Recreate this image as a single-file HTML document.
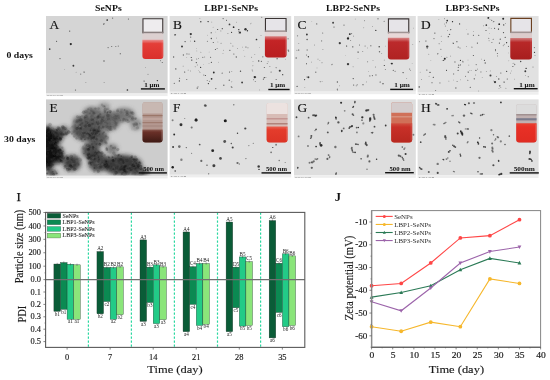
<!DOCTYPE html>
<html><head><meta charset="utf-8"><style>html,body{margin:0;padding:0;background:#fff;width:550px;height:380px;overflow:hidden}svg{display:block}</style></head>
<body><svg width="550" height="380" viewBox="0 0 550 380">
<defs><filter id="blur1" x="-50%" y="-50%" width="200%" height="200%"><feGaussianBlur stdDeviation="2.2"/></filter><filter id="blur2" x="-50%" y="-50%" width="200%" height="200%"><feGaussianBlur stdDeviation="0.9"/></filter><filter id="soft" x="-50%" y="-50%" width="200%" height="200%"><feGaussianBlur stdDeviation="0.35"/></filter><clipPath id="clipE"><rect x="46" y="99.4" width="121.6" height="76.4"/></clipPath></defs>
<rect x="46" y="16" width="121.6" height="77.5" fill="#d5d5d5"/>
<g filter="url(#soft)"><circle cx="148.0" cy="74.2" r="0.47" fill="#202020" fill-opacity="0.59"/><circle cx="108.1" cy="47.6" r="0.61" fill="#202020" fill-opacity="0.62"/><circle cx="104.0" cy="61.0" r="0.66" fill="#202020" fill-opacity="0.73"/><circle cx="80.7" cy="74.1" r="0.55" fill="#202020" fill-opacity="0.59"/><circle cx="84.1" cy="72.1" r="0.66" fill="#202020" fill-opacity="0.83"/><circle cx="103.5" cy="24.6" r="0.47" fill="#202020" fill-opacity="0.79"/><circle cx="104.1" cy="82.3" r="0.40" fill="#202020" fill-opacity="0.89"/><circle cx="112.6" cy="18.1" r="0.59" fill="#202020" fill-opacity="0.67"/><circle cx="145.7" cy="67.4" r="0.30" fill="#202020" fill-opacity="0.72"/><circle cx="85.9" cy="82.7" r="0.38" fill="#202020" fill-opacity="0.76"/><circle cx="75.5" cy="90.0" r="0.62" fill="#202020" fill-opacity="0.70"/><circle cx="56.6" cy="41.2" r="0.50" fill="#202020" fill-opacity="0.96"/><circle cx="60.0" cy="58.6" r="0.58" fill="#202020" fill-opacity="0.75"/><circle cx="162.3" cy="62.5" r="0.54" fill="#202020" fill-opacity="0.69"/><circle cx="118.3" cy="46.1" r="0.53" fill="#202020" fill-opacity="0.61"/><circle cx="69.7" cy="31.1" r="0.55" fill="#202020" fill-opacity="0.81"/><circle cx="104.0" cy="23.8" r="0.60" fill="#202020" fill-opacity="0.93"/><circle cx="157.4" cy="80.6" r="0.66" fill="#202020" fill-opacity="0.96"/><circle cx="111.7" cy="46.5" r="0.58" fill="#202020" fill-opacity="0.60"/><circle cx="144.1" cy="81.1" r="0.66" fill="#202020" fill-opacity="0.77"/><circle cx="160.6" cy="60.8" r="0.48" fill="#202020" fill-opacity="0.81"/><circle cx="120.3" cy="53.7" r="0.55" fill="#202020" fill-opacity="0.91"/><circle cx="76.1" cy="72.2" r="0.35" fill="#202020" fill-opacity="0.57"/><circle cx="64.5" cy="69.7" r="0.32" fill="#202020" fill-opacity="0.77"/><circle cx="128.4" cy="19.0" r="0.55" fill="#202020" fill-opacity="0.78"/><circle cx="115.9" cy="46.5" r="0.45" fill="#202020" fill-opacity="0.99"/><circle cx="49.7" cy="49.1" r="0.84" fill="#202020" fill-opacity="0.85"/><circle cx="73.4" cy="65.8" r="0.94" fill="#202020" fill-opacity="0.84"/><circle cx="107.2" cy="20.0" r="0.84" fill="#202020" fill-opacity="1.00"/><circle cx="70.8" cy="44.1" r="1.09" fill="#202020" fill-opacity="0.97"/><circle cx="127.4" cy="90.0" r="0.82" fill="#202020" fill-opacity="0.94"/></g>
<defs><linearGradient id="v1442" x1="0" y1="0" x2="0" y2="1"><stop offset="0" stop-color="#e89090"/><stop offset="0.2" stop-color="#e43e38"/><stop offset="1" stop-color="#da302c"/></linearGradient></defs><path d="M142.4,18.2 Q142.4,18.2 142.4,18.2 L163.3,18.2 Q163.3,18.2 163.3,18.2 L163.3,56 Q163.3,59 160.3,59 L145.4,59 Q142.4,59 142.4,56 Z" fill="#dcd0d0"/><path d="M142.4,18.2 Q142.4,18.2 142.4,18.2 L163.3,18.2 Q163.3,18.2 163.3,18.2 L163.3,31.7 L142.4,31.7 Z" fill="#eeecee"/><path d="M142.95000000000002,33.2 L142.95000000000002,18.75 L162.75,18.75 L162.75,33.2" fill="none" stroke="#3a3434" stroke-width="1.1"/><rect x="142.4" y="31.7" width="20.9" height="1.5" fill="#8a8080"/><path d="M142.4,39.8 L163.3,39.8 L163.3,56 Q163.3,59 160.3,59 L145.4,59 Q142.4,59 142.4,56 Z" fill="url(#v1442)"/><rect x="161.70000000000002" y="40.8" width="1.2" height="16.2" fill="#fff" fill-opacity="0.12"/>
<rect x="46" y="93.5" width="121.6" height="2.6" fill="#eeeeee"/>
<text x="46.8" y="95.9" font-size="2.8" fill="#555" font-family="Liberation Serif, Times New Roman, serif">JL.DTX.TEM</text>
<text x="49.40" y="28.90" font-size="13.4" fill="#111" font-family="Liberation Serif, Times New Roman, serif" stroke="#111" stroke-width="0.15">A</text>
<rect x="140.9" y="88.2" width="24.0" height="1.4" fill="#111"/>
<text transform="translate(151.85,86.70) scale(1,0.78)" font-size="7.0" font-weight="bold" text-anchor="middle" textLength="15.3" lengthAdjust="spacingAndGlyphs" fill="#111" font-family="Liberation Serif, Times New Roman, serif">1 μm</text>
<rect x="169.6" y="16" width="121.6" height="75.8" fill="#dfdfdf"/>
<g filter="url(#soft)"><circle cx="186.7" cy="79.5" r="0.61" fill="#202020" fill-opacity="0.59"/><circle cx="229.9" cy="50.2" r="0.56" fill="#202020" fill-opacity="0.88"/><circle cx="261.8" cy="17.2" r="0.48" fill="#202020" fill-opacity="0.85"/><circle cx="198.0" cy="86.8" r="0.66" fill="#202020" fill-opacity="0.47"/><circle cx="173.6" cy="57.0" r="0.68" fill="#202020" fill-opacity="0.66"/><circle cx="196.5" cy="48.2" r="0.31" fill="#202020" fill-opacity="0.57"/><circle cx="223.0" cy="53.6" r="0.39" fill="#202020" fill-opacity="0.58"/><circle cx="196.8" cy="50.9" r="0.42" fill="#202020" fill-opacity="0.46"/><circle cx="247.4" cy="30.7" r="0.70" fill="#202020" fill-opacity="0.92"/><circle cx="185.1" cy="41.6" r="0.59" fill="#202020" fill-opacity="0.84"/><circle cx="269.9" cy="66.5" r="0.42" fill="#202020" fill-opacity="0.77"/><circle cx="276.1" cy="79.4" r="0.50" fill="#202020" fill-opacity="0.77"/><circle cx="174.7" cy="34.9" r="0.62" fill="#202020" fill-opacity="0.68"/><circle cx="191.3" cy="57.5" r="0.58" fill="#202020" fill-opacity="0.82"/><circle cx="215.4" cy="49.4" r="0.50" fill="#202020" fill-opacity="0.88"/><circle cx="232.9" cy="46.0" r="0.50" fill="#202020" fill-opacity="0.47"/><circle cx="175.8" cy="68.9" r="0.69" fill="#202020" fill-opacity="0.78"/><circle cx="217.7" cy="29.6" r="0.50" fill="#202020" fill-opacity="0.99"/><circle cx="262.8" cy="56.8" r="0.64" fill="#202020" fill-opacity="0.58"/><circle cx="232.0" cy="87.3" r="0.53" fill="#202020" fill-opacity="0.70"/><circle cx="202.8" cy="57.4" r="0.68" fill="#202020" fill-opacity="0.45"/><circle cx="264.3" cy="77.6" r="0.65" fill="#202020" fill-opacity="0.86"/><circle cx="237.7" cy="48.4" r="0.32" fill="#202020" fill-opacity="0.93"/><circle cx="238.8" cy="31.7" r="0.50" fill="#202020" fill-opacity="0.72"/><circle cx="213.3" cy="42.5" r="0.52" fill="#202020" fill-opacity="0.79"/><circle cx="243.8" cy="50.8" r="0.31" fill="#202020" fill-opacity="0.58"/><circle cx="191.8" cy="60.1" r="0.64" fill="#202020" fill-opacity="0.89"/><circle cx="265.9" cy="77.3" r="0.40" fill="#202020" fill-opacity="0.91"/><circle cx="251.1" cy="23.1" r="0.31" fill="#202020" fill-opacity="0.46"/><circle cx="261.0" cy="35.4" r="0.34" fill="#202020" fill-opacity="0.79"/><circle cx="211.8" cy="22.1" r="0.36" fill="#202020" fill-opacity="0.74"/><circle cx="190.7" cy="37.1" r="0.58" fill="#202020" fill-opacity="0.70"/><circle cx="209.1" cy="52.0" r="0.31" fill="#202020" fill-opacity="0.66"/><circle cx="220.9" cy="30.9" r="0.34" fill="#202020" fill-opacity="0.94"/><circle cx="231.6" cy="32.4" r="0.54" fill="#202020" fill-opacity="0.90"/><circle cx="188.1" cy="70.1" r="0.36" fill="#202020" fill-opacity="0.84"/><circle cx="251.7" cy="57.2" r="0.39" fill="#202020" fill-opacity="0.99"/><circle cx="197.3" cy="64.9" r="0.46" fill="#202020" fill-opacity="0.77"/><circle cx="209.0" cy="63.6" r="0.32" fill="#202020" fill-opacity="0.61"/><circle cx="207.2" cy="80.4" r="0.42" fill="#202020" fill-opacity="0.97"/><circle cx="259.6" cy="47.7" r="0.40" fill="#202020" fill-opacity="0.45"/><circle cx="238.8" cy="29.7" r="0.65" fill="#202020" fill-opacity="0.99"/><circle cx="254.8" cy="54.6" r="0.45" fill="#202020" fill-opacity="0.64"/><circle cx="195.2" cy="66.8" r="0.47" fill="#202020" fill-opacity="0.56"/><circle cx="183.1" cy="66.1" r="0.42" fill="#202020" fill-opacity="0.72"/><circle cx="209.5" cy="81.3" r="0.66" fill="#202020" fill-opacity="0.46"/><circle cx="194.6" cy="41.2" r="0.69" fill="#202020" fill-opacity="0.88"/><circle cx="211.2" cy="32.7" r="0.57" fill="#202020" fill-opacity="0.91"/><circle cx="276.1" cy="67.7" r="0.49" fill="#202020" fill-opacity="0.99"/><circle cx="198.7" cy="70.5" r="0.33" fill="#202020" fill-opacity="0.54"/><circle cx="261.4" cy="61.3" r="0.64" fill="#202020" fill-opacity="0.65"/><circle cx="211.3" cy="38.5" r="0.65" fill="#202020" fill-opacity="0.78"/><circle cx="186.8" cy="57.7" r="0.34" fill="#202020" fill-opacity="0.47"/><circle cx="179.4" cy="80.9" r="0.62" fill="#202020" fill-opacity="0.91"/><circle cx="211.4" cy="62.4" r="0.61" fill="#202020" fill-opacity="0.66"/><circle cx="238.9" cy="33.5" r="0.33" fill="#202020" fill-opacity="0.60"/><circle cx="277.1" cy="58.7" r="0.67" fill="#202020" fill-opacity="0.70"/><circle cx="203.8" cy="75.1" r="0.63" fill="#202020" fill-opacity="0.46"/><circle cx="250.8" cy="23.8" r="0.35" fill="#202020" fill-opacity="0.94"/><circle cx="175.4" cy="34.7" r="0.70" fill="#202020" fill-opacity="0.68"/><circle cx="199.5" cy="71.9" r="0.34" fill="#202020" fill-opacity="0.95"/><circle cx="215.8" cy="88.6" r="0.66" fill="#202020" fill-opacity="0.61"/><circle cx="200.9" cy="52.2" r="0.34" fill="#202020" fill-opacity="0.81"/><circle cx="288.1" cy="38.8" r="0.54" fill="#202020" fill-opacity="0.70"/><circle cx="208.1" cy="21.6" r="0.67" fill="#202020" fill-opacity="0.98"/><circle cx="196.3" cy="62.6" r="0.69" fill="#202020" fill-opacity="0.75"/><circle cx="252.9" cy="65.8" r="0.40" fill="#202020" fill-opacity="0.75"/><circle cx="207.4" cy="35.2" r="0.33" fill="#202020" fill-opacity="0.60"/><circle cx="288.2" cy="50.1" r="0.56" fill="#202020" fill-opacity="0.80"/><circle cx="207.3" cy="41.2" r="0.43" fill="#202020" fill-opacity="0.92"/><circle cx="210.6" cy="57.2" r="0.53" fill="#202020" fill-opacity="0.78"/><circle cx="199.9" cy="18.5" r="0.40" fill="#202020" fill-opacity="0.49"/><circle cx="236.5" cy="22.2" r="0.33" fill="#202020" fill-opacity="0.80"/><circle cx="205.4" cy="75.5" r="0.50" fill="#202020" fill-opacity="0.92"/><circle cx="189.0" cy="54.0" r="0.62" fill="#202020" fill-opacity="0.49"/><circle cx="183.4" cy="55.0" r="0.67" fill="#202020" fill-opacity="0.61"/><circle cx="208.4" cy="83.6" r="0.62" fill="#202020" fill-opacity="0.95"/><circle cx="271.1" cy="72.1" r="0.58" fill="#202020" fill-opacity="0.55"/><circle cx="222.3" cy="28.7" r="0.59" fill="#202020" fill-opacity="0.82"/><circle cx="200.8" cy="21.8" r="0.69" fill="#202020" fill-opacity="0.89"/><circle cx="236.3" cy="57.0" r="0.64" fill="#202020" fill-opacity="0.70"/><circle cx="217.9" cy="42.0" r="0.40" fill="#202020" fill-opacity="0.46"/><circle cx="247.9" cy="47.8" r="0.53" fill="#202020" fill-opacity="0.48"/><circle cx="213.1" cy="27.2" r="0.35" fill="#202020" fill-opacity="0.59"/><circle cx="218.6" cy="62.2" r="0.39" fill="#202020" fill-opacity="0.45"/><circle cx="233.8" cy="54.0" r="0.56" fill="#202020" fill-opacity="0.69"/><circle cx="252.7" cy="71.0" r="0.40" fill="#202020" fill-opacity="0.72"/><circle cx="227.9" cy="33.6" r="0.46" fill="#202020" fill-opacity="0.76"/><circle cx="203.5" cy="64.7" r="0.32" fill="#202020" fill-opacity="0.49"/><circle cx="231.8" cy="81.8" r="0.36" fill="#202020" fill-opacity="0.87"/><circle cx="253.4" cy="79.7" r="0.45" fill="#202020" fill-opacity="0.84"/><circle cx="258.7" cy="60.9" r="0.64" fill="#202020" fill-opacity="0.94"/><circle cx="285.4" cy="59.2" r="0.37" fill="#202020" fill-opacity="0.59"/><circle cx="196.6" cy="59.0" r="0.60" fill="#202020" fill-opacity="0.48"/><circle cx="252.1" cy="69.9" r="0.44" fill="#202020" fill-opacity="0.73"/><circle cx="190.3" cy="70.9" r="0.32" fill="#202020" fill-opacity="0.99"/><circle cx="267.2" cy="63.4" r="0.41" fill="#202020" fill-opacity="0.95"/><circle cx="263.4" cy="79.1" r="0.56" fill="#202020" fill-opacity="0.84"/><circle cx="223.8" cy="85.2" r="0.69" fill="#202020" fill-opacity="0.66"/><circle cx="190.3" cy="41.0" r="0.35" fill="#202020" fill-opacity="0.95"/><circle cx="242.4" cy="47.1" r="0.35" fill="#202020" fill-opacity="0.61"/><circle cx="200.3" cy="72.3" r="0.30" fill="#202020" fill-opacity="0.55"/><circle cx="223.1" cy="18.6" r="0.55" fill="#202020" fill-opacity="0.78"/><circle cx="204.7" cy="57.0" r="0.41" fill="#202020" fill-opacity="0.77"/><circle cx="200.6" cy="67.4" r="0.62" fill="#202020" fill-opacity="0.89"/><circle cx="229.3" cy="80.2" r="0.61" fill="#202020" fill-opacity="0.76"/><circle cx="216.4" cy="38.0" r="0.34" fill="#202020" fill-opacity="0.89"/><circle cx="184.7" cy="72.1" r="0.52" fill="#202020" fill-opacity="0.98"/><circle cx="186.9" cy="53.9" r="0.53" fill="#202020" fill-opacity="0.62"/><circle cx="230.8" cy="43.3" r="0.51" fill="#202020" fill-opacity="0.45"/><circle cx="223.5" cy="50.2" r="0.42" fill="#202020" fill-opacity="0.67"/><circle cx="264.3" cy="67.4" r="0.50" fill="#202020" fill-opacity="0.81"/><circle cx="215.8" cy="32.0" r="0.30" fill="#202020" fill-opacity="0.60"/><circle cx="242.1" cy="82.1" r="0.63" fill="#202020" fill-opacity="0.73"/><circle cx="288.6" cy="51.1" r="0.63" fill="#202020" fill-opacity="0.67"/><circle cx="259.7" cy="89.9" r="0.42" fill="#202020" fill-opacity="0.54"/><circle cx="244.8" cy="56.2" r="0.44" fill="#202020" fill-opacity="0.45"/><circle cx="217.1" cy="48.4" r="0.46" fill="#202020" fill-opacity="0.92"/><circle cx="240.5" cy="71.2" r="0.66" fill="#202020" fill-opacity="0.86"/><circle cx="229.5" cy="72.0" r="0.56" fill="#202020" fill-opacity="0.81"/><circle cx="245.9" cy="47.0" r="0.55" fill="#202020" fill-opacity="0.80"/><circle cx="282.7" cy="74.7" r="0.64" fill="#202020" fill-opacity="0.87"/><circle cx="268.1" cy="61.7" r="0.44" fill="#202020" fill-opacity="0.60"/><circle cx="255.3" cy="81.5" r="0.52" fill="#202020" fill-opacity="0.53"/><circle cx="226.5" cy="20.3" r="0.50" fill="#202020" fill-opacity="0.86"/><circle cx="221.1" cy="43.2" r="0.56" fill="#202020" fill-opacity="0.46"/><circle cx="231.3" cy="86.8" r="0.58" fill="#202020" fill-opacity="0.67"/><circle cx="253.0" cy="61.6" r="0.38" fill="#202020" fill-opacity="0.56"/><circle cx="179.6" cy="78.3" r="0.51" fill="#202020" fill-opacity="0.65"/><circle cx="231.8" cy="71.4" r="0.37" fill="#202020" fill-opacity="0.81"/><circle cx="255.9" cy="77.1" r="0.41" fill="#202020" fill-opacity="0.79"/><circle cx="198.4" cy="58.4" r="0.37" fill="#202020" fill-opacity="0.88"/><circle cx="197.2" cy="88.1" r="0.58" fill="#202020" fill-opacity="0.91"/><circle cx="174.3" cy="83.4" r="0.55" fill="#202020" fill-opacity="0.62"/><circle cx="222.2" cy="73.2" r="0.61" fill="#202020" fill-opacity="0.55"/><circle cx="245.5" cy="29.2" r="1.19" fill="#202020" fill-opacity="0.89"/><circle cx="279.8" cy="70.7" r="1.04" fill="#202020" fill-opacity="0.85"/><circle cx="233.6" cy="27.2" r="0.86" fill="#202020" fill-opacity="0.94"/><circle cx="213.8" cy="72.5" r="0.90" fill="#202020" fill-opacity="0.94"/><circle cx="256.5" cy="39.5" r="0.84" fill="#202020" fill-opacity="0.88"/><circle cx="229.5" cy="24.4" r="0.87" fill="#202020" fill-opacity="0.81"/><circle cx="242.1" cy="82.6" r="0.89" fill="#202020" fill-opacity="0.81"/><circle cx="254.8" cy="77.1" r="1.19" fill="#202020" fill-opacity="0.92"/><circle cx="211.6" cy="78.8" r="0.85" fill="#202020" fill-opacity="0.94"/><circle cx="182.0" cy="46.5" r="1.00" fill="#202020" fill-opacity="0.88"/><circle cx="190.8" cy="34.1" r="1.13" fill="#202020" fill-opacity="0.89"/><circle cx="240.0" cy="32.6" r="1.09" fill="#202020" fill-opacity="0.87"/></g>
<defs><linearGradient id="v2666" x1="0" y1="0" x2="0" y2="1"><stop offset="0" stop-color="#d88080"/><stop offset="0.2" stop-color="#c42426"/><stop offset="1" stop-color="#b81e20"/></linearGradient></defs><path d="M264.9,17.9 Q264.9,17.9 264.9,17.9 L286.6,17.9 Q286.6,17.9 286.6,17.9 L286.6,54.6 Q286.6,57.6 283.6,57.6 L267.9,57.6 Q264.9,57.6 264.9,54.6 Z" fill="#e4d6d6"/><path d="M264.9,17.9 Q264.9,17.9 264.9,17.9 L286.6,17.9 Q286.6,17.9 286.6,17.9 L286.6,30.4 L264.9,30.4 Z" fill="#e6e4e8"/><path d="M265.45,31.9 L265.45,18.45 L286.05,18.45 L286.05,31.9" fill="none" stroke="#3a3434" stroke-width="1.1"/><rect x="264.9" y="30.4" width="21.7" height="1.5" fill="#a09494"/><path d="M264.9,36.3 L286.6,36.3 L286.6,54.6 Q286.6,57.6 283.6,57.6 L267.9,57.6 Q264.9,57.6 264.9,54.6 Z" fill="url(#v2666)"/><rect x="285.0" y="37.3" width="1.2" height="18.3" fill="#fff" fill-opacity="0.12"/>
<rect x="169.6" y="91.8" width="121.6" height="2.6" fill="#eeeeee"/>
<text x="170.4" y="94.2" font-size="2.8" fill="#555" font-family="Liberation Serif, Times New Roman, serif">JL.DTX.TEM</text>
<text x="173.00" y="28.90" font-size="13.4" fill="#111" font-family="Liberation Serif, Times New Roman, serif" stroke="#111" stroke-width="0.15">B</text>
<rect x="268.3" y="88.8" width="21.3" height="1.4" fill="#111"/>
<text transform="translate(277.55,87.40) scale(1,0.78)" font-size="7.0" font-weight="bold" text-anchor="middle" textLength="15.3" lengthAdjust="spacingAndGlyphs" fill="#111" font-family="Liberation Serif, Times New Roman, serif">1 μm</text>
<rect x="294" y="16" width="121.8" height="75.6" fill="#e0e0e0"/>
<g filter="url(#soft)"><circle cx="395.1" cy="71.2" r="0.57" fill="#202020" fill-opacity="0.62"/><circle cx="367.6" cy="61.7" r="0.53" fill="#202020" fill-opacity="0.54"/><circle cx="346.6" cy="46.0" r="0.59" fill="#202020" fill-opacity="1.00"/><circle cx="348.3" cy="36.7" r="0.31" fill="#202020" fill-opacity="0.47"/><circle cx="350.7" cy="40.4" r="0.45" fill="#202020" fill-opacity="0.94"/><circle cx="358.0" cy="58.3" r="0.39" fill="#202020" fill-opacity="0.46"/><circle cx="334.0" cy="27.1" r="0.50" fill="#202020" fill-opacity="1.00"/><circle cx="375.8" cy="30.4" r="0.66" fill="#202020" fill-opacity="0.89"/><circle cx="383.0" cy="83.7" r="0.61" fill="#202020" fill-opacity="0.88"/><circle cx="337.4" cy="89.2" r="0.68" fill="#202020" fill-opacity="0.54"/><circle cx="385.3" cy="69.6" r="0.48" fill="#202020" fill-opacity="0.74"/><circle cx="353.7" cy="85.1" r="0.50" fill="#202020" fill-opacity="0.91"/><circle cx="337.4" cy="82.0" r="0.66" fill="#202020" fill-opacity="0.70"/><circle cx="363.0" cy="84.7" r="0.59" fill="#202020" fill-opacity="0.72"/><circle cx="321.6" cy="40.9" r="0.58" fill="#202020" fill-opacity="0.54"/><circle cx="409.7" cy="69.0" r="0.50" fill="#202020" fill-opacity="0.73"/><circle cx="373.0" cy="60.3" r="0.42" fill="#202020" fill-opacity="0.56"/><circle cx="356.3" cy="85.8" r="0.55" fill="#202020" fill-opacity="0.49"/><circle cx="393.3" cy="70.4" r="0.66" fill="#202020" fill-opacity="0.56"/><circle cx="384.2" cy="21.3" r="0.56" fill="#202020" fill-opacity="0.60"/><circle cx="322.1" cy="81.4" r="0.34" fill="#202020" fill-opacity="0.74"/><circle cx="320.2" cy="81.8" r="0.47" fill="#202020" fill-opacity="0.84"/><circle cx="298.8" cy="43.7" r="0.37" fill="#202020" fill-opacity="0.82"/><circle cx="304.9" cy="87.3" r="0.31" fill="#202020" fill-opacity="0.85"/><circle cx="297.5" cy="35.8" r="0.63" fill="#202020" fill-opacity="0.54"/><circle cx="317.0" cy="67.9" r="0.45" fill="#202020" fill-opacity="0.47"/><circle cx="413.6" cy="28.1" r="0.31" fill="#202020" fill-opacity="0.64"/><circle cx="368.7" cy="71.6" r="0.35" fill="#202020" fill-opacity="0.64"/><circle cx="298.7" cy="50.0" r="0.61" fill="#202020" fill-opacity="0.86"/><circle cx="403.1" cy="72.6" r="0.64" fill="#202020" fill-opacity="0.84"/><circle cx="351.6" cy="33.6" r="0.56" fill="#202020" fill-opacity="0.62"/><circle cx="307.2" cy="50.0" r="0.65" fill="#202020" fill-opacity="0.52"/><circle cx="365.1" cy="45.9" r="0.51" fill="#202020" fill-opacity="0.53"/><circle cx="367.6" cy="47.9" r="0.31" fill="#202020" fill-opacity="0.76"/><circle cx="311.8" cy="21.2" r="0.31" fill="#202020" fill-opacity="0.54"/><circle cx="306.5" cy="63.7" r="0.50" fill="#202020" fill-opacity="0.99"/><circle cx="322.9" cy="49.7" r="0.40" fill="#202020" fill-opacity="0.78"/><circle cx="369.8" cy="75.9" r="0.58" fill="#202020" fill-opacity="0.59"/><circle cx="345.7" cy="55.7" r="0.30" fill="#202020" fill-opacity="0.47"/><circle cx="344.0" cy="25.2" r="0.59" fill="#202020" fill-opacity="0.58"/><circle cx="322.7" cy="33.0" r="0.51" fill="#202020" fill-opacity="0.71"/><circle cx="332.1" cy="64.2" r="0.38" fill="#202020" fill-opacity="0.95"/><circle cx="410.4" cy="70.6" r="0.47" fill="#202020" fill-opacity="0.73"/><circle cx="364.6" cy="20.8" r="0.47" fill="#202020" fill-opacity="0.74"/><circle cx="316.7" cy="23.9" r="0.62" fill="#202020" fill-opacity="0.65"/><circle cx="357.2" cy="84.8" r="0.54" fill="#202020" fill-opacity="0.61"/><circle cx="412.8" cy="44.4" r="0.31" fill="#202020" fill-opacity="0.83"/><circle cx="307.1" cy="39.5" r="0.64" fill="#202020" fill-opacity="0.82"/><circle cx="296.9" cy="50.2" r="0.46" fill="#202020" fill-opacity="0.72"/><circle cx="319.9" cy="60.3" r="0.33" fill="#202020" fill-opacity="0.61"/><circle cx="339.7" cy="85.8" r="0.33" fill="#202020" fill-opacity="0.87"/><circle cx="318.0" cy="59.1" r="0.46" fill="#202020" fill-opacity="0.70"/><circle cx="385.3" cy="46.1" r="0.35" fill="#202020" fill-opacity="0.52"/><circle cx="304.6" cy="79.6" r="0.56" fill="#202020" fill-opacity="0.98"/><circle cx="378.0" cy="18.8" r="0.56" fill="#202020" fill-opacity="0.88"/><circle cx="381.7" cy="53.6" r="0.44" fill="#202020" fill-opacity="0.70"/><circle cx="358.1" cy="52.1" r="0.68" fill="#202020" fill-opacity="0.89"/><circle cx="406.7" cy="78.5" r="0.42" fill="#202020" fill-opacity="0.58"/><circle cx="353.6" cy="36.1" r="0.47" fill="#202020" fill-opacity="0.82"/><circle cx="337.7" cy="90.4" r="0.36" fill="#202020" fill-opacity="0.68"/><circle cx="372.6" cy="26.5" r="0.42" fill="#202020" fill-opacity="0.58"/><circle cx="375.4" cy="67.1" r="0.48" fill="#202020" fill-opacity="0.74"/><circle cx="308.4" cy="56.8" r="0.68" fill="#202020" fill-opacity="0.87"/><circle cx="306.5" cy="55.0" r="0.59" fill="#202020" fill-opacity="0.59"/><circle cx="379.2" cy="46.7" r="0.70" fill="#202020" fill-opacity="0.88"/><circle cx="363.7" cy="27.7" r="0.48" fill="#202020" fill-opacity="0.47"/><circle cx="366.3" cy="81.9" r="0.37" fill="#202020" fill-opacity="0.73"/><circle cx="352.8" cy="46.8" r="0.58" fill="#202020" fill-opacity="0.97"/><circle cx="379.5" cy="51.8" r="0.68" fill="#202020" fill-opacity="0.63"/><circle cx="384.3" cy="65.5" r="0.60" fill="#202020" fill-opacity="0.92"/><circle cx="322.0" cy="62.7" r="0.46" fill="#202020" fill-opacity="0.82"/><circle cx="412.1" cy="63.7" r="0.30" fill="#202020" fill-opacity="0.71"/><circle cx="380.2" cy="82.0" r="0.56" fill="#202020" fill-opacity="0.90"/><circle cx="297.1" cy="86.4" r="0.59" fill="#202020" fill-opacity="0.78"/><circle cx="307.0" cy="77.0" r="0.61" fill="#202020" fill-opacity="0.56"/><circle cx="384.2" cy="60.1" r="0.38" fill="#202020" fill-opacity="0.89"/><circle cx="311.5" cy="62.1" r="0.47" fill="#202020" fill-opacity="0.59"/><circle cx="362.8" cy="51.4" r="0.38" fill="#202020" fill-opacity="0.98"/><circle cx="353.2" cy="78.6" r="0.56" fill="#202020" fill-opacity="0.87"/><circle cx="353.1" cy="66.7" r="0.43" fill="#202020" fill-opacity="0.60"/><circle cx="355.2" cy="19.0" r="0.33" fill="#202020" fill-opacity="0.86"/><circle cx="315.8" cy="72.2" r="0.61" fill="#202020" fill-opacity="0.67"/><circle cx="375.9" cy="75.0" r="0.65" fill="#202020" fill-opacity="0.52"/><circle cx="314.5" cy="45.1" r="0.49" fill="#202020" fill-opacity="0.61"/><circle cx="296.2" cy="58.0" r="0.69" fill="#202020" fill-opacity="0.65"/><circle cx="359.5" cy="45.1" r="0.48" fill="#202020" fill-opacity="0.93"/><circle cx="331.9" cy="64.8" r="0.49" fill="#202020" fill-opacity="0.75"/><circle cx="372.4" cy="75.6" r="0.56" fill="#202020" fill-opacity="0.67"/><circle cx="370.9" cy="45.8" r="0.51" fill="#202020" fill-opacity="0.92"/><circle cx="390.6" cy="63.3" r="0.42" fill="#202020" fill-opacity="0.58"/><circle cx="349.8" cy="34.1" r="0.91" fill="#202020" fill-opacity="0.99"/><circle cx="308.4" cy="77.3" r="0.95" fill="#202020" fill-opacity="0.87"/><circle cx="333.1" cy="22.7" r="0.98" fill="#202020" fill-opacity="0.83"/><circle cx="348.0" cy="38.5" r="1.16" fill="#202020" fill-opacity="0.98"/><circle cx="348.0" cy="64.1" r="1.17" fill="#202020" fill-opacity="0.87"/><circle cx="306.9" cy="34.5" r="0.88" fill="#202020" fill-opacity="0.94"/><circle cx="339.8" cy="43.2" r="1.12" fill="#202020" fill-opacity="0.85"/><circle cx="391.9" cy="63.6" r="0.96" fill="#202020" fill-opacity="0.96"/></g>
<defs><linearGradient id="v3897" x1="0" y1="0" x2="0" y2="1"><stop offset="0" stop-color="#d88888"/><stop offset="0.2" stop-color="#bc2a2c"/><stop offset="1" stop-color="#b02222"/></linearGradient></defs><path d="M387.9,18.3 Q387.9,18.3 387.9,18.3 L409.3,18.3 Q409.3,18.3 409.3,18.3 L409.3,56.4 Q409.3,59.4 406.3,59.4 L390.9,59.4 Q387.9,59.4 387.9,56.4 Z" fill="#e8d8d8"/><path d="M387.9,18.3 Q387.9,18.3 387.9,18.3 L409.3,18.3 Q409.3,18.3 409.3,18.3 L409.3,31.7 L387.9,31.7 Z" fill="#e6e4e8"/><path d="M388.45,33.2 L388.45,18.85 L408.75,18.85 L408.75,33.2" fill="none" stroke="#3a3434" stroke-width="1.1"/><rect x="387.9" y="31.7" width="21.4" height="1.5" fill="#a09494"/><path d="M387.9,37.7 L409.3,37.7 L409.3,56.4 Q409.3,59.4 406.3,59.4 L390.9,59.4 Q387.9,59.4 387.9,56.4 Z" fill="url(#v3897)"/><rect x="407.7" y="38.7" width="1.2" height="18.7" fill="#fff" fill-opacity="0.12"/>
<rect x="294" y="91.6" width="121.8" height="2.6" fill="#eeeeee"/>
<text x="294.8" y="94.0" font-size="2.8" fill="#555" font-family="Liberation Serif, Times New Roman, serif">JL.DTX.TEM</text>
<text x="297.40" y="28.90" font-size="13.4" fill="#111" font-family="Liberation Serif, Times New Roman, serif" stroke="#111" stroke-width="0.15">C</text>
<rect x="390.2" y="88.7" width="22.9" height="1.4" fill="#111"/>
<text transform="translate(402.00,87.20) scale(1,0.78)" font-size="7.0" font-weight="bold" text-anchor="middle" textLength="15.6" lengthAdjust="spacingAndGlyphs" fill="#111" font-family="Liberation Serif, Times New Roman, serif">1 μm</text>
<rect x="417.6" y="16" width="121.0" height="76.1" fill="#e1e1e1"/>
<g filter="url(#soft)"><circle cx="446.9" cy="57.3" r="0.45" fill="#202020" fill-opacity="0.78"/><circle cx="493.1" cy="21.9" r="0.31" fill="#202020" fill-opacity="0.91"/><circle cx="449.5" cy="34.4" r="0.70" fill="#202020" fill-opacity="0.71"/><circle cx="494.6" cy="28.2" r="0.55" fill="#202020" fill-opacity="0.93"/><circle cx="480.9" cy="71.9" r="0.57" fill="#202020" fill-opacity="0.49"/><circle cx="508.8" cy="60.8" r="0.42" fill="#202020" fill-opacity="0.47"/><circle cx="504.1" cy="82.1" r="0.59" fill="#202020" fill-opacity="0.96"/><circle cx="465.6" cy="76.3" r="0.48" fill="#202020" fill-opacity="0.96"/><circle cx="434.8" cy="33.1" r="0.69" fill="#202020" fill-opacity="0.69"/><circle cx="493.2" cy="39.3" r="0.50" fill="#202020" fill-opacity="0.66"/><circle cx="460.4" cy="60.4" r="0.53" fill="#202020" fill-opacity="0.95"/><circle cx="499.8" cy="85.8" r="0.64" fill="#202020" fill-opacity="1.00"/><circle cx="498.5" cy="29.1" r="0.64" fill="#202020" fill-opacity="0.98"/><circle cx="503.5" cy="32.6" r="0.63" fill="#202020" fill-opacity="0.77"/><circle cx="452.5" cy="21.7" r="0.64" fill="#202020" fill-opacity="0.99"/><circle cx="429.1" cy="76.3" r="0.46" fill="#202020" fill-opacity="0.53"/><circle cx="453.6" cy="74.0" r="0.65" fill="#202020" fill-opacity="0.47"/><circle cx="491.7" cy="20.3" r="0.59" fill="#202020" fill-opacity="0.63"/><circle cx="478.7" cy="91.0" r="0.42" fill="#202020" fill-opacity="0.49"/><circle cx="490.0" cy="19.3" r="0.38" fill="#202020" fill-opacity="0.67"/><circle cx="491.2" cy="28.6" r="0.32" fill="#202020" fill-opacity="0.93"/><circle cx="455.9" cy="88.0" r="0.66" fill="#202020" fill-opacity="0.66"/><circle cx="473.4" cy="55.5" r="0.56" fill="#202020" fill-opacity="0.78"/><circle cx="485.2" cy="63.0" r="0.68" fill="#202020" fill-opacity="0.73"/><circle cx="469.9" cy="70.4" r="0.40" fill="#202020" fill-opacity="0.62"/><circle cx="535.0" cy="55.6" r="0.52" fill="#202020" fill-opacity="0.46"/><circle cx="468.0" cy="60.0" r="0.31" fill="#202020" fill-opacity="0.79"/><circle cx="493.8" cy="21.5" r="0.55" fill="#202020" fill-opacity="0.71"/><circle cx="499.4" cy="43.1" r="0.58" fill="#202020" fill-opacity="0.86"/><circle cx="499.0" cy="88.4" r="0.40" fill="#202020" fill-opacity="0.70"/><circle cx="489.1" cy="40.7" r="0.45" fill="#202020" fill-opacity="0.62"/><circle cx="462.5" cy="61.1" r="0.42" fill="#202020" fill-opacity="0.66"/><circle cx="486.3" cy="71.5" r="0.42" fill="#202020" fill-opacity="0.57"/><circle cx="440.9" cy="49.3" r="0.58" fill="#202020" fill-opacity="0.51"/><circle cx="456.9" cy="41.7" r="0.63" fill="#202020" fill-opacity="0.69"/><circle cx="458.7" cy="65.2" r="0.65" fill="#202020" fill-opacity="0.70"/><circle cx="445.4" cy="26.0" r="0.51" fill="#202020" fill-opacity="0.55"/><circle cx="514.6" cy="79.1" r="0.37" fill="#202020" fill-opacity="0.60"/><circle cx="514.7" cy="64.6" r="0.62" fill="#202020" fill-opacity="0.64"/><circle cx="434.0" cy="38.6" r="0.62" fill="#202020" fill-opacity="0.60"/><circle cx="459.8" cy="47.9" r="0.47" fill="#202020" fill-opacity="0.68"/><circle cx="419.2" cy="86.9" r="0.65" fill="#202020" fill-opacity="0.99"/><circle cx="470.3" cy="87.4" r="0.67" fill="#202020" fill-opacity="0.57"/><circle cx="507.3" cy="79.0" r="0.57" fill="#202020" fill-opacity="0.74"/><circle cx="453.0" cy="42.3" r="0.39" fill="#202020" fill-opacity="0.49"/><circle cx="488.7" cy="38.3" r="0.62" fill="#202020" fill-opacity="0.47"/><circle cx="526.1" cy="68.4" r="0.67" fill="#202020" fill-opacity="0.94"/><circle cx="420.2" cy="72.2" r="0.37" fill="#202020" fill-opacity="0.61"/><circle cx="497.5" cy="55.9" r="0.47" fill="#202020" fill-opacity="0.97"/><circle cx="491.4" cy="42.3" r="0.40" fill="#202020" fill-opacity="0.92"/><circle cx="475.4" cy="75.0" r="0.44" fill="#202020" fill-opacity="0.56"/><circle cx="482.2" cy="77.5" r="0.37" fill="#202020" fill-opacity="0.89"/><circle cx="528.3" cy="76.7" r="0.63" fill="#202020" fill-opacity="0.45"/><circle cx="493.4" cy="80.9" r="0.32" fill="#202020" fill-opacity="0.60"/><circle cx="450.6" cy="56.1" r="0.47" fill="#202020" fill-opacity="0.71"/><circle cx="428.8" cy="54.2" r="0.43" fill="#202020" fill-opacity="0.62"/><circle cx="460.4" cy="64.9" r="0.53" fill="#202020" fill-opacity="0.65"/><circle cx="441.3" cy="41.4" r="0.35" fill="#202020" fill-opacity="0.76"/><circle cx="503.8" cy="45.2" r="0.33" fill="#202020" fill-opacity="0.55"/><circle cx="463.0" cy="61.8" r="0.61" fill="#202020" fill-opacity="0.66"/><circle cx="513.9" cy="63.2" r="0.47" fill="#202020" fill-opacity="0.65"/><circle cx="477.6" cy="69.1" r="0.47" fill="#202020" fill-opacity="0.83"/><circle cx="473.4" cy="35.2" r="0.51" fill="#202020" fill-opacity="0.83"/><circle cx="427.1" cy="48.5" r="0.47" fill="#202020" fill-opacity="0.93"/><circle cx="525.4" cy="75.6" r="0.40" fill="#202020" fill-opacity="0.71"/><circle cx="433.3" cy="77.3" r="0.56" fill="#202020" fill-opacity="0.94"/><circle cx="512.9" cy="66.5" r="0.59" fill="#202020" fill-opacity="0.76"/><circle cx="430.9" cy="60.6" r="0.30" fill="#202020" fill-opacity="0.53"/><circle cx="421.4" cy="79.4" r="0.35" fill="#202020" fill-opacity="0.91"/><circle cx="498.8" cy="79.0" r="0.68" fill="#202020" fill-opacity="0.77"/><circle cx="503.7" cy="24.9" r="0.60" fill="#202020" fill-opacity="0.96"/><circle cx="425.9" cy="41.0" r="0.53" fill="#202020" fill-opacity="0.91"/><circle cx="447.4" cy="30.3" r="0.40" fill="#202020" fill-opacity="0.79"/><circle cx="508.3" cy="46.2" r="0.45" fill="#202020" fill-opacity="0.67"/><circle cx="460.3" cy="48.0" r="0.33" fill="#202020" fill-opacity="0.73"/><circle cx="534.4" cy="47.6" r="0.60" fill="#202020" fill-opacity="0.54"/><circle cx="500.8" cy="73.0" r="0.57" fill="#202020" fill-opacity="0.73"/><circle cx="476.2" cy="64.6" r="0.66" fill="#202020" fill-opacity="0.53"/><circle cx="430.0" cy="72.4" r="0.67" fill="#202020" fill-opacity="0.73"/><circle cx="471.3" cy="70.3" r="0.37" fill="#202020" fill-opacity="0.60"/><circle cx="442.3" cy="60.4" r="0.43" fill="#202020" fill-opacity="0.58"/><circle cx="500.8" cy="87.6" r="0.42" fill="#202020" fill-opacity="0.84"/><circle cx="467.8" cy="80.3" r="0.53" fill="#202020" fill-opacity="0.60"/><circle cx="444.5" cy="18.7" r="0.49" fill="#202020" fill-opacity="0.66"/><circle cx="439.1" cy="43.7" r="0.43" fill="#202020" fill-opacity="0.88"/><circle cx="435.7" cy="90.4" r="0.49" fill="#202020" fill-opacity="0.78"/><circle cx="474.3" cy="78.8" r="0.63" fill="#202020" fill-opacity="0.76"/><circle cx="475.9" cy="70.4" r="0.64" fill="#202020" fill-opacity="0.67"/><circle cx="505.9" cy="88.2" r="0.49" fill="#202020" fill-opacity="0.58"/><circle cx="446.5" cy="70.2" r="0.57" fill="#202020" fill-opacity="0.98"/><circle cx="441.2" cy="36.2" r="0.37" fill="#202020" fill-opacity="0.84"/><circle cx="448.9" cy="81.1" r="0.43" fill="#202020" fill-opacity="0.68"/><circle cx="505.3" cy="23.4" r="0.34" fill="#202020" fill-opacity="0.91"/><circle cx="453.3" cy="43.4" r="0.53" fill="#202020" fill-opacity="0.82"/><circle cx="419.4" cy="41.8" r="0.47" fill="#202020" fill-opacity="0.72"/><circle cx="443.6" cy="60.4" r="0.68" fill="#202020" fill-opacity="0.67"/><circle cx="483.4" cy="25.8" r="0.41" fill="#202020" fill-opacity="0.82"/><circle cx="432.0" cy="82.7" r="0.66" fill="#202020" fill-opacity="0.50"/><circle cx="510.5" cy="73.1" r="0.42" fill="#202020" fill-opacity="0.82"/><circle cx="496.4" cy="76.7" r="0.41" fill="#202020" fill-opacity="0.86"/><circle cx="533.0" cy="66.9" r="0.51" fill="#202020" fill-opacity="0.51"/><circle cx="477.4" cy="43.1" r="0.59" fill="#202020" fill-opacity="0.82"/><circle cx="486.0" cy="30.5" r="0.56" fill="#202020" fill-opacity="0.80"/><circle cx="439.9" cy="82.9" r="0.56" fill="#202020" fill-opacity="0.52"/><circle cx="458.1" cy="70.4" r="0.54" fill="#202020" fill-opacity="0.76"/><circle cx="495.7" cy="50.9" r="0.42" fill="#202020" fill-opacity="0.55"/><circle cx="426.8" cy="70.0" r="0.60" fill="#202020" fill-opacity="0.75"/><circle cx="506.6" cy="43.6" r="0.41" fill="#202020" fill-opacity="0.66"/><circle cx="478.7" cy="35.3" r="0.61" fill="#202020" fill-opacity="0.64"/><circle cx="458.2" cy="46.9" r="0.52" fill="#202020" fill-opacity="0.87"/><circle cx="460.6" cy="79.8" r="0.34" fill="#202020" fill-opacity="0.60"/><circle cx="511.3" cy="70.9" r="0.37" fill="#202020" fill-opacity="0.55"/><circle cx="468.2" cy="72.1" r="0.63" fill="#202020" fill-opacity="0.86"/><circle cx="489.0" cy="27.9" r="0.46" fill="#202020" fill-opacity="0.56"/><circle cx="481.4" cy="59.1" r="0.38" fill="#202020" fill-opacity="0.59"/><circle cx="484.4" cy="60.2" r="0.55" fill="#202020" fill-opacity="0.99"/><circle cx="500.3" cy="39.2" r="0.64" fill="#202020" fill-opacity="0.72"/><circle cx="490.2" cy="70.9" r="0.30" fill="#202020" fill-opacity="0.87"/><circle cx="497.4" cy="53.4" r="0.51" fill="#202020" fill-opacity="0.70"/><circle cx="441.6" cy="56.2" r="0.31" fill="#202020" fill-opacity="0.73"/><circle cx="495.5" cy="49.9" r="0.53" fill="#202020" fill-opacity="0.98"/><circle cx="512.9" cy="63.2" r="0.32" fill="#202020" fill-opacity="0.65"/><circle cx="446.4" cy="22.8" r="0.52" fill="#202020" fill-opacity="0.96"/><circle cx="457.1" cy="81.5" r="0.58" fill="#202020" fill-opacity="0.52"/><circle cx="520.7" cy="61.5" r="0.67" fill="#202020" fill-opacity="0.84"/><circle cx="506.6" cy="42.5" r="0.62" fill="#202020" fill-opacity="0.96"/><circle cx="508.7" cy="52.9" r="0.34" fill="#202020" fill-opacity="0.47"/><circle cx="437.7" cy="53.8" r="0.58" fill="#202020" fill-opacity="0.75"/><circle cx="468.8" cy="65.1" r="0.42" fill="#202020" fill-opacity="0.71"/><circle cx="508.7" cy="46.7" r="0.37" fill="#202020" fill-opacity="0.94"/><circle cx="504.2" cy="44.2" r="0.45" fill="#202020" fill-opacity="0.74"/><circle cx="489.6" cy="33.6" r="0.30" fill="#202020" fill-opacity="0.56"/><circle cx="473.3" cy="31.5" r="0.38" fill="#202020" fill-opacity="0.54"/><circle cx="466.6" cy="29.5" r="0.31" fill="#202020" fill-opacity="0.51"/><circle cx="438.6" cy="53.3" r="0.32" fill="#202020" fill-opacity="0.46"/><circle cx="471.9" cy="47.2" r="0.58" fill="#202020" fill-opacity="0.48"/><circle cx="466.6" cy="46.4" r="0.31" fill="#202020" fill-opacity="0.98"/><circle cx="444.7" cy="24.0" r="0.49" fill="#202020" fill-opacity="0.54"/><circle cx="492.7" cy="42.7" r="0.35" fill="#202020" fill-opacity="0.48"/><circle cx="505.2" cy="37.4" r="0.62" fill="#202020" fill-opacity="0.71"/><circle cx="448.3" cy="36.7" r="0.63" fill="#202020" fill-opacity="0.80"/><circle cx="459.6" cy="23.9" r="0.57" fill="#202020" fill-opacity="0.98"/><circle cx="489.1" cy="17.3" r="0.31" fill="#202020" fill-opacity="0.50"/><circle cx="438.9" cy="19.7" r="0.32" fill="#202020" fill-opacity="0.81"/><circle cx="534.5" cy="52.3" r="0.62" fill="#202020" fill-opacity="0.95"/><circle cx="454.9" cy="62.0" r="0.68" fill="#202020" fill-opacity="0.50"/><circle cx="453.5" cy="80.0" r="0.35" fill="#202020" fill-opacity="0.66"/><circle cx="458.4" cy="67.4" r="0.67" fill="#202020" fill-opacity="0.55"/><circle cx="506.6" cy="71.4" r="0.63" fill="#202020" fill-opacity="0.75"/><circle cx="468.0" cy="34.0" r="0.61" fill="#202020" fill-opacity="0.71"/><circle cx="450.7" cy="29.6" r="0.59" fill="#202020" fill-opacity="0.78"/><circle cx="503.2" cy="45.7" r="0.49" fill="#202020" fill-opacity="0.53"/><circle cx="503.2" cy="18.7" r="0.99" fill="#202020" fill-opacity="0.95"/><circle cx="499.2" cy="24.2" r="0.89" fill="#202020" fill-opacity="0.97"/><circle cx="495.0" cy="82.1" r="1.15" fill="#202020" fill-opacity="0.89"/><circle cx="525.3" cy="71.3" r="0.93" fill="#202020" fill-opacity="0.87"/><circle cx="427.2" cy="46.6" r="1.18" fill="#202020" fill-opacity="0.82"/><circle cx="486.3" cy="25.2" r="0.83" fill="#202020" fill-opacity="0.93"/><circle cx="447.2" cy="20.6" r="0.86" fill="#202020" fill-opacity="0.93"/><circle cx="488.3" cy="17.9" r="0.89" fill="#202020" fill-opacity="0.99"/><circle cx="444.8" cy="58.7" r="0.97" fill="#202020" fill-opacity="0.96"/><circle cx="490.5" cy="75.4" r="1.01" fill="#202020" fill-opacity="0.84"/></g>
<defs><linearGradient id="v5120" x1="0" y1="0" x2="0" y2="1"><stop offset="0" stop-color="#d08080"/><stop offset="0.2" stop-color="#b82828"/><stop offset="1" stop-color="#a81e1e"/></linearGradient></defs><path d="M510.3,17.8 Q510.3,17.8 510.3,17.8 L532,17.8 Q532,17.8 532,17.8 L532,56.4 Q532,59.4 529,59.4 L513.3,59.4 Q510.3,59.4 510.3,56.4 Z" fill="#dccccc"/><path d="M510.3,17.8 Q510.3,17.8 510.3,17.8 L532,17.8 Q532,17.8 532,17.8 L532,31.6 L510.3,31.6 Z" fill="#e6e4e8"/><path d="M510.85,33.1 L510.85,18.35 L531.45,18.35 L531.45,33.1" fill="none" stroke="#6a4020" stroke-width="1.1"/><rect x="510.3" y="31.6" width="21.7" height="1.5" fill="#a09494"/><path d="M510.3,38 L532,38 L532,56.4 Q532,59.4 529,59.4 L513.3,59.4 Q510.3,59.4 510.3,56.4 Z" fill="url(#v5120)"/><rect x="530.4" y="39" width="1.2" height="18.4" fill="#fff" fill-opacity="0.12"/>
<rect x="417.6" y="92.1" width="121.0" height="2.6" fill="#eeeeee"/>
<text x="418.40000000000003" y="94.5" font-size="2.8" fill="#555" font-family="Liberation Serif, Times New Roman, serif">JL.DTX.TEM</text>
<text x="421.00" y="28.90" font-size="13.4" fill="#111" font-family="Liberation Serif, Times New Roman, serif" stroke="#111" stroke-width="0.15">D</text>
<rect x="513.8" y="88.0" width="23.8" height="1.4" fill="#111"/>
<text transform="translate(526.95,87.00) scale(1,0.78)" font-size="7.0" font-weight="bold" text-anchor="middle" textLength="15.5" lengthAdjust="spacingAndGlyphs" fill="#111" font-family="Liberation Serif, Times New Roman, serif">1 μm</text>
<rect x="46" y="99.4" width="121.6" height="76.4" fill="#cdcdcd"/>
<g clip-path="url(#clipE)">
<g filter="url(#blur1)">
<ellipse cx="48" cy="148" rx="9" ry="22" fill="#080808" fill-opacity="0.97"/>
<ellipse cx="57" cy="136" rx="6" ry="8" fill="#141414" fill-opacity="0.85"/>
<ellipse cx="58" cy="155" rx="6" ry="9" fill="#101010" fill-opacity="0.9"/>
<ellipse cx="64" cy="131" rx="5" ry="5" fill="#303030" fill-opacity="0.7"/>
<ellipse cx="86" cy="129" rx="14" ry="12" fill="#383838" fill-opacity="0.85"/>
<ellipse cx="79" cy="121" rx="6" ry="5" fill="#5a5a5a" fill-opacity="0.75"/>
<ellipse cx="92" cy="114" rx="9" ry="7" fill="#505050" fill-opacity="0.8"/>
<ellipse cx="108" cy="121" rx="12" ry="10" fill="#484848" fill-opacity="0.8"/>
<ellipse cx="124" cy="115" rx="11" ry="7" fill="#5a5a5a" fill-opacity="0.75"/>
<ellipse cx="136" cy="124" rx="6" ry="6" fill="#6a6a6a" fill-opacity="0.65"/>
<ellipse cx="98" cy="138" rx="10" ry="8" fill="#3c3c3c" fill-opacity="0.8"/>
<ellipse cx="91" cy="151" rx="9" ry="8" fill="#333333" fill-opacity="0.85"/>
<ellipse cx="72" cy="163" rx="9" ry="8" fill="#303030" fill-opacity="0.9"/>
<ellipse cx="98" cy="162" rx="10" ry="10" fill="#303030" fill-opacity="0.85"/>
<ellipse cx="122" cy="165" rx="20" ry="10" fill="#282828" fill-opacity="0.9"/>
<ellipse cx="140" cy="172" rx="9" ry="4" fill="#383838" fill-opacity="0.85"/>
<ellipse cx="52" cy="173" rx="5" ry="3" fill="#202020" fill-opacity="0.9"/>
<ellipse cx="112" cy="149" rx="6" ry="5" fill="#505050" fill-opacity="0.65"/>
<ellipse cx="104" cy="107" rx="6" ry="4" fill="#6a6a6a" fill-opacity="0.6"/>
</g><g filter="url(#soft)">
<circle cx="52.3" cy="151.1" r="0.94" fill="rgb(63,63,63)" fill-opacity="0.28"/><circle cx="47.9" cy="150.6" r="0.97" fill="rgb(49,49,49)" fill-opacity="0.18"/><circle cx="46.8" cy="164.2" r="1.65" fill="rgb(37,37,37)" fill-opacity="0.22"/><circle cx="46.2" cy="134.3" r="1.23" fill="rgb(33,33,33)" fill-opacity="0.26"/><circle cx="40.1" cy="149.6" r="0.94" fill="rgb(34,34,34)" fill-opacity="0.20"/><circle cx="38.8" cy="149.2" r="1.62" fill="rgb(47,47,47)" fill-opacity="0.19"/><circle cx="49.3" cy="167.6" r="1.59" fill="rgb(67,67,67)" fill-opacity="0.20"/><circle cx="43.3" cy="145.0" r="1.38" fill="rgb(65,65,65)" fill-opacity="0.26"/><circle cx="50.1" cy="124.5" r="1.79" fill="rgb(51,51,51)" fill-opacity="0.21"/><circle cx="50.4" cy="142.7" r="1.70" fill="rgb(63,63,63)" fill-opacity="0.25"/><circle cx="42.2" cy="164.8" r="1.51" fill="rgb(68,68,68)" fill-opacity="0.22"/><circle cx="47.6" cy="147.9" r="1.11" fill="rgb(54,54,54)" fill-opacity="0.26"/><circle cx="54.6" cy="150.0" r="1.15" fill="rgb(33,33,33)" fill-opacity="0.30"/><circle cx="48.5" cy="128.6" r="0.90" fill="rgb(46,46,46)" fill-opacity="0.18"/><circle cx="38.6" cy="141.2" r="1.01" fill="rgb(64,64,64)" fill-opacity="0.30"/><circle cx="48.3" cy="153.1" r="1.25" fill="rgb(53,53,53)" fill-opacity="0.19"/><circle cx="52.7" cy="141.7" r="0.84" fill="rgb(47,47,47)" fill-opacity="0.18"/><circle cx="57.2" cy="140.5" r="0.85" fill="rgb(59,59,59)" fill-opacity="0.20"/><circle cx="48.7" cy="150.0" r="1.25" fill="rgb(67,67,67)" fill-opacity="0.18"/><circle cx="47.3" cy="164.3" r="1.32" fill="rgb(53,53,53)" fill-opacity="0.20"/><circle cx="49.0" cy="140.8" r="1.53" fill="rgb(50,50,50)" fill-opacity="0.19"/><circle cx="57.8" cy="151.2" r="0.99" fill="rgb(62,62,62)" fill-opacity="0.26"/><circle cx="55.2" cy="161.1" r="0.91" fill="rgb(29,29,29)" fill-opacity="0.21"/><circle cx="41.5" cy="131.9" r="1.57" fill="rgb(40,40,40)" fill-opacity="0.23"/><circle cx="40.1" cy="153.2" r="1.51" fill="rgb(39,39,39)" fill-opacity="0.22"/><circle cx="52.3" cy="164.2" r="0.84" fill="rgb(53,53,53)" fill-opacity="0.29"/><circle cx="48.8" cy="131.9" r="1.57" fill="rgb(67,67,67)" fill-opacity="0.18"/><circle cx="54.5" cy="154.2" r="1.48" fill="rgb(49,49,49)" fill-opacity="0.20"/><circle cx="51.9" cy="159.4" r="0.82" fill="rgb(77,77,77)" fill-opacity="0.29"/><circle cx="43.1" cy="140.0" r="1.24" fill="rgb(32,32,32)" fill-opacity="0.23"/><circle cx="53.9" cy="153.2" r="1.76" fill="rgb(74,74,74)" fill-opacity="0.26"/><circle cx="40.9" cy="162.4" r="1.52" fill="rgb(30,30,30)" fill-opacity="0.26"/><circle cx="51.6" cy="159.7" r="1.59" fill="rgb(48,48,48)" fill-opacity="0.25"/><circle cx="48.5" cy="169.9" r="1.58" fill="rgb(52,52,52)" fill-opacity="0.22"/><circle cx="45.0" cy="159.9" r="1.57" fill="rgb(36,36,36)" fill-opacity="0.26"/><circle cx="42.0" cy="159.7" r="1.76" fill="rgb(62,62,62)" fill-opacity="0.20"/><circle cx="55.7" cy="160.9" r="1.52" fill="rgb(75,75,75)" fill-opacity="0.24"/><circle cx="57.0" cy="142.1" r="1.49" fill="rgb(32,32,32)" fill-opacity="0.28"/><circle cx="46.6" cy="169.5" r="1.30" fill="rgb(73,73,73)" fill-opacity="0.23"/><circle cx="40.3" cy="137.1" r="1.79" fill="rgb(60,60,60)" fill-opacity="0.24"/><circle cx="46.3" cy="156.3" r="1.35" fill="rgb(63,63,63)" fill-opacity="0.25"/><circle cx="57.2" cy="147.3" r="1.42" fill="rgb(65,65,65)" fill-opacity="0.21"/><circle cx="42.4" cy="147.2" r="1.79" fill="rgb(51,51,51)" fill-opacity="0.25"/><circle cx="50.7" cy="130.4" r="1.67" fill="rgb(49,49,49)" fill-opacity="0.26"/><circle cx="44.1" cy="160.6" r="1.68" fill="rgb(61,61,61)" fill-opacity="0.19"/><circle cx="54.9" cy="157.6" r="0.95" fill="rgb(42,42,42)" fill-opacity="0.29"/><circle cx="44.7" cy="142.2" r="1.24" fill="rgb(74,74,74)" fill-opacity="0.18"/><circle cx="51.9" cy="149.9" r="1.46" fill="rgb(71,71,71)" fill-opacity="0.27"/><circle cx="43.5" cy="130.4" r="1.21" fill="rgb(44,44,44)" fill-opacity="0.23"/><circle cx="47.1" cy="133.6" r="1.02" fill="rgb(65,65,65)" fill-opacity="0.24"/><circle cx="45.1" cy="146.2" r="1.44" fill="rgb(32,32,32)" fill-opacity="0.20"/><circle cx="38.9" cy="154.1" r="1.46" fill="rgb(59,59,59)" fill-opacity="0.25"/><circle cx="47.7" cy="158.0" r="0.97" fill="rgb(41,41,41)" fill-opacity="0.20"/><circle cx="40.6" cy="146.7" r="1.35" fill="rgb(64,64,64)" fill-opacity="0.19"/><circle cx="43.2" cy="156.8" r="1.76" fill="rgb(35,35,35)" fill-opacity="0.21"/><circle cx="47.2" cy="137.8" r="1.01" fill="rgb(52,52,52)" fill-opacity="0.29"/><circle cx="45.2" cy="127.1" r="1.10" fill="rgb(77,77,77)" fill-opacity="0.23"/><circle cx="39.9" cy="143.4" r="1.33" fill="rgb(71,71,71)" fill-opacity="0.23"/><circle cx="51.1" cy="139.6" r="0.94" fill="rgb(53,53,53)" fill-opacity="0.25"/><circle cx="46.6" cy="149.7" r="1.75" fill="rgb(66,66,66)" fill-opacity="0.24"/><circle cx="57.5" cy="152.5" r="1.44" fill="rgb(44,44,44)" fill-opacity="0.18"/><circle cx="40.7" cy="135.5" r="1.18" fill="rgb(42,42,42)" fill-opacity="0.29"/><circle cx="54.1" cy="156.3" r="1.18" fill="rgb(28,28,28)" fill-opacity="0.28"/><circle cx="54.3" cy="158.3" r="1.63" fill="rgb(58,58,58)" fill-opacity="0.28"/><circle cx="46.6" cy="128.4" r="1.53" fill="rgb(73,73,73)" fill-opacity="0.21"/><circle cx="56.0" cy="151.7" r="1.74" fill="rgb(53,53,53)" fill-opacity="0.20"/><circle cx="45.3" cy="166.8" r="1.19" fill="rgb(47,47,47)" fill-opacity="0.23"/><circle cx="42.3" cy="165.7" r="1.08" fill="rgb(76,76,76)" fill-opacity="0.21"/><circle cx="54.3" cy="153.4" r="1.21" fill="rgb(77,77,77)" fill-opacity="0.20"/>
<circle cx="43.7" cy="140.6" r="1.15" fill="rgb(0,0,0)" fill-opacity="0.28"/><circle cx="41.9" cy="155.8" r="1.23" fill="rgb(0,0,0)" fill-opacity="0.22"/><circle cx="50.9" cy="156.4" r="1.67" fill="rgb(0,0,0)" fill-opacity="0.24"/><circle cx="40.1" cy="146.2" r="1.10" fill="rgb(9,9,9)" fill-opacity="0.29"/><circle cx="39.7" cy="140.5" r="1.15" fill="rgb(0,0,0)" fill-opacity="0.19"/><circle cx="50.4" cy="131.6" r="1.18" fill="rgb(15,15,15)" fill-opacity="0.29"/><circle cx="48.1" cy="128.1" r="1.62" fill="rgb(0,0,0)" fill-opacity="0.29"/><circle cx="47.3" cy="133.4" r="1.07" fill="rgb(5,5,5)" fill-opacity="0.20"/><circle cx="53.6" cy="137.0" r="1.04" fill="rgb(18,18,18)" fill-opacity="0.23"/><circle cx="49.5" cy="140.6" r="1.25" fill="rgb(1,1,1)" fill-opacity="0.21"/><circle cx="48.1" cy="130.2" r="1.56" fill="rgb(0,0,0)" fill-opacity="0.30"/><circle cx="55.6" cy="159.7" r="1.23" fill="rgb(0,0,0)" fill-opacity="0.21"/><circle cx="54.4" cy="153.3" r="1.40" fill="rgb(0,0,0)" fill-opacity="0.29"/><circle cx="49.5" cy="139.5" r="1.66" fill="rgb(0,0,0)" fill-opacity="0.24"/><circle cx="53.4" cy="147.5" r="1.20" fill="rgb(3,3,3)" fill-opacity="0.19"/><circle cx="41.6" cy="148.7" r="1.79" fill="rgb(0,0,0)" fill-opacity="0.26"/><circle cx="48.3" cy="149.4" r="0.95" fill="rgb(0,0,0)" fill-opacity="0.19"/><circle cx="55.4" cy="155.1" r="1.16" fill="rgb(0,0,0)" fill-opacity="0.23"/><circle cx="43.0" cy="152.2" r="1.37" fill="rgb(1,1,1)" fill-opacity="0.22"/><circle cx="44.5" cy="147.8" r="1.13" fill="rgb(0,0,0)" fill-opacity="0.22"/><circle cx="45.7" cy="162.7" r="1.38" fill="rgb(9,9,9)" fill-opacity="0.19"/><circle cx="51.9" cy="148.5" r="1.60" fill="rgb(0,0,0)" fill-opacity="0.28"/><circle cx="51.0" cy="166.3" r="1.45" fill="rgb(18,18,18)" fill-opacity="0.25"/><circle cx="44.3" cy="162.7" r="1.15" fill="rgb(0,0,0)" fill-opacity="0.26"/><circle cx="48.0" cy="169.1" r="0.91" fill="rgb(0,0,0)" fill-opacity="0.25"/><circle cx="47.2" cy="162.1" r="1.00" fill="rgb(2,2,2)" fill-opacity="0.20"/><circle cx="44.0" cy="129.3" r="0.90" fill="rgb(0,0,0)" fill-opacity="0.19"/><circle cx="49.6" cy="151.0" r="1.31" fill="rgb(6,6,6)" fill-opacity="0.21"/><circle cx="44.0" cy="158.4" r="1.55" fill="rgb(0,0,0)" fill-opacity="0.19"/><circle cx="43.9" cy="159.1" r="1.23" fill="rgb(0,0,0)" fill-opacity="0.20"/><circle cx="47.0" cy="141.6" r="0.94" fill="rgb(0,0,0)" fill-opacity="0.19"/><circle cx="44.4" cy="142.8" r="1.30" fill="rgb(16,16,16)" fill-opacity="0.18"/><circle cx="43.6" cy="166.9" r="1.72" fill="rgb(14,14,14)" fill-opacity="0.20"/><circle cx="50.4" cy="153.5" r="1.68" fill="rgb(9,9,9)" fill-opacity="0.19"/><circle cx="53.5" cy="155.9" r="1.19" fill="rgb(0,0,0)" fill-opacity="0.23"/><circle cx="52.3" cy="145.6" r="1.00" fill="rgb(11,11,11)" fill-opacity="0.25"/><circle cx="46.2" cy="148.6" r="1.48" fill="rgb(22,22,22)" fill-opacity="0.25"/><circle cx="54.8" cy="142.8" r="1.14" fill="rgb(0,0,0)" fill-opacity="0.21"/><circle cx="56.6" cy="146.5" r="1.63" fill="rgb(10,10,10)" fill-opacity="0.24"/><circle cx="56.0" cy="157.8" r="1.72" fill="rgb(15,15,15)" fill-opacity="0.27"/><circle cx="42.4" cy="158.1" r="1.75" fill="rgb(0,0,0)" fill-opacity="0.28"/><circle cx="49.1" cy="164.9" r="1.20" fill="rgb(0,0,0)" fill-opacity="0.26"/><circle cx="46.0" cy="162.2" r="1.69" fill="rgb(21,21,21)" fill-opacity="0.27"/><circle cx="51.0" cy="139.2" r="1.41" fill="rgb(4,4,4)" fill-opacity="0.29"/><circle cx="55.5" cy="152.7" r="1.34" fill="rgb(7,7,7)" fill-opacity="0.24"/><circle cx="41.1" cy="138.0" r="1.49" fill="rgb(0,0,0)" fill-opacity="0.22"/><circle cx="54.0" cy="139.0" r="1.13" fill="rgb(18,18,18)" fill-opacity="0.29"/><circle cx="39.4" cy="152.7" r="0.92" fill="rgb(15,15,15)" fill-opacity="0.24"/><circle cx="44.4" cy="154.3" r="0.86" fill="rgb(0,0,0)" fill-opacity="0.30"/><circle cx="52.8" cy="165.1" r="1.09" fill="rgb(11,11,11)" fill-opacity="0.22"/><circle cx="51.0" cy="135.9" r="1.25" fill="rgb(0,0,0)" fill-opacity="0.25"/><circle cx="55.1" cy="148.0" r="1.35" fill="rgb(0,0,0)" fill-opacity="0.27"/><circle cx="49.3" cy="137.4" r="1.22" fill="rgb(15,15,15)" fill-opacity="0.23"/><circle cx="42.8" cy="144.3" r="1.74" fill="rgb(0,0,0)" fill-opacity="0.28"/><circle cx="46.9" cy="153.3" r="0.83" fill="rgb(12,12,12)" fill-opacity="0.25"/><circle cx="41.0" cy="135.2" r="1.59" fill="rgb(10,10,10)" fill-opacity="0.25"/><circle cx="42.2" cy="152.5" r="0.82" fill="rgb(23,23,23)" fill-opacity="0.26"/><circle cx="49.9" cy="161.8" r="0.92" fill="rgb(0,0,0)" fill-opacity="0.20"/><circle cx="42.5" cy="130.9" r="1.05" fill="rgb(0,0,0)" fill-opacity="0.25"/>
<circle cx="60.4" cy="138.1" r="1.08" fill="rgb(40,40,40)" fill-opacity="0.27"/><circle cx="55.4" cy="130.3" r="1.25" fill="rgb(77,77,77)" fill-opacity="0.28"/><circle cx="55.1" cy="133.9" r="1.28" fill="rgb(68,68,68)" fill-opacity="0.24"/><circle cx="58.2" cy="143.2" r="1.10" fill="rgb(49,49,49)" fill-opacity="0.21"/><circle cx="56.7" cy="139.7" r="1.47" fill="rgb(77,77,77)" fill-opacity="0.18"/><circle cx="55.4" cy="134.9" r="1.21" fill="rgb(72,72,72)" fill-opacity="0.24"/><circle cx="57.4" cy="128.3" r="1.09" fill="rgb(74,74,74)" fill-opacity="0.19"/><circle cx="52.8" cy="132.8" r="1.68" fill="rgb(84,84,84)" fill-opacity="0.20"/><circle cx="52.3" cy="139.9" r="1.77" fill="rgb(60,60,60)" fill-opacity="0.18"/><circle cx="51.8" cy="140.2" r="1.31" fill="rgb(87,87,87)" fill-opacity="0.21"/><circle cx="53.9" cy="133.3" r="1.14" fill="rgb(74,74,74)" fill-opacity="0.20"/><circle cx="52.1" cy="132.0" r="1.39" fill="rgb(64,64,64)" fill-opacity="0.25"/><circle cx="56.5" cy="135.9" r="1.67" fill="rgb(58,58,58)" fill-opacity="0.24"/><circle cx="58.3" cy="127.6" r="1.53" fill="rgb(41,41,41)" fill-opacity="0.24"/><circle cx="60.1" cy="136.1" r="1.26" fill="rgb(64,64,64)" fill-opacity="0.28"/><circle cx="53.4" cy="142.2" r="1.74" fill="rgb(60,60,60)" fill-opacity="0.30"/>
<circle cx="52.7" cy="140.3" r="1.26" fill="rgb(0,0,0)" fill-opacity="0.21"/><circle cx="55.5" cy="132.5" r="1.04" fill="rgb(23,23,23)" fill-opacity="0.30"/><circle cx="60.3" cy="139.0" r="1.75" fill="rgb(2,2,2)" fill-opacity="0.28"/><circle cx="55.2" cy="141.9" r="0.97" fill="rgb(17,17,17)" fill-opacity="0.28"/><circle cx="59.2" cy="128.7" r="1.54" fill="rgb(0,0,0)" fill-opacity="0.23"/><circle cx="62.1" cy="134.1" r="1.74" fill="rgb(0,0,0)" fill-opacity="0.28"/><circle cx="55.8" cy="143.7" r="1.74" fill="rgb(0,0,0)" fill-opacity="0.25"/><circle cx="62.3" cy="137.1" r="0.87" fill="rgb(0,0,0)" fill-opacity="0.20"/><circle cx="60.4" cy="138.8" r="1.72" fill="rgb(0,0,0)" fill-opacity="0.23"/><circle cx="57.3" cy="136.3" r="0.91" fill="rgb(10,10,10)" fill-opacity="0.29"/><circle cx="57.0" cy="130.0" r="1.08" fill="rgb(3,3,3)" fill-opacity="0.29"/><circle cx="56.2" cy="138.8" r="1.67" fill="rgb(3,3,3)" fill-opacity="0.30"/><circle cx="54.9" cy="138.7" r="0.91" fill="rgb(0,0,0)" fill-opacity="0.25"/><circle cx="57.6" cy="140.3" r="1.74" fill="rgb(14,14,14)" fill-opacity="0.25"/>
<circle cx="58.5" cy="147.1" r="1.00" fill="rgb(56,56,56)" fill-opacity="0.26"/><circle cx="62.2" cy="153.8" r="0.84" fill="rgb(78,78,78)" fill-opacity="0.24"/><circle cx="59.4" cy="161.6" r="1.66" fill="rgb(66,66,66)" fill-opacity="0.24"/><circle cx="60.6" cy="150.8" r="1.26" fill="rgb(42,42,42)" fill-opacity="0.27"/><circle cx="57.7" cy="153.2" r="1.05" fill="rgb(48,48,48)" fill-opacity="0.24"/><circle cx="60.2" cy="151.1" r="1.70" fill="rgb(38,38,38)" fill-opacity="0.28"/><circle cx="58.2" cy="153.1" r="0.98" fill="rgb(49,49,49)" fill-opacity="0.29"/><circle cx="59.7" cy="157.5" r="1.59" fill="rgb(47,47,47)" fill-opacity="0.20"/><circle cx="61.6" cy="154.4" r="0.99" fill="rgb(68,68,68)" fill-opacity="0.22"/><circle cx="62.4" cy="147.6" r="1.15" fill="rgb(48,48,48)" fill-opacity="0.19"/><circle cx="59.4" cy="160.8" r="1.37" fill="rgb(62,62,62)" fill-opacity="0.22"/><circle cx="60.7" cy="161.2" r="1.15" fill="rgb(53,53,53)" fill-opacity="0.30"/><circle cx="57.3" cy="154.4" r="1.77" fill="rgb(83,83,83)" fill-opacity="0.23"/><circle cx="60.1" cy="154.6" r="0.97" fill="rgb(81,81,81)" fill-opacity="0.28"/><circle cx="55.2" cy="146.3" r="1.45" fill="rgb(51,51,51)" fill-opacity="0.29"/><circle cx="60.0" cy="158.1" r="0.93" fill="rgb(63,63,63)" fill-opacity="0.19"/><circle cx="61.9" cy="155.6" r="1.27" fill="rgb(68,68,68)" fill-opacity="0.25"/><circle cx="60.1" cy="155.5" r="0.96" fill="rgb(64,64,64)" fill-opacity="0.18"/>
<circle cx="62.3" cy="153.6" r="1.27" fill="rgb(2,2,2)" fill-opacity="0.20"/><circle cx="61.7" cy="156.3" r="1.58" fill="rgb(0,0,0)" fill-opacity="0.22"/><circle cx="60.0" cy="154.4" r="0.83" fill="rgb(7,7,7)" fill-opacity="0.21"/><circle cx="62.1" cy="161.4" r="1.35" fill="rgb(8,8,8)" fill-opacity="0.28"/><circle cx="61.5" cy="153.4" r="1.09" fill="rgb(18,18,18)" fill-opacity="0.26"/><circle cx="59.7" cy="150.1" r="1.53" fill="rgb(7,7,7)" fill-opacity="0.19"/><circle cx="58.2" cy="151.0" r="1.04" fill="rgb(0,0,0)" fill-opacity="0.21"/><circle cx="61.7" cy="152.9" r="0.94" fill="rgb(17,17,17)" fill-opacity="0.21"/><circle cx="62.1" cy="155.5" r="1.32" fill="rgb(22,22,22)" fill-opacity="0.27"/><circle cx="58.8" cy="156.9" r="1.75" fill="rgb(0,0,0)" fill-opacity="0.26"/><circle cx="62.8" cy="151.6" r="0.99" fill="rgb(0,0,0)" fill-opacity="0.25"/><circle cx="60.6" cy="159.9" r="1.05" fill="rgb(1,1,1)" fill-opacity="0.30"/><circle cx="63.4" cy="158.1" r="1.77" fill="rgb(0,0,0)" fill-opacity="0.23"/><circle cx="60.7" cy="160.8" r="1.20" fill="rgb(10,10,10)" fill-opacity="0.24"/><circle cx="56.4" cy="150.9" r="1.50" fill="rgb(0,0,0)" fill-opacity="0.23"/><circle cx="60.0" cy="149.8" r="1.35" fill="rgb(11,11,11)" fill-opacity="0.21"/>
<circle cx="68.2" cy="133.7" r="1.01" fill="rgb(98,98,98)" fill-opacity="0.27"/><circle cx="59.9" cy="128.2" r="1.52" fill="rgb(98,98,98)" fill-opacity="0.27"/><circle cx="63.1" cy="132.4" r="0.92" fill="rgb(112,112,112)" fill-opacity="0.25"/><circle cx="67.3" cy="130.8" r="1.18" fill="rgb(81,81,81)" fill-opacity="0.20"/><circle cx="64.0" cy="128.0" r="1.40" fill="rgb(71,71,71)" fill-opacity="0.21"/><circle cx="64.3" cy="131.6" r="1.18" fill="rgb(109,109,109)" fill-opacity="0.25"/><circle cx="58.9" cy="131.6" r="1.43" fill="rgb(71,71,71)" fill-opacity="0.28"/><circle cx="63.3" cy="134.5" r="1.12" fill="rgb(84,84,84)" fill-opacity="0.29"/>
<circle cx="68.8" cy="132.0" r="1.79" fill="rgb(2,2,2)" fill-opacity="0.29"/><circle cx="63.8" cy="134.6" r="1.21" fill="rgb(12,12,12)" fill-opacity="0.27"/><circle cx="65.2" cy="128.8" r="1.49" fill="rgb(20,20,20)" fill-opacity="0.25"/><circle cx="66.3" cy="133.2" r="1.72" fill="rgb(17,17,17)" fill-opacity="0.28"/><circle cx="62.8" cy="128.6" r="1.03" fill="rgb(39,39,39)" fill-opacity="0.22"/><circle cx="66.1" cy="134.2" r="1.50" fill="rgb(32,32,32)" fill-opacity="0.28"/><circle cx="62.8" cy="127.1" r="1.76" fill="rgb(5,5,5)" fill-opacity="0.30"/>
<circle cx="82.4" cy="131.3" r="0.93" fill="rgb(105,105,105)" fill-opacity="0.24"/><circle cx="79.7" cy="138.6" r="1.77" fill="rgb(83,83,83)" fill-opacity="0.19"/><circle cx="97.5" cy="133.5" r="1.66" fill="rgb(125,125,125)" fill-opacity="0.28"/><circle cx="90.0" cy="133.8" r="1.04" fill="rgb(90,90,90)" fill-opacity="0.20"/><circle cx="82.8" cy="136.6" r="1.61" fill="rgb(92,92,92)" fill-opacity="0.28"/><circle cx="93.4" cy="136.1" r="0.84" fill="rgb(112,112,112)" fill-opacity="0.29"/><circle cx="76.6" cy="125.4" r="1.70" fill="rgb(96,96,96)" fill-opacity="0.24"/><circle cx="72.1" cy="133.8" r="1.26" fill="rgb(85,85,85)" fill-opacity="0.29"/><circle cx="93.2" cy="119.1" r="0.95" fill="rgb(118,118,118)" fill-opacity="0.26"/><circle cx="70.6" cy="128.5" r="1.20" fill="rgb(124,124,124)" fill-opacity="0.28"/><circle cx="79.6" cy="135.4" r="1.68" fill="rgb(111,111,111)" fill-opacity="0.27"/><circle cx="87.4" cy="132.2" r="1.34" fill="rgb(123,123,123)" fill-opacity="0.25"/><circle cx="81.6" cy="116.8" r="1.42" fill="rgb(112,112,112)" fill-opacity="0.23"/><circle cx="81.1" cy="118.5" r="1.77" fill="rgb(104,104,104)" fill-opacity="0.22"/><circle cx="98.3" cy="121.0" r="1.20" fill="rgb(112,112,112)" fill-opacity="0.24"/><circle cx="76.4" cy="137.5" r="0.98" fill="rgb(114,114,114)" fill-opacity="0.23"/><circle cx="86.4" cy="123.7" r="1.36" fill="rgb(113,113,113)" fill-opacity="0.20"/><circle cx="76.5" cy="138.5" r="1.28" fill="rgb(81,81,81)" fill-opacity="0.30"/><circle cx="82.6" cy="140.4" r="1.73" fill="rgb(96,96,96)" fill-opacity="0.29"/><circle cx="85.9" cy="123.0" r="1.14" fill="rgb(122,122,122)" fill-opacity="0.28"/><circle cx="79.9" cy="120.1" r="1.56" fill="rgb(95,95,95)" fill-opacity="0.30"/><circle cx="95.6" cy="120.2" r="1.05" fill="rgb(88,88,88)" fill-opacity="0.27"/><circle cx="71.9" cy="132.2" r="1.77" fill="rgb(101,101,101)" fill-opacity="0.18"/><circle cx="93.5" cy="126.0" r="1.39" fill="rgb(113,113,113)" fill-opacity="0.26"/><circle cx="73.4" cy="133.0" r="1.16" fill="rgb(119,119,119)" fill-opacity="0.27"/><circle cx="73.7" cy="126.6" r="1.48" fill="rgb(101,101,101)" fill-opacity="0.20"/><circle cx="74.2" cy="135.8" r="1.52" fill="rgb(84,84,84)" fill-opacity="0.23"/><circle cx="78.2" cy="129.8" r="0.96" fill="rgb(112,112,112)" fill-opacity="0.22"/><circle cx="94.6" cy="133.9" r="1.33" fill="rgb(79,79,79)" fill-opacity="0.24"/><circle cx="89.5" cy="131.8" r="1.72" fill="rgb(95,95,95)" fill-opacity="0.24"/><circle cx="80.8" cy="125.2" r="0.88" fill="rgb(114,114,114)" fill-opacity="0.30"/><circle cx="78.3" cy="123.7" r="0.99" fill="rgb(119,119,119)" fill-opacity="0.22"/><circle cx="90.5" cy="117.3" r="0.98" fill="rgb(90,90,90)" fill-opacity="0.26"/><circle cx="71.8" cy="132.0" r="1.80" fill="rgb(125,125,125)" fill-opacity="0.26"/><circle cx="99.1" cy="127.5" r="1.76" fill="rgb(87,87,87)" fill-opacity="0.19"/><circle cx="78.9" cy="126.9" r="1.34" fill="rgb(109,109,109)" fill-opacity="0.25"/><circle cx="89.5" cy="121.4" r="1.71" fill="rgb(100,100,100)" fill-opacity="0.22"/><circle cx="90.0" cy="137.7" r="1.33" fill="rgb(98,98,98)" fill-opacity="0.25"/><circle cx="80.0" cy="135.8" r="1.42" fill="rgb(121,121,121)" fill-opacity="0.28"/><circle cx="95.4" cy="135.2" r="1.00" fill="rgb(82,82,82)" fill-opacity="0.26"/><circle cx="85.2" cy="118.5" r="0.98" fill="rgb(95,95,95)" fill-opacity="0.29"/><circle cx="83.7" cy="127.3" r="0.87" fill="rgb(122,122,122)" fill-opacity="0.18"/><circle cx="74.5" cy="136.9" r="1.04" fill="rgb(91,91,91)" fill-opacity="0.26"/><circle cx="78.2" cy="117.8" r="1.22" fill="rgb(100,100,100)" fill-opacity="0.25"/><circle cx="93.1" cy="132.1" r="1.04" fill="rgb(114,114,114)" fill-opacity="0.28"/><circle cx="81.9" cy="133.7" r="1.05" fill="rgb(90,90,90)" fill-opacity="0.23"/><circle cx="82.2" cy="116.3" r="1.24" fill="rgb(96,96,96)" fill-opacity="0.27"/><circle cx="82.4" cy="135.5" r="0.88" fill="rgb(111,111,111)" fill-opacity="0.29"/><circle cx="90.8" cy="134.5" r="1.00" fill="rgb(103,103,103)" fill-opacity="0.19"/><circle cx="96.4" cy="126.5" r="1.78" fill="rgb(106,106,106)" fill-opacity="0.27"/><circle cx="83.4" cy="117.8" r="1.69" fill="rgb(125,125,125)" fill-opacity="0.21"/><circle cx="83.3" cy="123.1" r="1.15" fill="rgb(76,76,76)" fill-opacity="0.28"/><circle cx="85.7" cy="141.8" r="1.66" fill="rgb(120,120,120)" fill-opacity="0.24"/><circle cx="92.9" cy="140.7" r="1.58" fill="rgb(76,76,76)" fill-opacity="0.28"/><circle cx="72.2" cy="127.0" r="1.24" fill="rgb(107,107,107)" fill-opacity="0.27"/><circle cx="74.1" cy="121.5" r="1.25" fill="rgb(104,104,104)" fill-opacity="0.29"/><circle cx="83.8" cy="123.6" r="1.41" fill="rgb(102,102,102)" fill-opacity="0.23"/><circle cx="74.3" cy="134.1" r="0.94" fill="rgb(103,103,103)" fill-opacity="0.28"/>
<circle cx="92.1" cy="134.8" r="1.25" fill="rgb(43,43,43)" fill-opacity="0.21"/><circle cx="82.2" cy="123.2" r="1.03" fill="rgb(30,30,30)" fill-opacity="0.27"/><circle cx="93.2" cy="131.0" r="0.89" fill="rgb(47,47,47)" fill-opacity="0.23"/><circle cx="89.4" cy="135.8" r="1.75" fill="rgb(29,29,29)" fill-opacity="0.29"/><circle cx="81.5" cy="138.8" r="0.90" fill="rgb(23,23,23)" fill-opacity="0.21"/><circle cx="82.4" cy="135.9" r="1.60" fill="rgb(50,50,50)" fill-opacity="0.19"/><circle cx="79.4" cy="125.9" r="1.67" fill="rgb(14,14,14)" fill-opacity="0.19"/><circle cx="84.7" cy="117.7" r="1.09" fill="rgb(1,1,1)" fill-opacity="0.27"/><circle cx="94.1" cy="131.1" r="1.69" fill="rgb(12,12,12)" fill-opacity="0.28"/><circle cx="86.7" cy="122.7" r="1.70" fill="rgb(6,6,6)" fill-opacity="0.21"/><circle cx="86.8" cy="132.3" r="1.25" fill="rgb(42,42,42)" fill-opacity="0.20"/><circle cx="95.4" cy="130.1" r="0.80" fill="rgb(3,3,3)" fill-opacity="0.24"/><circle cx="76.5" cy="125.6" r="0.84" fill="rgb(46,46,46)" fill-opacity="0.19"/><circle cx="95.1" cy="134.2" r="1.03" fill="rgb(33,33,33)" fill-opacity="0.25"/><circle cx="90.7" cy="130.4" r="0.94" fill="rgb(14,14,14)" fill-opacity="0.21"/><circle cx="83.4" cy="136.4" r="1.56" fill="rgb(43,43,43)" fill-opacity="0.28"/><circle cx="92.9" cy="137.9" r="1.71" fill="rgb(19,19,19)" fill-opacity="0.25"/><circle cx="81.5" cy="120.7" r="1.10" fill="rgb(2,2,2)" fill-opacity="0.20"/><circle cx="84.9" cy="139.4" r="0.94" fill="rgb(20,20,20)" fill-opacity="0.28"/><circle cx="85.0" cy="132.8" r="1.15" fill="rgb(19,19,19)" fill-opacity="0.24"/><circle cx="79.0" cy="120.2" r="1.28" fill="rgb(30,30,30)" fill-opacity="0.22"/><circle cx="80.3" cy="120.0" r="1.46" fill="rgb(45,45,45)" fill-opacity="0.28"/><circle cx="93.8" cy="130.0" r="1.46" fill="rgb(16,16,16)" fill-opacity="0.28"/><circle cx="80.7" cy="124.9" r="1.00" fill="rgb(30,30,30)" fill-opacity="0.24"/><circle cx="98.3" cy="131.3" r="0.99" fill="rgb(49,49,49)" fill-opacity="0.26"/><circle cx="90.3" cy="130.4" r="0.87" fill="rgb(30,30,30)" fill-opacity="0.23"/><circle cx="74.0" cy="131.8" r="1.27" fill="rgb(46,46,46)" fill-opacity="0.18"/><circle cx="83.4" cy="133.2" r="1.12" fill="rgb(26,26,26)" fill-opacity="0.22"/><circle cx="77.2" cy="128.4" r="1.67" fill="rgb(6,6,6)" fill-opacity="0.22"/><circle cx="90.0" cy="136.0" r="1.15" fill="rgb(40,40,40)" fill-opacity="0.19"/><circle cx="76.8" cy="121.7" r="1.24" fill="rgb(32,32,32)" fill-opacity="0.21"/><circle cx="96.2" cy="132.7" r="1.74" fill="rgb(8,8,8)" fill-opacity="0.22"/><circle cx="80.6" cy="128.7" r="1.29" fill="rgb(28,28,28)" fill-opacity="0.27"/><circle cx="91.2" cy="128.3" r="1.02" fill="rgb(44,44,44)" fill-opacity="0.24"/><circle cx="92.5" cy="124.1" r="1.24" fill="rgb(18,18,18)" fill-opacity="0.22"/><circle cx="80.2" cy="135.3" r="1.43" fill="rgb(30,30,30)" fill-opacity="0.19"/><circle cx="89.8" cy="134.8" r="1.23" fill="rgb(17,17,17)" fill-opacity="0.25"/><circle cx="98.8" cy="128.8" r="1.13" fill="rgb(46,46,46)" fill-opacity="0.23"/><circle cx="85.9" cy="125.6" r="1.36" fill="rgb(47,47,47)" fill-opacity="0.22"/><circle cx="92.2" cy="119.7" r="1.63" fill="rgb(32,32,32)" fill-opacity="0.23"/><circle cx="88.0" cy="133.8" r="1.20" fill="rgb(50,50,50)" fill-opacity="0.30"/><circle cx="97.4" cy="122.0" r="1.68" fill="rgb(19,19,19)" fill-opacity="0.24"/><circle cx="77.1" cy="133.5" r="0.95" fill="rgb(41,41,41)" fill-opacity="0.19"/><circle cx="77.8" cy="119.9" r="1.48" fill="rgb(47,47,47)" fill-opacity="0.19"/><circle cx="80.6" cy="127.6" r="1.36" fill="rgb(2,2,2)" fill-opacity="0.21"/><circle cx="83.0" cy="133.3" r="1.10" fill="rgb(32,32,32)" fill-opacity="0.23"/><circle cx="87.6" cy="134.0" r="1.56" fill="rgb(25,25,25)" fill-opacity="0.29"/><circle cx="85.3" cy="126.0" r="1.53" fill="rgb(40,40,40)" fill-opacity="0.26"/><circle cx="81.2" cy="138.7" r="1.34" fill="rgb(24,24,24)" fill-opacity="0.19"/><circle cx="89.4" cy="125.4" r="1.68" fill="rgb(16,16,16)" fill-opacity="0.29"/>
<circle cx="73.9" cy="122.9" r="1.30" fill="rgb(136,136,136)" fill-opacity="0.28"/><circle cx="80.0" cy="126.4" r="0.90" fill="rgb(135,135,135)" fill-opacity="0.27"/><circle cx="79.9" cy="126.4" r="1.00" fill="rgb(144,144,144)" fill-opacity="0.30"/><circle cx="76.2" cy="125.8" r="1.10" fill="rgb(110,110,110)" fill-opacity="0.26"/><circle cx="78.4" cy="124.1" r="1.41" fill="rgb(115,115,115)" fill-opacity="0.28"/><circle cx="77.2" cy="125.2" r="1.50" fill="rgb(136,136,136)" fill-opacity="0.30"/><circle cx="75.1" cy="120.2" r="1.51" fill="rgb(133,133,133)" fill-opacity="0.30"/><circle cx="82.6" cy="120.7" r="1.75" fill="rgb(114,114,114)" fill-opacity="0.20"/><circle cx="77.9" cy="119.1" r="1.52" fill="rgb(135,135,135)" fill-opacity="0.29"/><circle cx="76.3" cy="123.8" r="1.32" fill="rgb(150,150,150)" fill-opacity="0.19"/>
<circle cx="80.9" cy="124.4" r="1.08" fill="rgb(66,66,66)" fill-opacity="0.20"/><circle cx="79.8" cy="117.1" r="1.37" fill="rgb(44,44,44)" fill-opacity="0.26"/><circle cx="77.4" cy="116.7" r="1.48" fill="rgb(82,82,82)" fill-opacity="0.30"/><circle cx="75.9" cy="121.1" r="1.07" fill="rgb(81,81,81)" fill-opacity="0.20"/><circle cx="82.0" cy="123.7" r="1.15" fill="rgb(80,80,80)" fill-opacity="0.29"/><circle cx="81.2" cy="119.3" r="1.39" fill="rgb(59,59,59)" fill-opacity="0.26"/><circle cx="78.4" cy="119.8" r="0.96" fill="rgb(69,69,69)" fill-opacity="0.24"/><circle cx="77.1" cy="120.7" r="1.37" fill="rgb(67,67,67)" fill-opacity="0.21"/><circle cx="79.1" cy="119.1" r="0.88" fill="rgb(81,81,81)" fill-opacity="0.28"/>
<circle cx="97.5" cy="114.2" r="1.64" fill="rgb(136,136,136)" fill-opacity="0.29"/><circle cx="96.2" cy="113.4" r="1.33" fill="rgb(112,112,112)" fill-opacity="0.26"/><circle cx="95.0" cy="120.2" r="1.48" fill="rgb(113,113,113)" fill-opacity="0.26"/><circle cx="89.8" cy="118.7" r="1.35" fill="rgb(134,134,134)" fill-opacity="0.22"/><circle cx="97.4" cy="112.3" r="0.90" fill="rgb(115,115,115)" fill-opacity="0.29"/><circle cx="89.3" cy="108.1" r="0.99" fill="rgb(125,125,125)" fill-opacity="0.18"/><circle cx="83.7" cy="111.5" r="0.89" fill="rgb(149,149,149)" fill-opacity="0.19"/><circle cx="95.5" cy="115.3" r="1.48" fill="rgb(137,137,137)" fill-opacity="0.28"/><circle cx="88.9" cy="116.1" r="1.80" fill="rgb(143,143,143)" fill-opacity="0.19"/><circle cx="95.1" cy="114.9" r="1.46" fill="rgb(116,116,116)" fill-opacity="0.26"/><circle cx="92.8" cy="117.1" r="1.78" fill="rgb(126,126,126)" fill-opacity="0.30"/><circle cx="95.1" cy="114.9" r="1.34" fill="rgb(101,101,101)" fill-opacity="0.23"/><circle cx="91.6" cy="109.6" r="1.57" fill="rgb(142,142,142)" fill-opacity="0.21"/><circle cx="99.1" cy="111.7" r="1.55" fill="rgb(100,100,100)" fill-opacity="0.26"/><circle cx="90.5" cy="108.3" r="1.53" fill="rgb(119,119,119)" fill-opacity="0.26"/><circle cx="98.2" cy="115.3" r="1.09" fill="rgb(122,122,122)" fill-opacity="0.26"/><circle cx="92.2" cy="121.4" r="1.00" fill="rgb(131,131,131)" fill-opacity="0.22"/><circle cx="95.0" cy="118.9" r="1.04" fill="rgb(120,120,120)" fill-opacity="0.21"/><circle cx="87.6" cy="120.8" r="1.76" fill="rgb(107,107,107)" fill-opacity="0.21"/><circle cx="90.0" cy="115.7" r="1.70" fill="rgb(127,127,127)" fill-opacity="0.26"/><circle cx="99.0" cy="114.2" r="0.91" fill="rgb(106,106,106)" fill-opacity="0.20"/><circle cx="89.7" cy="110.9" r="1.27" fill="rgb(140,140,140)" fill-opacity="0.20"/>
<circle cx="86.1" cy="116.2" r="1.56" fill="rgb(34,34,34)" fill-opacity="0.21"/><circle cx="91.1" cy="109.7" r="1.58" fill="rgb(58,58,58)" fill-opacity="0.18"/><circle cx="94.0" cy="113.4" r="0.87" fill="rgb(70,70,70)" fill-opacity="0.28"/><circle cx="85.8" cy="111.5" r="1.77" fill="rgb(57,57,57)" fill-opacity="0.23"/><circle cx="94.0" cy="113.2" r="1.40" fill="rgb(38,38,38)" fill-opacity="0.25"/><circle cx="95.5" cy="108.6" r="1.13" fill="rgb(39,39,39)" fill-opacity="0.23"/><circle cx="93.4" cy="120.5" r="1.34" fill="rgb(69,69,69)" fill-opacity="0.24"/><circle cx="100.2" cy="114.3" r="1.00" fill="rgb(50,50,50)" fill-opacity="0.28"/><circle cx="89.9" cy="113.5" r="0.99" fill="rgb(50,50,50)" fill-opacity="0.18"/><circle cx="91.0" cy="119.3" r="0.96" fill="rgb(67,67,67)" fill-opacity="0.23"/><circle cx="91.4" cy="111.0" r="1.31" fill="rgb(70,70,70)" fill-opacity="0.26"/><circle cx="98.4" cy="115.1" r="0.95" fill="rgb(36,36,36)" fill-opacity="0.24"/><circle cx="93.2" cy="111.7" r="1.31" fill="rgb(57,57,57)" fill-opacity="0.25"/><circle cx="93.1" cy="119.3" r="1.01" fill="rgb(27,27,27)" fill-opacity="0.21"/><circle cx="88.2" cy="109.3" r="1.09" fill="rgb(65,65,65)" fill-opacity="0.30"/><circle cx="94.4" cy="118.0" r="1.08" fill="rgb(68,68,68)" fill-opacity="0.28"/><circle cx="91.9" cy="116.2" r="1.65" fill="rgb(53,53,53)" fill-opacity="0.26"/><circle cx="83.7" cy="112.3" r="1.77" fill="rgb(42,42,42)" fill-opacity="0.28"/>
<circle cx="97.2" cy="120.7" r="1.02" fill="rgb(134,134,134)" fill-opacity="0.20"/><circle cx="104.4" cy="115.3" r="1.65" fill="rgb(126,126,126)" fill-opacity="0.19"/><circle cx="104.2" cy="124.5" r="1.73" fill="rgb(108,108,108)" fill-opacity="0.20"/><circle cx="103.5" cy="124.0" r="0.91" fill="rgb(99,99,99)" fill-opacity="0.19"/><circle cx="110.6" cy="112.1" r="1.56" fill="rgb(109,109,109)" fill-opacity="0.29"/><circle cx="107.7" cy="129.9" r="1.09" fill="rgb(98,98,98)" fill-opacity="0.22"/><circle cx="97.9" cy="123.2" r="1.17" fill="rgb(110,110,110)" fill-opacity="0.27"/><circle cx="100.5" cy="127.7" r="1.70" fill="rgb(129,129,129)" fill-opacity="0.21"/><circle cx="108.2" cy="130.6" r="1.30" fill="rgb(106,106,106)" fill-opacity="0.22"/><circle cx="116.0" cy="117.0" r="1.70" fill="rgb(102,102,102)" fill-opacity="0.18"/><circle cx="105.9" cy="129.7" r="1.60" fill="rgb(109,109,109)" fill-opacity="0.30"/><circle cx="99.1" cy="118.9" r="1.45" fill="rgb(139,139,139)" fill-opacity="0.26"/><circle cx="96.8" cy="117.9" r="0.87" fill="rgb(135,135,135)" fill-opacity="0.20"/><circle cx="114.3" cy="121.8" r="1.18" fill="rgb(106,106,106)" fill-opacity="0.23"/><circle cx="98.0" cy="118.1" r="0.98" fill="rgb(92,92,92)" fill-opacity="0.28"/><circle cx="111.6" cy="121.0" r="1.37" fill="rgb(106,106,106)" fill-opacity="0.24"/><circle cx="115.2" cy="129.3" r="1.19" fill="rgb(121,121,121)" fill-opacity="0.22"/><circle cx="112.6" cy="124.4" r="1.75" fill="rgb(140,140,140)" fill-opacity="0.22"/><circle cx="106.7" cy="120.7" r="0.98" fill="rgb(137,137,137)" fill-opacity="0.26"/><circle cx="114.1" cy="115.0" r="1.01" fill="rgb(138,138,138)" fill-opacity="0.19"/><circle cx="111.0" cy="121.1" r="1.20" fill="rgb(101,101,101)" fill-opacity="0.19"/><circle cx="112.1" cy="122.0" r="1.71" fill="rgb(135,135,135)" fill-opacity="0.30"/><circle cx="117.3" cy="114.5" r="1.57" fill="rgb(110,110,110)" fill-opacity="0.26"/><circle cx="108.4" cy="131.9" r="1.30" fill="rgb(127,127,127)" fill-opacity="0.19"/><circle cx="104.2" cy="111.6" r="1.24" fill="rgb(120,120,120)" fill-opacity="0.30"/><circle cx="96.5" cy="125.0" r="0.84" fill="rgb(117,117,117)" fill-opacity="0.21"/><circle cx="113.5" cy="119.2" r="1.37" fill="rgb(92,92,92)" fill-opacity="0.22"/><circle cx="103.9" cy="125.0" r="1.09" fill="rgb(93,93,93)" fill-opacity="0.19"/><circle cx="108.2" cy="121.1" r="0.85" fill="rgb(100,100,100)" fill-opacity="0.26"/><circle cx="106.4" cy="120.6" r="1.43" fill="rgb(121,121,121)" fill-opacity="0.28"/><circle cx="111.8" cy="123.5" r="1.51" fill="rgb(105,105,105)" fill-opacity="0.25"/><circle cx="111.9" cy="116.6" r="1.49" fill="rgb(92,92,92)" fill-opacity="0.23"/><circle cx="104.8" cy="111.4" r="1.59" fill="rgb(112,112,112)" fill-opacity="0.29"/><circle cx="102.9" cy="115.1" r="1.50" fill="rgb(130,130,130)" fill-opacity="0.28"/><circle cx="105.0" cy="116.8" r="1.27" fill="rgb(119,119,119)" fill-opacity="0.29"/><circle cx="101.6" cy="124.2" r="0.95" fill="rgb(106,106,106)" fill-opacity="0.28"/><circle cx="106.8" cy="112.5" r="0.80" fill="rgb(125,125,125)" fill-opacity="0.23"/><circle cx="99.7" cy="117.7" r="1.06" fill="rgb(114,114,114)" fill-opacity="0.23"/><circle cx="103.2" cy="121.6" r="1.38" fill="rgb(118,118,118)" fill-opacity="0.29"/><circle cx="104.5" cy="130.0" r="0.92" fill="rgb(138,138,138)" fill-opacity="0.28"/><circle cx="109.3" cy="121.1" r="1.12" fill="rgb(115,115,115)" fill-opacity="0.25"/><circle cx="118.2" cy="116.6" r="1.19" fill="rgb(139,139,139)" fill-opacity="0.26"/>
<circle cx="103.7" cy="116.8" r="1.32" fill="rgb(51,51,51)" fill-opacity="0.23"/><circle cx="115.4" cy="121.8" r="1.01" fill="rgb(48,48,48)" fill-opacity="0.22"/><circle cx="110.8" cy="129.4" r="1.63" fill="rgb(54,54,54)" fill-opacity="0.29"/><circle cx="105.1" cy="112.0" r="1.14" fill="rgb(19,19,19)" fill-opacity="0.21"/><circle cx="108.1" cy="127.3" r="1.64" fill="rgb(42,42,42)" fill-opacity="0.22"/><circle cx="101.2" cy="128.5" r="0.82" fill="rgb(19,19,19)" fill-opacity="0.18"/><circle cx="110.2" cy="112.5" r="1.01" fill="rgb(46,46,46)" fill-opacity="0.27"/><circle cx="114.7" cy="127.9" r="1.60" fill="rgb(66,66,66)" fill-opacity="0.20"/><circle cx="106.4" cy="126.2" r="1.54" fill="rgb(62,62,62)" fill-opacity="0.23"/><circle cx="107.2" cy="123.6" r="1.05" fill="rgb(53,53,53)" fill-opacity="0.26"/><circle cx="99.5" cy="118.7" r="0.85" fill="rgb(65,65,65)" fill-opacity="0.20"/><circle cx="107.2" cy="120.4" r="0.90" fill="rgb(62,62,62)" fill-opacity="0.30"/><circle cx="107.7" cy="111.9" r="0.89" fill="rgb(25,25,25)" fill-opacity="0.30"/><circle cx="99.3" cy="127.4" r="1.33" fill="rgb(19,19,19)" fill-opacity="0.25"/><circle cx="108.0" cy="115.5" r="1.71" fill="rgb(34,34,34)" fill-opacity="0.30"/><circle cx="110.6" cy="126.9" r="1.01" fill="rgb(28,28,28)" fill-opacity="0.23"/><circle cx="107.2" cy="113.0" r="0.94" fill="rgb(31,31,31)" fill-opacity="0.27"/><circle cx="98.2" cy="116.7" r="1.52" fill="rgb(55,55,55)" fill-opacity="0.24"/><circle cx="116.1" cy="125.4" r="1.18" fill="rgb(49,49,49)" fill-opacity="0.22"/><circle cx="98.3" cy="116.3" r="1.03" fill="rgb(34,34,34)" fill-opacity="0.30"/><circle cx="100.8" cy="116.9" r="0.87" fill="rgb(60,60,60)" fill-opacity="0.20"/><circle cx="102.4" cy="118.4" r="1.34" fill="rgb(53,53,53)" fill-opacity="0.29"/><circle cx="99.5" cy="117.1" r="1.17" fill="rgb(45,45,45)" fill-opacity="0.21"/><circle cx="119.1" cy="118.0" r="0.81" fill="rgb(30,30,30)" fill-opacity="0.19"/><circle cx="115.9" cy="119.0" r="1.50" fill="rgb(50,50,50)" fill-opacity="0.22"/><circle cx="109.8" cy="129.1" r="1.54" fill="rgb(61,61,61)" fill-opacity="0.28"/><circle cx="108.4" cy="118.8" r="1.55" fill="rgb(46,46,46)" fill-opacity="0.27"/><circle cx="116.3" cy="123.5" r="1.31" fill="rgb(43,43,43)" fill-opacity="0.22"/><circle cx="105.2" cy="121.4" r="1.79" fill="rgb(57,57,57)" fill-opacity="0.23"/><circle cx="110.0" cy="111.3" r="1.64" fill="rgb(47,47,47)" fill-opacity="0.29"/><circle cx="113.8" cy="115.4" r="1.51" fill="rgb(54,54,54)" fill-opacity="0.23"/><circle cx="102.3" cy="120.7" r="1.68" fill="rgb(27,27,27)" fill-opacity="0.30"/><circle cx="101.0" cy="123.1" r="1.56" fill="rgb(32,32,32)" fill-opacity="0.24"/><circle cx="98.0" cy="123.8" r="1.26" fill="rgb(18,18,18)" fill-opacity="0.28"/><circle cx="97.7" cy="117.4" r="1.52" fill="rgb(33,33,33)" fill-opacity="0.29"/><circle cx="102.9" cy="127.2" r="1.40" fill="rgb(17,17,17)" fill-opacity="0.21"/>
<circle cx="122.1" cy="121.7" r="1.60" fill="rgb(112,112,112)" fill-opacity="0.21"/><circle cx="113.9" cy="112.2" r="1.48" fill="rgb(122,122,122)" fill-opacity="0.30"/><circle cx="119.2" cy="111.7" r="1.80" fill="rgb(118,118,118)" fill-opacity="0.22"/><circle cx="129.8" cy="110.6" r="1.19" fill="rgb(117,117,117)" fill-opacity="0.23"/><circle cx="119.7" cy="112.6" r="1.35" fill="rgb(136,136,136)" fill-opacity="0.21"/><circle cx="128.4" cy="110.4" r="1.70" fill="rgb(151,151,151)" fill-opacity="0.27"/><circle cx="118.0" cy="109.9" r="1.53" fill="rgb(117,117,117)" fill-opacity="0.29"/><circle cx="119.0" cy="109.6" r="1.38" fill="rgb(150,150,150)" fill-opacity="0.29"/><circle cx="125.3" cy="113.9" r="1.33" fill="rgb(147,147,147)" fill-opacity="0.26"/><circle cx="116.5" cy="120.7" r="1.34" fill="rgb(122,122,122)" fill-opacity="0.26"/><circle cx="122.1" cy="115.6" r="1.33" fill="rgb(111,111,111)" fill-opacity="0.27"/><circle cx="131.2" cy="119.6" r="1.32" fill="rgb(117,117,117)" fill-opacity="0.22"/><circle cx="129.5" cy="121.7" r="0.84" fill="rgb(136,136,136)" fill-opacity="0.23"/><circle cx="128.8" cy="120.8" r="1.25" fill="rgb(149,149,149)" fill-opacity="0.22"/><circle cx="134.0" cy="119.3" r="1.27" fill="rgb(121,121,121)" fill-opacity="0.27"/><circle cx="129.2" cy="118.8" r="1.57" fill="rgb(152,152,152)" fill-opacity="0.26"/><circle cx="129.6" cy="117.6" r="1.28" fill="rgb(119,119,119)" fill-opacity="0.28"/><circle cx="112.6" cy="115.2" r="1.24" fill="rgb(156,156,156)" fill-opacity="0.24"/><circle cx="128.7" cy="113.9" r="0.99" fill="rgb(120,120,120)" fill-opacity="0.26"/><circle cx="126.7" cy="111.0" r="1.11" fill="rgb(113,113,113)" fill-opacity="0.19"/><circle cx="125.3" cy="112.4" r="1.20" fill="rgb(116,116,116)" fill-opacity="0.24"/><circle cx="113.5" cy="115.6" r="1.55" fill="rgb(123,123,123)" fill-opacity="0.28"/><circle cx="123.4" cy="109.6" r="0.83" fill="rgb(151,151,151)" fill-opacity="0.23"/><circle cx="117.8" cy="110.7" r="1.50" fill="rgb(121,121,121)" fill-opacity="0.27"/><circle cx="120.2" cy="109.1" r="1.15" fill="rgb(143,143,143)" fill-opacity="0.19"/><circle cx="128.8" cy="115.0" r="1.75" fill="rgb(116,116,116)" fill-opacity="0.23"/>
<circle cx="128.1" cy="121.4" r="1.60" fill="rgb(52,52,52)" fill-opacity="0.21"/><circle cx="114.6" cy="117.5" r="1.69" fill="rgb(80,80,80)" fill-opacity="0.23"/><circle cx="127.8" cy="119.7" r="0.85" fill="rgb(39,39,39)" fill-opacity="0.21"/><circle cx="117.6" cy="110.9" r="1.41" fill="rgb(58,58,58)" fill-opacity="0.23"/><circle cx="130.4" cy="112.5" r="1.05" fill="rgb(62,62,62)" fill-opacity="0.23"/><circle cx="124.6" cy="110.0" r="0.99" fill="rgb(48,48,48)" fill-opacity="0.29"/><circle cx="118.1" cy="116.5" r="1.51" fill="rgb(60,60,60)" fill-opacity="0.24"/><circle cx="123.6" cy="119.1" r="1.37" fill="rgb(39,39,39)" fill-opacity="0.25"/><circle cx="127.1" cy="112.0" r="1.68" fill="rgb(42,42,42)" fill-opacity="0.27"/><circle cx="126.0" cy="119.9" r="1.50" fill="rgb(40,40,40)" fill-opacity="0.24"/><circle cx="132.6" cy="119.2" r="1.78" fill="rgb(68,68,68)" fill-opacity="0.22"/><circle cx="131.8" cy="112.6" r="1.38" fill="rgb(48,48,48)" fill-opacity="0.26"/><circle cx="132.7" cy="117.9" r="1.76" fill="rgb(54,54,54)" fill-opacity="0.28"/><circle cx="132.7" cy="113.2" r="1.76" fill="rgb(48,48,48)" fill-opacity="0.22"/><circle cx="121.6" cy="109.8" r="1.31" fill="rgb(74,74,74)" fill-opacity="0.19"/><circle cx="118.3" cy="115.8" r="1.11" fill="rgb(79,79,79)" fill-opacity="0.21"/><circle cx="129.8" cy="116.4" r="1.17" fill="rgb(77,77,77)" fill-opacity="0.27"/><circle cx="124.2" cy="120.0" r="1.63" fill="rgb(70,70,70)" fill-opacity="0.20"/><circle cx="116.4" cy="116.1" r="1.19" fill="rgb(57,57,57)" fill-opacity="0.28"/><circle cx="127.1" cy="114.4" r="1.67" fill="rgb(44,44,44)" fill-opacity="0.29"/><circle cx="121.0" cy="112.3" r="1.48" fill="rgb(63,63,63)" fill-opacity="0.18"/><circle cx="120.4" cy="120.3" r="0.92" fill="rgb(62,62,62)" fill-opacity="0.26"/><circle cx="122.8" cy="120.7" r="0.91" fill="rgb(61,61,61)" fill-opacity="0.19"/>
<circle cx="135.1" cy="123.6" r="1.09" fill="rgb(174,174,174)" fill-opacity="0.26"/><circle cx="137.6" cy="127.6" r="1.73" fill="rgb(161,161,161)" fill-opacity="0.22"/><circle cx="136.5" cy="125.6" r="1.12" fill="rgb(150,150,150)" fill-opacity="0.18"/><circle cx="139.3" cy="127.7" r="1.45" fill="rgb(158,158,158)" fill-opacity="0.27"/><circle cx="135.5" cy="126.3" r="1.41" fill="rgb(161,161,161)" fill-opacity="0.25"/><circle cx="138.0" cy="124.5" r="0.93" fill="rgb(164,164,164)" fill-opacity="0.23"/><circle cx="134.3" cy="119.3" r="0.81" fill="rgb(162,162,162)" fill-opacity="0.24"/><circle cx="135.2" cy="129.4" r="1.69" fill="rgb(138,138,138)" fill-opacity="0.22"/><circle cx="137.2" cy="128.8" r="1.61" fill="rgb(132,132,132)" fill-opacity="0.19"/><circle cx="131.1" cy="121.2" r="1.07" fill="rgb(141,141,141)" fill-opacity="0.27"/><circle cx="133.3" cy="123.0" r="1.21" fill="rgb(171,171,171)" fill-opacity="0.23"/><circle cx="132.5" cy="128.9" r="1.56" fill="rgb(150,150,150)" fill-opacity="0.21"/>
<circle cx="136.1" cy="124.0" r="1.70" fill="rgb(60,60,60)" fill-opacity="0.20"/><circle cx="135.3" cy="118.8" r="0.98" fill="rgb(75,75,75)" fill-opacity="0.28"/><circle cx="139.8" cy="123.4" r="0.92" fill="rgb(78,78,78)" fill-opacity="0.26"/><circle cx="135.3" cy="123.4" r="1.40" fill="rgb(89,89,89)" fill-opacity="0.19"/><circle cx="136.3" cy="124.0" r="1.60" fill="rgb(98,98,98)" fill-opacity="0.28"/><circle cx="133.6" cy="123.9" r="1.26" fill="rgb(54,54,54)" fill-opacity="0.27"/><circle cx="134.2" cy="125.6" r="1.33" fill="rgb(72,72,72)" fill-opacity="0.29"/><circle cx="137.5" cy="127.6" r="1.58" fill="rgb(66,66,66)" fill-opacity="0.20"/><circle cx="135.7" cy="118.6" r="1.35" fill="rgb(75,75,75)" fill-opacity="0.29"/><circle cx="136.9" cy="124.5" r="1.37" fill="rgb(68,68,68)" fill-opacity="0.25"/>
<circle cx="91.2" cy="142.8" r="1.21" fill="rgb(116,116,116)" fill-opacity="0.20"/><circle cx="103.9" cy="138.6" r="0.94" fill="rgb(81,81,81)" fill-opacity="0.24"/><circle cx="87.9" cy="138.8" r="0.88" fill="rgb(86,86,86)" fill-opacity="0.20"/><circle cx="94.5" cy="139.7" r="1.38" fill="rgb(118,118,118)" fill-opacity="0.30"/><circle cx="95.8" cy="146.4" r="1.58" fill="rgb(96,96,96)" fill-opacity="0.28"/><circle cx="96.3" cy="142.8" r="1.45" fill="rgb(80,80,80)" fill-opacity="0.24"/><circle cx="97.2" cy="137.2" r="1.54" fill="rgb(80,80,80)" fill-opacity="0.21"/><circle cx="107.0" cy="137.3" r="1.60" fill="rgb(88,88,88)" fill-opacity="0.27"/><circle cx="87.6" cy="135.7" r="1.58" fill="rgb(125,125,125)" fill-opacity="0.28"/><circle cx="95.6" cy="131.8" r="1.33" fill="rgb(97,97,97)" fill-opacity="0.23"/><circle cx="94.0" cy="144.7" r="0.95" fill="rgb(121,121,121)" fill-opacity="0.19"/><circle cx="91.3" cy="134.1" r="1.60" fill="rgb(85,85,85)" fill-opacity="0.20"/><circle cx="107.3" cy="137.4" r="1.41" fill="rgb(129,129,129)" fill-opacity="0.25"/><circle cx="87.6" cy="138.9" r="0.82" fill="rgb(118,118,118)" fill-opacity="0.23"/><circle cx="91.5" cy="131.7" r="1.09" fill="rgb(106,106,106)" fill-opacity="0.27"/><circle cx="99.0" cy="139.2" r="0.96" fill="rgb(121,121,121)" fill-opacity="0.20"/><circle cx="99.7" cy="145.0" r="1.42" fill="rgb(101,101,101)" fill-opacity="0.28"/><circle cx="98.5" cy="138.0" r="1.53" fill="rgb(115,115,115)" fill-opacity="0.29"/><circle cx="107.5" cy="138.7" r="1.75" fill="rgb(123,123,123)" fill-opacity="0.22"/><circle cx="106.3" cy="138.9" r="0.94" fill="rgb(119,119,119)" fill-opacity="0.28"/><circle cx="105.7" cy="144.1" r="1.69" fill="rgb(117,117,117)" fill-opacity="0.24"/><circle cx="106.1" cy="142.8" r="1.42" fill="rgb(94,94,94)" fill-opacity="0.28"/><circle cx="106.5" cy="143.3" r="1.21" fill="rgb(103,103,103)" fill-opacity="0.29"/><circle cx="92.6" cy="143.1" r="1.24" fill="rgb(100,100,100)" fill-opacity="0.23"/><circle cx="99.5" cy="138.6" r="1.46" fill="rgb(89,89,89)" fill-opacity="0.27"/><circle cx="105.7" cy="134.4" r="1.50" fill="rgb(102,102,102)" fill-opacity="0.20"/><circle cx="93.6" cy="140.2" r="1.71" fill="rgb(114,114,114)" fill-opacity="0.26"/><circle cx="87.3" cy="138.2" r="1.42" fill="rgb(82,82,82)" fill-opacity="0.29"/>
<circle cx="93.9" cy="136.9" r="1.09" fill="rgb(17,17,17)" fill-opacity="0.25"/><circle cx="102.9" cy="133.7" r="1.11" fill="rgb(44,44,44)" fill-opacity="0.23"/><circle cx="97.5" cy="130.6" r="1.10" fill="rgb(13,13,13)" fill-opacity="0.20"/><circle cx="99.8" cy="144.2" r="1.51" fill="rgb(13,13,13)" fill-opacity="0.28"/><circle cx="105.8" cy="136.3" r="1.11" fill="rgb(33,33,33)" fill-opacity="0.26"/><circle cx="94.3" cy="141.1" r="0.89" fill="rgb(28,28,28)" fill-opacity="0.19"/><circle cx="105.4" cy="141.9" r="1.28" fill="rgb(51,51,51)" fill-opacity="0.27"/><circle cx="97.1" cy="132.9" r="1.08" fill="rgb(44,44,44)" fill-opacity="0.25"/><circle cx="91.0" cy="138.0" r="1.45" fill="rgb(28,28,28)" fill-opacity="0.25"/><circle cx="92.0" cy="144.0" r="0.95" fill="rgb(41,41,41)" fill-opacity="0.26"/><circle cx="88.2" cy="138.5" r="0.90" fill="rgb(30,30,30)" fill-opacity="0.28"/><circle cx="96.6" cy="130.5" r="1.58" fill="rgb(32,32,32)" fill-opacity="0.25"/><circle cx="96.7" cy="139.2" r="1.39" fill="rgb(22,22,22)" fill-opacity="0.24"/><circle cx="92.5" cy="133.2" r="1.45" fill="rgb(19,19,19)" fill-opacity="0.28"/><circle cx="99.1" cy="130.8" r="1.54" fill="rgb(15,15,15)" fill-opacity="0.23"/><circle cx="101.4" cy="140.5" r="1.57" fill="rgb(21,21,21)" fill-opacity="0.18"/><circle cx="99.8" cy="143.5" r="0.86" fill="rgb(27,27,27)" fill-opacity="0.19"/><circle cx="104.0" cy="132.2" r="1.04" fill="rgb(39,39,39)" fill-opacity="0.27"/><circle cx="96.4" cy="133.1" r="1.45" fill="rgb(20,20,20)" fill-opacity="0.23"/><circle cx="94.2" cy="138.9" r="1.32" fill="rgb(17,17,17)" fill-opacity="0.23"/><circle cx="94.1" cy="137.6" r="0.92" fill="rgb(35,35,35)" fill-opacity="0.25"/><circle cx="96.8" cy="144.0" r="0.90" fill="rgb(19,19,19)" fill-opacity="0.18"/><circle cx="98.7" cy="134.2" r="1.09" fill="rgb(31,31,31)" fill-opacity="0.18"/><circle cx="98.3" cy="131.7" r="0.94" fill="rgb(9,9,9)" fill-opacity="0.28"/>
<circle cx="83.2" cy="148.0" r="1.68" fill="rgb(72,72,72)" fill-opacity="0.26"/><circle cx="85.7" cy="144.4" r="1.60" fill="rgb(88,88,88)" fill-opacity="0.26"/><circle cx="96.6" cy="156.5" r="1.62" fill="rgb(100,100,100)" fill-opacity="0.28"/><circle cx="86.9" cy="145.2" r="0.98" fill="rgb(117,117,117)" fill-opacity="0.20"/><circle cx="86.4" cy="145.1" r="1.52" fill="rgb(119,119,119)" fill-opacity="0.24"/><circle cx="93.9" cy="149.2" r="1.78" fill="rgb(83,83,83)" fill-opacity="0.27"/><circle cx="86.3" cy="146.2" r="1.18" fill="rgb(74,74,74)" fill-opacity="0.21"/><circle cx="91.0" cy="157.1" r="1.62" fill="rgb(76,76,76)" fill-opacity="0.20"/><circle cx="98.1" cy="151.1" r="1.02" fill="rgb(84,84,84)" fill-opacity="0.27"/><circle cx="85.1" cy="144.8" r="1.07" fill="rgb(119,119,119)" fill-opacity="0.24"/><circle cx="88.4" cy="154.7" r="1.15" fill="rgb(84,84,84)" fill-opacity="0.24"/><circle cx="87.2" cy="143.0" r="0.87" fill="rgb(115,115,115)" fill-opacity="0.21"/><circle cx="99.5" cy="147.1" r="1.02" fill="rgb(97,97,97)" fill-opacity="0.19"/><circle cx="100.4" cy="152.7" r="1.37" fill="rgb(109,109,109)" fill-opacity="0.26"/><circle cx="86.9" cy="156.1" r="1.52" fill="rgb(81,81,81)" fill-opacity="0.25"/><circle cx="88.0" cy="149.3" r="0.81" fill="rgb(73,73,73)" fill-opacity="0.27"/><circle cx="98.1" cy="147.8" r="1.20" fill="rgb(107,107,107)" fill-opacity="0.24"/><circle cx="93.0" cy="159.0" r="1.59" fill="rgb(72,72,72)" fill-opacity="0.29"/><circle cx="93.3" cy="157.7" r="1.64" fill="rgb(93,93,93)" fill-opacity="0.20"/><circle cx="84.2" cy="149.1" r="1.16" fill="rgb(87,87,87)" fill-opacity="0.21"/><circle cx="83.6" cy="148.7" r="0.87" fill="rgb(102,102,102)" fill-opacity="0.29"/><circle cx="87.6" cy="146.4" r="1.75" fill="rgb(116,116,116)" fill-opacity="0.19"/><circle cx="87.2" cy="151.7" r="1.40" fill="rgb(108,108,108)" fill-opacity="0.20"/><circle cx="83.5" cy="146.2" r="1.17" fill="rgb(100,100,100)" fill-opacity="0.20"/><circle cx="96.8" cy="152.0" r="1.19" fill="rgb(113,113,113)" fill-opacity="0.19"/>
<circle cx="93.0" cy="147.3" r="1.24" fill="rgb(0,0,0)" fill-opacity="0.30"/><circle cx="94.8" cy="155.9" r="1.03" fill="rgb(22,22,22)" fill-opacity="0.22"/><circle cx="88.2" cy="157.4" r="1.53" fill="rgb(26,26,26)" fill-opacity="0.26"/><circle cx="89.0" cy="158.2" r="1.41" fill="rgb(24,24,24)" fill-opacity="0.21"/><circle cx="87.9" cy="158.1" r="1.71" fill="rgb(34,34,34)" fill-opacity="0.21"/><circle cx="97.2" cy="156.3" r="1.59" fill="rgb(45,45,45)" fill-opacity="0.24"/><circle cx="88.4" cy="149.8" r="1.59" fill="rgb(6,6,6)" fill-opacity="0.19"/><circle cx="83.9" cy="153.6" r="0.82" fill="rgb(26,26,26)" fill-opacity="0.19"/><circle cx="87.5" cy="149.3" r="1.27" fill="rgb(30,30,30)" fill-opacity="0.25"/><circle cx="89.8" cy="155.4" r="1.71" fill="rgb(42,42,42)" fill-opacity="0.29"/><circle cx="88.2" cy="154.6" r="1.58" fill="rgb(35,35,35)" fill-opacity="0.25"/><circle cx="93.1" cy="149.1" r="0.97" fill="rgb(21,21,21)" fill-opacity="0.25"/><circle cx="95.4" cy="153.1" r="1.34" fill="rgb(27,27,27)" fill-opacity="0.30"/><circle cx="87.8" cy="145.3" r="1.73" fill="rgb(33,33,33)" fill-opacity="0.28"/><circle cx="89.7" cy="146.7" r="1.36" fill="rgb(26,26,26)" fill-opacity="0.28"/><circle cx="88.7" cy="153.9" r="1.30" fill="rgb(17,17,17)" fill-opacity="0.23"/><circle cx="89.9" cy="156.2" r="1.39" fill="rgb(8,8,8)" fill-opacity="0.20"/><circle cx="99.6" cy="153.1" r="1.23" fill="rgb(32,32,32)" fill-opacity="0.27"/><circle cx="89.0" cy="148.9" r="1.26" fill="rgb(7,7,7)" fill-opacity="0.24"/><circle cx="87.8" cy="155.1" r="0.98" fill="rgb(9,9,9)" fill-opacity="0.26"/><circle cx="96.2" cy="153.0" r="1.54" fill="rgb(1,1,1)" fill-opacity="0.24"/>
<circle cx="64.2" cy="168.3" r="0.86" fill="rgb(103,103,103)" fill-opacity="0.25"/><circle cx="73.2" cy="164.6" r="1.79" fill="rgb(109,109,109)" fill-opacity="0.24"/><circle cx="69.7" cy="160.5" r="1.09" fill="rgb(72,72,72)" fill-opacity="0.19"/><circle cx="72.6" cy="159.5" r="0.85" fill="rgb(91,91,91)" fill-opacity="0.20"/><circle cx="68.2" cy="168.3" r="1.35" fill="rgb(82,82,82)" fill-opacity="0.25"/><circle cx="75.9" cy="168.6" r="1.46" fill="rgb(72,72,72)" fill-opacity="0.28"/><circle cx="80.5" cy="159.8" r="1.74" fill="rgb(97,97,97)" fill-opacity="0.26"/><circle cx="70.8" cy="161.2" r="1.06" fill="rgb(70,70,70)" fill-opacity="0.29"/><circle cx="79.3" cy="158.3" r="0.99" fill="rgb(92,92,92)" fill-opacity="0.22"/><circle cx="76.5" cy="161.4" r="1.41" fill="rgb(111,111,111)" fill-opacity="0.24"/><circle cx="71.7" cy="167.6" r="1.61" fill="rgb(80,80,80)" fill-opacity="0.18"/><circle cx="66.4" cy="168.1" r="0.98" fill="rgb(81,81,81)" fill-opacity="0.30"/><circle cx="68.5" cy="171.2" r="1.52" fill="rgb(96,96,96)" fill-opacity="0.23"/><circle cx="65.9" cy="161.3" r="0.91" fill="rgb(108,108,108)" fill-opacity="0.23"/><circle cx="67.1" cy="155.9" r="1.75" fill="rgb(71,71,71)" fill-opacity="0.19"/><circle cx="69.6" cy="168.1" r="1.67" fill="rgb(77,77,77)" fill-opacity="0.19"/><circle cx="67.5" cy="167.5" r="0.85" fill="rgb(106,106,106)" fill-opacity="0.25"/><circle cx="72.4" cy="162.6" r="1.75" fill="rgb(87,87,87)" fill-opacity="0.19"/><circle cx="69.6" cy="169.3" r="1.35" fill="rgb(104,104,104)" fill-opacity="0.20"/><circle cx="76.5" cy="156.6" r="1.18" fill="rgb(74,74,74)" fill-opacity="0.18"/><circle cx="80.4" cy="160.4" r="1.29" fill="rgb(99,99,99)" fill-opacity="0.19"/><circle cx="70.1" cy="167.0" r="1.55" fill="rgb(97,97,97)" fill-opacity="0.26"/><circle cx="67.8" cy="157.8" r="1.40" fill="rgb(88,88,88)" fill-opacity="0.25"/><circle cx="74.6" cy="155.1" r="1.28" fill="rgb(109,109,109)" fill-opacity="0.26"/><circle cx="64.7" cy="161.7" r="1.09" fill="rgb(90,90,90)" fill-opacity="0.22"/>
<circle cx="67.7" cy="157.7" r="0.95" fill="rgb(0,0,0)" fill-opacity="0.30"/><circle cx="74.6" cy="169.2" r="1.77" fill="rgb(15,15,15)" fill-opacity="0.26"/><circle cx="70.3" cy="165.7" r="1.66" fill="rgb(8,8,8)" fill-opacity="0.30"/><circle cx="72.3" cy="159.8" r="1.05" fill="rgb(28,28,28)" fill-opacity="0.28"/><circle cx="71.4" cy="166.6" r="1.71" fill="rgb(2,2,2)" fill-opacity="0.21"/><circle cx="74.4" cy="165.1" r="1.24" fill="rgb(8,8,8)" fill-opacity="0.20"/><circle cx="66.1" cy="157.0" r="1.49" fill="rgb(34,34,34)" fill-opacity="0.20"/><circle cx="67.7" cy="158.2" r="1.65" fill="rgb(2,2,2)" fill-opacity="0.20"/><circle cx="71.3" cy="156.4" r="1.71" fill="rgb(26,26,26)" fill-opacity="0.21"/><circle cx="69.4" cy="169.3" r="1.31" fill="rgb(31,31,31)" fill-opacity="0.25"/><circle cx="66.8" cy="168.7" r="0.80" fill="rgb(32,32,32)" fill-opacity="0.29"/><circle cx="73.9" cy="161.6" r="1.73" fill="rgb(30,30,30)" fill-opacity="0.22"/><circle cx="67.7" cy="169.6" r="1.70" fill="rgb(27,27,27)" fill-opacity="0.27"/><circle cx="70.2" cy="169.5" r="0.89" fill="rgb(40,40,40)" fill-opacity="0.22"/><circle cx="73.3" cy="166.4" r="0.96" fill="rgb(34,34,34)" fill-opacity="0.29"/><circle cx="65.1" cy="166.4" r="1.37" fill="rgb(0,0,0)" fill-opacity="0.23"/><circle cx="78.6" cy="164.6" r="1.06" fill="rgb(41,41,41)" fill-opacity="0.28"/><circle cx="71.5" cy="158.9" r="1.02" fill="rgb(37,37,37)" fill-opacity="0.21"/><circle cx="67.5" cy="158.8" r="1.37" fill="rgb(18,18,18)" fill-opacity="0.24"/><circle cx="77.5" cy="158.8" r="1.09" fill="rgb(40,40,40)" fill-opacity="0.21"/><circle cx="67.9" cy="162.7" r="1.13" fill="rgb(42,42,42)" fill-opacity="0.28"/>
<circle cx="101.0" cy="166.2" r="1.22" fill="rgb(68,68,68)" fill-opacity="0.24"/><circle cx="95.6" cy="168.0" r="1.02" fill="rgb(94,94,94)" fill-opacity="0.22"/><circle cx="90.9" cy="159.6" r="1.61" fill="rgb(107,107,107)" fill-opacity="0.26"/><circle cx="92.7" cy="159.1" r="1.53" fill="rgb(106,106,106)" fill-opacity="0.22"/><circle cx="99.9" cy="169.1" r="1.15" fill="rgb(84,84,84)" fill-opacity="0.22"/><circle cx="96.7" cy="163.3" r="1.73" fill="rgb(93,93,93)" fill-opacity="0.19"/><circle cx="95.4" cy="153.3" r="1.06" fill="rgb(115,115,115)" fill-opacity="0.25"/><circle cx="101.7" cy="163.9" r="0.99" fill="rgb(98,98,98)" fill-opacity="0.19"/><circle cx="101.0" cy="154.0" r="1.30" fill="rgb(100,100,100)" fill-opacity="0.29"/><circle cx="92.7" cy="157.3" r="1.35" fill="rgb(117,117,117)" fill-opacity="0.21"/><circle cx="94.1" cy="171.5" r="1.30" fill="rgb(105,105,105)" fill-opacity="0.26"/><circle cx="95.9" cy="166.7" r="1.48" fill="rgb(71,71,71)" fill-opacity="0.24"/><circle cx="103.5" cy="154.8" r="1.50" fill="rgb(88,88,88)" fill-opacity="0.22"/><circle cx="89.9" cy="166.9" r="0.85" fill="rgb(94,94,94)" fill-opacity="0.19"/><circle cx="100.6" cy="153.7" r="1.70" fill="rgb(70,70,70)" fill-opacity="0.22"/><circle cx="95.2" cy="163.2" r="1.12" fill="rgb(104,104,104)" fill-opacity="0.19"/><circle cx="103.6" cy="162.0" r="1.20" fill="rgb(79,79,79)" fill-opacity="0.24"/><circle cx="104.7" cy="162.2" r="1.57" fill="rgb(103,103,103)" fill-opacity="0.21"/><circle cx="92.5" cy="167.7" r="1.51" fill="rgb(110,110,110)" fill-opacity="0.19"/><circle cx="97.5" cy="156.9" r="1.10" fill="rgb(73,73,73)" fill-opacity="0.21"/><circle cx="97.8" cy="162.3" r="1.61" fill="rgb(111,111,111)" fill-opacity="0.19"/><circle cx="94.7" cy="169.5" r="1.79" fill="rgb(81,81,81)" fill-opacity="0.25"/><circle cx="98.0" cy="165.9" r="1.37" fill="rgb(96,96,96)" fill-opacity="0.27"/><circle cx="90.0" cy="164.7" r="0.92" fill="rgb(116,116,116)" fill-opacity="0.21"/><circle cx="95.0" cy="159.5" r="0.89" fill="rgb(104,104,104)" fill-opacity="0.22"/><circle cx="99.6" cy="153.4" r="1.37" fill="rgb(117,117,117)" fill-opacity="0.21"/><circle cx="101.8" cy="166.2" r="1.54" fill="rgb(92,92,92)" fill-opacity="0.22"/><circle cx="99.7" cy="162.7" r="1.72" fill="rgb(99,99,99)" fill-opacity="0.28"/><circle cx="103.4" cy="159.2" r="1.02" fill="rgb(96,96,96)" fill-opacity="0.29"/><circle cx="99.2" cy="166.6" r="1.75" fill="rgb(114,114,114)" fill-opacity="0.22"/><circle cx="105.6" cy="157.5" r="1.13" fill="rgb(75,75,75)" fill-opacity="0.23"/><circle cx="88.9" cy="164.0" r="1.05" fill="rgb(82,82,82)" fill-opacity="0.18"/><circle cx="97.1" cy="163.3" r="1.24" fill="rgb(117,117,117)" fill-opacity="0.24"/><circle cx="89.7" cy="155.8" r="1.09" fill="rgb(97,97,97)" fill-opacity="0.23"/><circle cx="101.5" cy="169.7" r="1.34" fill="rgb(83,83,83)" fill-opacity="0.20"/>
<circle cx="89.0" cy="158.1" r="1.67" fill="rgb(14,14,14)" fill-opacity="0.20"/><circle cx="101.8" cy="166.6" r="1.25" fill="rgb(0,0,0)" fill-opacity="0.23"/><circle cx="89.7" cy="157.5" r="1.02" fill="rgb(0,0,0)" fill-opacity="0.24"/><circle cx="94.9" cy="158.8" r="1.02" fill="rgb(19,19,19)" fill-opacity="0.22"/><circle cx="100.0" cy="167.0" r="1.55" fill="rgb(17,17,17)" fill-opacity="0.27"/><circle cx="98.4" cy="161.7" r="1.29" fill="rgb(0,0,0)" fill-opacity="0.21"/><circle cx="105.2" cy="161.8" r="1.63" fill="rgb(40,40,40)" fill-opacity="0.29"/><circle cx="107.0" cy="164.5" r="0.85" fill="rgb(31,31,31)" fill-opacity="0.27"/><circle cx="106.7" cy="164.1" r="1.38" fill="rgb(23,23,23)" fill-opacity="0.19"/><circle cx="101.8" cy="156.1" r="0.97" fill="rgb(38,38,38)" fill-opacity="0.23"/><circle cx="91.0" cy="162.9" r="0.83" fill="rgb(0,0,0)" fill-opacity="0.20"/><circle cx="98.7" cy="152.2" r="1.42" fill="rgb(0,0,0)" fill-opacity="0.25"/><circle cx="92.1" cy="156.3" r="1.66" fill="rgb(28,28,28)" fill-opacity="0.25"/><circle cx="90.9" cy="164.7" r="0.92" fill="rgb(24,24,24)" fill-opacity="0.30"/><circle cx="91.4" cy="159.0" r="1.52" fill="rgb(38,38,38)" fill-opacity="0.22"/><circle cx="94.3" cy="159.4" r="1.17" fill="rgb(5,5,5)" fill-opacity="0.24"/><circle cx="89.4" cy="162.9" r="1.71" fill="rgb(7,7,7)" fill-opacity="0.23"/><circle cx="102.4" cy="164.5" r="1.74" fill="rgb(40,40,40)" fill-opacity="0.21"/><circle cx="105.1" cy="155.0" r="0.80" fill="rgb(10,10,10)" fill-opacity="0.22"/><circle cx="92.4" cy="162.3" r="0.94" fill="rgb(34,34,34)" fill-opacity="0.30"/><circle cx="98.5" cy="157.0" r="0.85" fill="rgb(0,0,0)" fill-opacity="0.24"/><circle cx="94.3" cy="167.9" r="0.89" fill="rgb(16,16,16)" fill-opacity="0.23"/><circle cx="94.7" cy="167.9" r="1.02" fill="rgb(35,35,35)" fill-opacity="0.19"/><circle cx="101.8" cy="152.9" r="1.73" fill="rgb(33,33,33)" fill-opacity="0.29"/><circle cx="99.0" cy="159.5" r="1.13" fill="rgb(0,0,0)" fill-opacity="0.24"/><circle cx="106.0" cy="161.7" r="1.11" fill="rgb(1,1,1)" fill-opacity="0.25"/><circle cx="98.3" cy="171.5" r="1.40" fill="rgb(28,28,28)" fill-opacity="0.26"/><circle cx="91.4" cy="159.2" r="1.31" fill="rgb(24,24,24)" fill-opacity="0.24"/><circle cx="90.5" cy="162.9" r="1.29" fill="rgb(6,6,6)" fill-opacity="0.21"/><circle cx="92.6" cy="155.6" r="1.29" fill="rgb(36,36,36)" fill-opacity="0.23"/>
<circle cx="109.0" cy="164.3" r="1.34" fill="rgb(74,74,74)" fill-opacity="0.23"/><circle cx="122.8" cy="167.2" r="1.71" fill="rgb(70,70,70)" fill-opacity="0.29"/><circle cx="117.0" cy="159.8" r="1.61" fill="rgb(87,87,87)" fill-opacity="0.28"/><circle cx="142.8" cy="168.4" r="1.41" fill="rgb(100,100,100)" fill-opacity="0.28"/><circle cx="129.9" cy="166.5" r="1.14" fill="rgb(93,93,93)" fill-opacity="0.26"/><circle cx="115.4" cy="155.2" r="1.23" fill="rgb(69,69,69)" fill-opacity="0.29"/><circle cx="119.5" cy="165.4" r="1.30" fill="rgb(63,63,63)" fill-opacity="0.21"/><circle cx="109.6" cy="169.0" r="0.92" fill="rgb(61,61,61)" fill-opacity="0.29"/><circle cx="110.2" cy="158.9" r="1.66" fill="rgb(81,81,81)" fill-opacity="0.25"/><circle cx="125.9" cy="163.3" r="1.78" fill="rgb(78,78,78)" fill-opacity="0.23"/><circle cx="133.9" cy="160.5" r="1.49" fill="rgb(104,104,104)" fill-opacity="0.20"/><circle cx="129.7" cy="166.4" r="1.69" fill="rgb(77,77,77)" fill-opacity="0.25"/><circle cx="103.7" cy="161.0" r="1.61" fill="rgb(60,60,60)" fill-opacity="0.20"/><circle cx="118.8" cy="156.1" r="1.72" fill="rgb(78,78,78)" fill-opacity="0.22"/><circle cx="102.8" cy="167.0" r="1.50" fill="rgb(103,103,103)" fill-opacity="0.27"/><circle cx="125.7" cy="171.5" r="1.07" fill="rgb(75,75,75)" fill-opacity="0.25"/><circle cx="118.6" cy="166.8" r="1.69" fill="rgb(66,66,66)" fill-opacity="0.30"/><circle cx="127.2" cy="174.3" r="0.86" fill="rgb(69,69,69)" fill-opacity="0.23"/><circle cx="131.5" cy="171.8" r="1.41" fill="rgb(106,106,106)" fill-opacity="0.24"/><circle cx="116.3" cy="173.3" r="1.23" fill="rgb(76,76,76)" fill-opacity="0.23"/><circle cx="101.0" cy="163.5" r="1.25" fill="rgb(62,62,62)" fill-opacity="0.26"/><circle cx="116.4" cy="169.6" r="1.48" fill="rgb(72,72,72)" fill-opacity="0.24"/><circle cx="124.5" cy="160.5" r="1.17" fill="rgb(79,79,79)" fill-opacity="0.23"/><circle cx="108.7" cy="162.7" r="1.28" fill="rgb(70,70,70)" fill-opacity="0.29"/><circle cx="129.9" cy="173.7" r="1.02" fill="rgb(109,109,109)" fill-opacity="0.21"/><circle cx="121.2" cy="174.7" r="0.87" fill="rgb(87,87,87)" fill-opacity="0.29"/><circle cx="134.3" cy="164.7" r="1.49" fill="rgb(97,97,97)" fill-opacity="0.29"/><circle cx="104.7" cy="169.3" r="1.68" fill="rgb(107,107,107)" fill-opacity="0.23"/><circle cx="102.1" cy="164.8" r="1.69" fill="rgb(87,87,87)" fill-opacity="0.23"/><circle cx="118.6" cy="157.3" r="1.16" fill="rgb(73,73,73)" fill-opacity="0.25"/><circle cx="110.3" cy="161.9" r="1.63" fill="rgb(74,74,74)" fill-opacity="0.23"/><circle cx="135.4" cy="157.0" r="1.47" fill="rgb(70,70,70)" fill-opacity="0.30"/><circle cx="103.0" cy="160.6" r="1.78" fill="rgb(77,77,77)" fill-opacity="0.24"/><circle cx="116.1" cy="162.8" r="1.77" fill="rgb(91,91,91)" fill-opacity="0.25"/><circle cx="108.7" cy="170.1" r="1.21" fill="rgb(108,108,108)" fill-opacity="0.28"/><circle cx="137.1" cy="159.7" r="1.21" fill="rgb(63,63,63)" fill-opacity="0.23"/><circle cx="116.7" cy="170.2" r="1.03" fill="rgb(99,99,99)" fill-opacity="0.27"/><circle cx="121.9" cy="171.6" r="1.67" fill="rgb(82,82,82)" fill-opacity="0.29"/><circle cx="119.1" cy="165.6" r="1.63" fill="rgb(84,84,84)" fill-opacity="0.29"/><circle cx="122.4" cy="155.3" r="1.06" fill="rgb(109,109,109)" fill-opacity="0.19"/><circle cx="132.6" cy="162.6" r="0.91" fill="rgb(103,103,103)" fill-opacity="0.27"/><circle cx="102.8" cy="164.1" r="1.02" fill="rgb(106,106,106)" fill-opacity="0.21"/><circle cx="117.0" cy="164.2" r="1.76" fill="rgb(78,78,78)" fill-opacity="0.28"/><circle cx="114.7" cy="174.2" r="1.50" fill="rgb(67,67,67)" fill-opacity="0.28"/><circle cx="108.0" cy="157.1" r="1.68" fill="rgb(64,64,64)" fill-opacity="0.28"/><circle cx="112.9" cy="172.1" r="1.28" fill="rgb(87,87,87)" fill-opacity="0.27"/><circle cx="106.0" cy="159.6" r="1.02" fill="rgb(62,62,62)" fill-opacity="0.28"/><circle cx="112.2" cy="160.0" r="0.94" fill="rgb(73,73,73)" fill-opacity="0.28"/><circle cx="120.8" cy="170.8" r="0.96" fill="rgb(101,101,101)" fill-opacity="0.24"/><circle cx="123.6" cy="156.9" r="1.07" fill="rgb(61,61,61)" fill-opacity="0.25"/><circle cx="110.2" cy="169.8" r="1.36" fill="rgb(61,61,61)" fill-opacity="0.18"/><circle cx="123.5" cy="165.1" r="1.31" fill="rgb(89,89,89)" fill-opacity="0.26"/><circle cx="114.5" cy="159.6" r="0.91" fill="rgb(91,91,91)" fill-opacity="0.26"/><circle cx="139.5" cy="163.6" r="1.45" fill="rgb(85,85,85)" fill-opacity="0.24"/><circle cx="123.7" cy="175.5" r="1.43" fill="rgb(104,104,104)" fill-opacity="0.19"/><circle cx="123.6" cy="175.9" r="0.83" fill="rgb(87,87,87)" fill-opacity="0.26"/><circle cx="113.4" cy="167.9" r="1.79" fill="rgb(95,95,95)" fill-opacity="0.27"/><circle cx="137.7" cy="168.8" r="1.70" fill="rgb(80,80,80)" fill-opacity="0.21"/><circle cx="102.5" cy="168.7" r="0.86" fill="rgb(103,103,103)" fill-opacity="0.20"/><circle cx="127.5" cy="170.1" r="1.19" fill="rgb(97,97,97)" fill-opacity="0.30"/><circle cx="127.8" cy="158.7" r="0.80" fill="rgb(61,61,61)" fill-opacity="0.21"/><circle cx="135.0" cy="170.4" r="1.06" fill="rgb(64,64,64)" fill-opacity="0.29"/><circle cx="133.4" cy="170.6" r="1.52" fill="rgb(60,60,60)" fill-opacity="0.24"/><circle cx="102.5" cy="164.5" r="0.94" fill="rgb(96,96,96)" fill-opacity="0.23"/><circle cx="128.3" cy="162.0" r="1.22" fill="rgb(62,62,62)" fill-opacity="0.30"/><circle cx="135.8" cy="160.7" r="1.62" fill="rgb(65,65,65)" fill-opacity="0.26"/><circle cx="132.4" cy="174.0" r="1.35" fill="rgb(71,71,71)" fill-opacity="0.29"/><circle cx="120.3" cy="160.2" r="1.24" fill="rgb(84,84,84)" fill-opacity="0.25"/><circle cx="101.7" cy="164.8" r="0.84" fill="rgb(107,107,107)" fill-opacity="0.19"/><circle cx="123.0" cy="160.1" r="1.27" fill="rgb(62,62,62)" fill-opacity="0.18"/>
<circle cx="124.2" cy="168.2" r="1.43" fill="rgb(0,0,0)" fill-opacity="0.21"/><circle cx="125.9" cy="172.1" r="1.43" fill="rgb(7,7,7)" fill-opacity="0.20"/><circle cx="129.7" cy="168.1" r="1.04" fill="rgb(0,0,0)" fill-opacity="0.21"/><circle cx="125.0" cy="170.7" r="1.32" fill="rgb(25,25,25)" fill-opacity="0.25"/><circle cx="124.5" cy="170.7" r="1.75" fill="rgb(4,4,4)" fill-opacity="0.26"/><circle cx="124.7" cy="166.8" r="1.42" fill="rgb(7,7,7)" fill-opacity="0.24"/><circle cx="136.4" cy="163.4" r="0.89" fill="rgb(0,0,0)" fill-opacity="0.24"/><circle cx="115.9" cy="158.8" r="0.89" fill="rgb(0,0,0)" fill-opacity="0.22"/><circle cx="113.1" cy="160.5" r="1.39" fill="rgb(2,2,2)" fill-opacity="0.28"/><circle cx="121.2" cy="167.2" r="1.00" fill="rgb(0,0,0)" fill-opacity="0.18"/><circle cx="111.8" cy="167.0" r="0.81" fill="rgb(1,1,1)" fill-opacity="0.19"/><circle cx="134.0" cy="159.6" r="1.13" fill="rgb(0,0,0)" fill-opacity="0.23"/><circle cx="122.1" cy="173.8" r="1.24" fill="rgb(2,2,2)" fill-opacity="0.22"/><circle cx="133.2" cy="165.2" r="1.65" fill="rgb(0,0,0)" fill-opacity="0.30"/><circle cx="113.2" cy="169.0" r="1.04" fill="rgb(0,0,0)" fill-opacity="0.27"/><circle cx="123.1" cy="172.7" r="0.81" fill="rgb(0,0,0)" fill-opacity="0.24"/><circle cx="113.2" cy="160.3" r="1.31" fill="rgb(1,1,1)" fill-opacity="0.20"/><circle cx="112.5" cy="157.2" r="0.89" fill="rgb(0,0,0)" fill-opacity="0.30"/><circle cx="123.0" cy="160.6" r="1.17" fill="rgb(12,12,12)" fill-opacity="0.25"/><circle cx="125.1" cy="174.2" r="1.66" fill="rgb(25,25,25)" fill-opacity="0.20"/><circle cx="123.4" cy="162.6" r="1.15" fill="rgb(13,13,13)" fill-opacity="0.25"/><circle cx="139.7" cy="163.1" r="1.63" fill="rgb(24,24,24)" fill-opacity="0.25"/><circle cx="117.7" cy="155.4" r="1.26" fill="rgb(9,9,9)" fill-opacity="0.21"/><circle cx="119.2" cy="155.1" r="1.30" fill="rgb(0,0,0)" fill-opacity="0.23"/><circle cx="121.0" cy="159.4" r="1.62" fill="rgb(0,0,0)" fill-opacity="0.24"/><circle cx="104.9" cy="164.7" r="1.13" fill="rgb(12,12,12)" fill-opacity="0.22"/><circle cx="138.2" cy="168.0" r="0.91" fill="rgb(0,0,0)" fill-opacity="0.25"/><circle cx="126.7" cy="161.0" r="1.47" fill="rgb(33,33,33)" fill-opacity="0.22"/><circle cx="133.7" cy="158.9" r="1.20" fill="rgb(0,0,0)" fill-opacity="0.21"/><circle cx="122.7" cy="166.6" r="1.45" fill="rgb(21,21,21)" fill-opacity="0.25"/><circle cx="120.7" cy="169.6" r="1.32" fill="rgb(8,8,8)" fill-opacity="0.29"/><circle cx="125.8" cy="166.0" r="1.19" fill="rgb(0,0,0)" fill-opacity="0.26"/><circle cx="138.4" cy="165.8" r="1.73" fill="rgb(0,0,0)" fill-opacity="0.29"/><circle cx="131.1" cy="158.2" r="1.65" fill="rgb(28,28,28)" fill-opacity="0.27"/><circle cx="136.4" cy="159.3" r="1.32" fill="rgb(0,0,0)" fill-opacity="0.24"/><circle cx="107.2" cy="169.0" r="0.86" fill="rgb(29,29,29)" fill-opacity="0.18"/><circle cx="127.6" cy="169.0" r="1.02" fill="rgb(22,22,22)" fill-opacity="0.21"/><circle cx="131.1" cy="170.0" r="1.19" fill="rgb(0,0,0)" fill-opacity="0.18"/><circle cx="116.3" cy="168.3" r="1.21" fill="rgb(33,33,33)" fill-opacity="0.19"/><circle cx="141.4" cy="166.2" r="1.01" fill="rgb(19,19,19)" fill-opacity="0.26"/><circle cx="126.5" cy="172.8" r="1.32" fill="rgb(28,28,28)" fill-opacity="0.26"/><circle cx="117.9" cy="166.4" r="1.08" fill="rgb(24,24,24)" fill-opacity="0.19"/><circle cx="107.9" cy="166.4" r="1.79" fill="rgb(4,4,4)" fill-opacity="0.22"/><circle cx="124.7" cy="166.0" r="1.09" fill="rgb(26,26,26)" fill-opacity="0.20"/><circle cx="139.4" cy="162.2" r="0.80" fill="rgb(0,0,0)" fill-opacity="0.28"/><circle cx="138.4" cy="166.8" r="1.20" fill="rgb(15,15,15)" fill-opacity="0.25"/><circle cx="118.9" cy="159.8" r="1.75" fill="rgb(18,18,18)" fill-opacity="0.19"/><circle cx="134.9" cy="160.3" r="1.62" fill="rgb(0,0,0)" fill-opacity="0.22"/><circle cx="136.2" cy="167.9" r="0.91" fill="rgb(30,30,30)" fill-opacity="0.26"/><circle cx="134.0" cy="166.3" r="0.97" fill="rgb(23,23,23)" fill-opacity="0.25"/><circle cx="128.8" cy="173.6" r="1.04" fill="rgb(27,27,27)" fill-opacity="0.23"/><circle cx="134.8" cy="166.0" r="0.84" fill="rgb(3,3,3)" fill-opacity="0.23"/><circle cx="140.8" cy="168.5" r="1.40" fill="rgb(0,0,0)" fill-opacity="0.25"/><circle cx="105.7" cy="166.8" r="1.02" fill="rgb(0,0,0)" fill-opacity="0.29"/><circle cx="108.9" cy="157.5" r="0.95" fill="rgb(4,4,4)" fill-opacity="0.25"/><circle cx="140.6" cy="165.7" r="0.89" fill="rgb(0,0,0)" fill-opacity="0.22"/><circle cx="121.4" cy="156.2" r="0.91" fill="rgb(0,0,0)" fill-opacity="0.29"/><circle cx="131.9" cy="156.5" r="1.28" fill="rgb(2,2,2)" fill-opacity="0.25"/><circle cx="116.1" cy="172.7" r="1.68" fill="rgb(0,0,0)" fill-opacity="0.23"/><circle cx="123.3" cy="169.0" r="1.60" fill="rgb(0,0,0)" fill-opacity="0.30"/>
<circle cx="149.1" cy="173.2" r="1.09" fill="rgb(80,80,80)" fill-opacity="0.19"/><circle cx="145.9" cy="172.7" r="1.61" fill="rgb(109,109,109)" fill-opacity="0.25"/><circle cx="142.3" cy="170.0" r="1.59" fill="rgb(81,81,81)" fill-opacity="0.28"/><circle cx="136.5" cy="172.7" r="1.41" fill="rgb(98,98,98)" fill-opacity="0.23"/><circle cx="133.3" cy="173.9" r="1.28" fill="rgb(116,116,116)" fill-opacity="0.22"/><circle cx="147.1" cy="173.2" r="1.12" fill="rgb(83,83,83)" fill-opacity="0.19"/><circle cx="141.0" cy="175.8" r="1.72" fill="rgb(88,88,88)" fill-opacity="0.20"/><circle cx="139.0" cy="171.8" r="1.80" fill="rgb(110,110,110)" fill-opacity="0.25"/><circle cx="133.8" cy="170.5" r="1.33" fill="rgb(101,101,101)" fill-opacity="0.24"/><circle cx="140.5" cy="171.3" r="1.57" fill="rgb(114,114,114)" fill-opacity="0.24"/><circle cx="149.8" cy="171.6" r="0.96" fill="rgb(84,84,84)" fill-opacity="0.19"/><circle cx="135.1" cy="174.4" r="1.62" fill="rgb(116,116,116)" fill-opacity="0.19"/>
<circle cx="135.1" cy="173.4" r="1.38" fill="rgb(1,1,1)" fill-opacity="0.19"/><circle cx="142.5" cy="173.7" r="0.89" fill="rgb(34,34,34)" fill-opacity="0.18"/><circle cx="143.4" cy="172.9" r="1.72" fill="rgb(26,26,26)" fill-opacity="0.19"/><circle cx="135.3" cy="169.1" r="1.21" fill="rgb(20,20,20)" fill-opacity="0.18"/><circle cx="133.0" cy="172.9" r="0.84" fill="rgb(37,37,37)" fill-opacity="0.28"/><circle cx="137.0" cy="171.6" r="0.81" fill="rgb(12,12,12)" fill-opacity="0.21"/><circle cx="141.8" cy="173.0" r="0.82" fill="rgb(34,34,34)" fill-opacity="0.22"/><circle cx="148.2" cy="171.8" r="0.81" fill="rgb(15,15,15)" fill-opacity="0.27"/><circle cx="142.2" cy="169.2" r="1.27" fill="rgb(39,39,39)" fill-opacity="0.27"/><circle cx="137.6" cy="172.2" r="0.81" fill="rgb(38,38,38)" fill-opacity="0.23"/>
<circle cx="54.8" cy="170.9" r="1.28" fill="rgb(87,87,87)" fill-opacity="0.23"/><circle cx="49.5" cy="172.2" r="1.34" fill="rgb(97,97,97)" fill-opacity="0.28"/><circle cx="47.1" cy="173.7" r="0.84" fill="rgb(75,75,75)" fill-opacity="0.26"/><circle cx="56.1" cy="172.3" r="1.18" fill="rgb(87,87,87)" fill-opacity="0.21"/><circle cx="51.0" cy="175.5" r="0.92" fill="rgb(99,99,99)" fill-opacity="0.22"/>
<circle cx="56.8" cy="173.5" r="1.12" fill="rgb(0,0,0)" fill-opacity="0.28"/><circle cx="52.9" cy="171.7" r="0.81" fill="rgb(1,1,1)" fill-opacity="0.24"/><circle cx="47.2" cy="173.4" r="1.03" fill="rgb(8,8,8)" fill-opacity="0.28"/><circle cx="53.7" cy="174.4" r="1.34" fill="rgb(23,23,23)" fill-opacity="0.26"/>
<circle cx="115.1" cy="148.3" r="1.05" fill="rgb(112,112,112)" fill-opacity="0.22"/><circle cx="111.6" cy="152.1" r="1.22" fill="rgb(138,138,138)" fill-opacity="0.25"/><circle cx="111.3" cy="146.5" r="1.60" fill="rgb(104,104,104)" fill-opacity="0.21"/><circle cx="116.3" cy="151.0" r="1.67" fill="rgb(142,142,142)" fill-opacity="0.19"/><circle cx="111.9" cy="152.0" r="0.96" fill="rgb(143,143,143)" fill-opacity="0.24"/><circle cx="105.8" cy="147.5" r="1.40" fill="rgb(142,142,142)" fill-opacity="0.26"/><circle cx="108.1" cy="151.7" r="1.21" fill="rgb(133,133,133)" fill-opacity="0.28"/><circle cx="118.6" cy="149.1" r="0.94" fill="rgb(139,139,139)" fill-opacity="0.18"/><circle cx="110.2" cy="152.5" r="1.18" fill="rgb(124,124,124)" fill-opacity="0.27"/><circle cx="107.2" cy="145.7" r="1.08" fill="rgb(135,135,135)" fill-opacity="0.20"/>
<circle cx="107.1" cy="150.0" r="1.00" fill="rgb(44,44,44)" fill-opacity="0.25"/><circle cx="110.9" cy="145.8" r="1.13" fill="rgb(39,39,39)" fill-opacity="0.21"/><circle cx="106.5" cy="149.3" r="1.71" fill="rgb(71,71,71)" fill-opacity="0.19"/><circle cx="106.9" cy="149.0" r="1.10" fill="rgb(43,43,43)" fill-opacity="0.20"/><circle cx="117.8" cy="149.6" r="1.57" fill="rgb(62,62,62)" fill-opacity="0.27"/><circle cx="113.1" cy="147.9" r="0.96" fill="rgb(26,26,26)" fill-opacity="0.25"/><circle cx="106.7" cy="147.9" r="0.90" fill="rgb(37,37,37)" fill-opacity="0.22"/><circle cx="113.9" cy="153.1" r="1.70" fill="rgb(29,29,29)" fill-opacity="0.22"/><circle cx="114.9" cy="147.9" r="1.28" fill="rgb(72,72,72)" fill-opacity="0.28"/>
<circle cx="103.3" cy="108.4" r="1.15" fill="rgb(173,173,173)" fill-opacity="0.20"/><circle cx="105.2" cy="106.5" r="1.15" fill="rgb(162,162,162)" fill-opacity="0.20"/><circle cx="102.4" cy="108.9" r="1.63" fill="rgb(157,157,157)" fill-opacity="0.24"/><circle cx="105.2" cy="109.0" r="0.94" fill="rgb(149,149,149)" fill-opacity="0.27"/><circle cx="107.1" cy="109.2" r="1.26" fill="rgb(155,155,155)" fill-opacity="0.21"/><circle cx="108.1" cy="105.4" r="0.98" fill="rgb(169,169,169)" fill-opacity="0.28"/><circle cx="107.3" cy="106.4" r="1.62" fill="rgb(161,161,161)" fill-opacity="0.29"/><circle cx="99.9" cy="105.2" r="1.23" fill="rgb(164,164,164)" fill-opacity="0.19"/>
<circle cx="103.6" cy="106.2" r="1.22" fill="rgb(71,71,71)" fill-opacity="0.25"/><circle cx="102.0" cy="104.8" r="1.18" fill="rgb(86,86,86)" fill-opacity="0.27"/><circle cx="105.3" cy="109.4" r="1.78" fill="rgb(59,59,59)" fill-opacity="0.28"/><circle cx="108.2" cy="108.8" r="1.26" fill="rgb(68,68,68)" fill-opacity="0.18"/><circle cx="98.7" cy="108.5" r="1.31" fill="rgb(54,54,54)" fill-opacity="0.22"/><circle cx="107.3" cy="109.5" r="1.05" fill="rgb(85,85,85)" fill-opacity="0.29"/><circle cx="104.7" cy="106.4" r="0.95" fill="rgb(54,54,54)" fill-opacity="0.29"/>
</g></g>
<defs><linearGradient id="v1527" x1="0" y1="0" x2="0" y2="1"><stop offset="0" stop-color="#8a5a50"/><stop offset="0.2" stop-color="#6a3028"/><stop offset="1" stop-color="#3e1a14"/></linearGradient></defs><path d="M142.5,104.5 Q142.5,102.3 144.7,102.3 L160.4,102.3 Q162.6,102.3 162.6,104.5 L162.6,139.4 Q162.6,142.4 159.6,142.4 L145.5,142.4 Q142.5,142.4 142.5,139.4 Z" fill="#b49890"/><path d="M142.5,104.5 Q142.5,102.3 144.7,102.3 L160.4,102.3 Q162.6,102.3 162.6,104.5 L162.6,113.4 L142.5,113.4 Z" fill="#c8b8b2"/><rect x="142.5" y="115" width="20.1" height="1.2" fill="#8a6050" fill-opacity="0.6"/><rect x="142.5" y="118.5" width="20.1" height="1" fill="#e0c8c0" fill-opacity="0.5"/><rect x="142.5" y="122" width="20.1" height="1.2" fill="#8a6050" fill-opacity="0.5"/><rect x="142.5" y="125.5" width="20.1" height="1" fill="#907068" fill-opacity="0.5"/><path d="M142.5,129.5 L162.6,129.5 L162.6,139.4 Q162.6,142.4 159.6,142.4 L145.5,142.4 Q142.5,142.4 142.5,139.4 Z" fill="url(#v1527)"/><rect x="161.0" y="130.5" width="1.2" height="9.9" fill="#fff" fill-opacity="0.12"/>
<rect x="46" y="175.8" width="121.6" height="2.6" fill="#eeeeee"/>
<text x="46.8" y="178.20000000000002" font-size="2.8" fill="#555" font-family="Liberation Serif, Times New Roman, serif">JL.DTX.TEM</text>
<text x="49.40" y="112.30" font-size="13.4" fill="#111" font-family="Liberation Serif, Times New Roman, serif" stroke="#111" stroke-width="0.15">E</text>
<rect x="138.7" y="172.2" width="28.2" height="1.4" fill="#111"/>
<text transform="translate(153.60,170.80) scale(1,0.78)" font-size="6.7" font-weight="bold" text-anchor="middle" textLength="20.8" lengthAdjust="spacingAndGlyphs" fill="#111" font-family="Liberation Serif, Times New Roman, serif">500 nm</text>
<rect x="169.6" y="99.4" width="121.6" height="75.4" fill="#e0e0e0"/>
<g filter="url(#soft)"><circle cx="224.7" cy="141.5" r="1.42" fill="#1a1a1a" fill-opacity="0.71"/><circle cx="231.3" cy="143.5" r="0.68" fill="#1a1a1a" fill-opacity="0.73"/><circle cx="245.9" cy="158.6" r="0.59" fill="#1a1a1a" fill-opacity="0.62"/><circle cx="181.4" cy="159.8" r="1.19" fill="#1a1a1a" fill-opacity="0.47"/><circle cx="248.8" cy="145.6" r="0.66" fill="#1a1a1a" fill-opacity="0.46"/><circle cx="233.8" cy="104.8" r="0.69" fill="#1a1a1a" fill-opacity="0.58"/><circle cx="174.2" cy="134.5" r="0.94" fill="#1a1a1a" fill-opacity="0.91"/><circle cx="232.7" cy="147.4" r="1.00" fill="#1a1a1a" fill-opacity="0.81"/><circle cx="225.3" cy="120.8" r="1.50" fill="#1a1a1a" fill-opacity="1.00"/><circle cx="271.1" cy="152.4" r="0.82" fill="#1a1a1a" fill-opacity="0.58"/><circle cx="205.2" cy="105.6" r="1.27" fill="#1a1a1a" fill-opacity="0.67"/><circle cx="285.2" cy="162.6" r="0.50" fill="#1a1a1a" fill-opacity="0.57"/><circle cx="179.3" cy="146.6" r="1.28" fill="#1a1a1a" fill-opacity="0.60"/><circle cx="181.0" cy="124.8" r="1.46" fill="#1a1a1a" fill-opacity="0.87"/><circle cx="184.7" cy="118.5" r="0.60" fill="#1a1a1a" fill-opacity="0.48"/><circle cx="237.5" cy="133.2" r="0.69" fill="#1a1a1a" fill-opacity="0.85"/><circle cx="186.3" cy="147.6" r="0.62" fill="#1a1a1a" fill-opacity="0.68"/><circle cx="196.1" cy="120.2" r="1.47" fill="#1a1a1a" fill-opacity="0.89"/><circle cx="207.0" cy="165.3" r="0.71" fill="#1a1a1a" fill-opacity="0.67"/><circle cx="272.8" cy="147.5" r="0.60" fill="#1a1a1a" fill-opacity="0.99"/><circle cx="196.1" cy="119.4" r="1.27" fill="#1a1a1a" fill-opacity="0.63"/><circle cx="206.0" cy="105.8" r="0.59" fill="#1a1a1a" fill-opacity="0.77"/><circle cx="199.7" cy="144.5" r="0.87" fill="#1a1a1a" fill-opacity="0.70"/><circle cx="239.3" cy="164.0" r="0.68" fill="#1a1a1a" fill-opacity="0.53"/><circle cx="279.2" cy="160.4" r="0.75" fill="#1a1a1a" fill-opacity="0.55"/><circle cx="259.0" cy="169.4" r="0.70" fill="#1a1a1a" fill-opacity="0.97"/><circle cx="276.1" cy="144.7" r="0.92" fill="#1a1a1a" fill-opacity="0.51"/><circle cx="175.2" cy="171.1" r="0.74" fill="#1a1a1a" fill-opacity="0.84"/><circle cx="201.3" cy="160.9" r="1.10" fill="#1a1a1a" fill-opacity="0.61"/><circle cx="191.6" cy="153.3" r="0.57" fill="#1a1a1a" fill-opacity="0.58"/><circle cx="237.5" cy="163.0" r="1.11" fill="#1a1a1a" fill-opacity="0.60"/><circle cx="172.6" cy="120.2" r="0.95" fill="#1a1a1a" fill-opacity="0.48"/><circle cx="191.7" cy="127.5" r="1.07" fill="#1a1a1a" fill-opacity="0.52"/><circle cx="213.9" cy="165.8" r="1.48" fill="#1a1a1a" fill-opacity="0.81"/><circle cx="253.3" cy="143.3" r="0.64" fill="#1a1a1a" fill-opacity="0.47"/><circle cx="172.7" cy="167.2" r="1.20" fill="#1a1a1a" fill-opacity="0.98"/><circle cx="173.1" cy="147.1" r="0.98" fill="#1a1a1a" fill-opacity="0.85"/><circle cx="208.7" cy="173.8" r="0.58" fill="#1a1a1a" fill-opacity="0.75"/><circle cx="258.7" cy="166.5" r="1.24" fill="#1a1a1a" fill-opacity="0.84"/><circle cx="212.7" cy="150.7" r="1.40" fill="#1a1a1a" fill-opacity="0.93"/><circle cx="220.5" cy="158.4" r="1.36" fill="#1a1a1a" fill-opacity="0.77"/><circle cx="245.3" cy="128.5" r="1.08" fill="#1a1a1a" fill-opacity="0.78"/></g>
<defs><linearGradient id="v2768" x1="0" y1="0" x2="0" y2="1"><stop offset="0" stop-color="#e86050"/><stop offset="0.2" stop-color="#e43c2c"/><stop offset="1" stop-color="#dc3426"/></linearGradient></defs><path d="M266.6,105.10000000000001 Q266.6,102.9 268.8,102.9 L285.40000000000003,102.9 Q287.6,102.9 287.6,105.10000000000001 L287.6,139.4 Q287.6,142.4 284.6,142.4 L269.6,142.4 Q266.6,142.4 266.6,139.4 Z" fill="#d8bcb6"/><path d="M266.6,105.10000000000001 Q266.6,102.9 268.8,102.9 L285.40000000000003,102.9 Q287.6,102.9 287.6,105.10000000000001 L287.6,114.1 L266.6,114.1 Z" fill="#ece2e0"/><rect x="266.6" y="118" width="21.0" height="1.5" fill="#b07070" fill-opacity="0.5"/><rect x="266.6" y="123" width="21.0" height="1.5" fill="#8a4a40" fill-opacity="0.5"/><path d="M266.6,126.6 L287.6,126.6 L287.6,139.4 Q287.6,142.4 284.6,142.4 L269.6,142.4 Q266.6,142.4 266.6,139.4 Z" fill="url(#v2768)"/><rect x="286.0" y="127.6" width="1.2" height="12.8" fill="#fff" fill-opacity="0.12"/>
<rect x="169.6" y="174.8" width="121.6" height="2.6" fill="#eeeeee"/>
<text x="170.4" y="177.20000000000002" font-size="2.8" fill="#555" font-family="Liberation Serif, Times New Roman, serif">JL.DTX.TEM</text>
<text x="173.00" y="112.30" font-size="13.4" fill="#111" font-family="Liberation Serif, Times New Roman, serif" stroke="#111" stroke-width="0.15">F</text>
<rect x="261.5" y="172.2" width="29.5" height="1.4" fill="#111"/>
<text transform="translate(276.45,170.90) scale(1,0.78)" font-size="6.7" font-weight="bold" text-anchor="middle" textLength="21.1" lengthAdjust="spacingAndGlyphs" fill="#111" font-family="Liberation Serif, Times New Roman, serif">500 nm</text>
<rect x="294" y="99.4" width="121.8" height="75.8" fill="#dedede"/>
<g filter="url(#soft)"><circle cx="351.9" cy="147.8" r="0.99" fill="#2a2a2a" fill-opacity="0.53"/><circle cx="351.6" cy="148.5" r="0.92" fill="#2a2a2a" fill-opacity="0.53"/><circle cx="352.3" cy="150.0" r="0.83" fill="#2a2a2a" fill-opacity="0.53"/><circle cx="320.2" cy="142.9" r="0.80" fill="#2a2a2a" fill-opacity="0.73"/><circle cx="376.6" cy="159.3" r="0.74" fill="#2a2a2a" fill-opacity="0.96"/><circle cx="373.6" cy="114.8" r="1.06" fill="#2a2a2a" fill-opacity="0.68"/><circle cx="373.9" cy="116.4" r="0.85" fill="#2a2a2a" fill-opacity="0.68"/><circle cx="374.2" cy="117.8" r="0.98" fill="#2a2a2a" fill-opacity="0.68"/><circle cx="374.7" cy="118.9" r="1.01" fill="#2a2a2a" fill-opacity="0.68"/><circle cx="341.1" cy="102.7" r="1.06" fill="#2a2a2a" fill-opacity="0.98"/><circle cx="374.5" cy="126.7" r="0.88" fill="#2a2a2a" fill-opacity="0.83"/><circle cx="308.6" cy="117.7" r="0.88" fill="#2a2a2a" fill-opacity="0.73"/><circle cx="354.9" cy="101.7" r="0.98" fill="#2a2a2a" fill-opacity="0.69"/><circle cx="354.8" cy="102.8" r="0.80" fill="#2a2a2a" fill-opacity="0.69"/><circle cx="327.8" cy="132.4" r="0.95" fill="#2a2a2a" fill-opacity="0.78"/><circle cx="356.6" cy="127.6" r="0.87" fill="#2a2a2a" fill-opacity="0.70"/><circle cx="413.4" cy="134.7" r="0.97" fill="#2a2a2a" fill-opacity="0.55"/><circle cx="321.3" cy="145.2" r="1.17" fill="#2a2a2a" fill-opacity="0.95"/><circle cx="317.6" cy="158.7" r="0.76" fill="#2a2a2a" fill-opacity="0.59"/><circle cx="316.7" cy="159.3" r="0.85" fill="#2a2a2a" fill-opacity="0.59"/><circle cx="315.2" cy="159.1" r="0.80" fill="#2a2a2a" fill-opacity="0.59"/><circle cx="370.2" cy="118.4" r="1.12" fill="#2a2a2a" fill-opacity="0.94"/><circle cx="370.2" cy="119.7" r="1.10" fill="#2a2a2a" fill-opacity="0.94"/><circle cx="369.8" cy="121.0" r="0.83" fill="#2a2a2a" fill-opacity="0.94"/><circle cx="362.0" cy="119.9" r="0.76" fill="#2a2a2a" fill-opacity="0.56"/><circle cx="362.0" cy="120.4" r="0.67" fill="#2a2a2a" fill-opacity="0.56"/><circle cx="402.1" cy="157.3" r="0.74" fill="#2a2a2a" fill-opacity="0.64"/><circle cx="402.4" cy="157.8" r="0.71" fill="#2a2a2a" fill-opacity="0.64"/><circle cx="403.1" cy="158.9" r="0.97" fill="#2a2a2a" fill-opacity="0.64"/><circle cx="403.7" cy="160.3" r="0.75" fill="#2a2a2a" fill-opacity="0.64"/><circle cx="327.4" cy="158.9" r="1.04" fill="#2a2a2a" fill-opacity="0.72"/><circle cx="319.9" cy="143.3" r="0.76" fill="#2a2a2a" fill-opacity="0.77"/><circle cx="320.2" cy="144.8" r="0.96" fill="#2a2a2a" fill-opacity="0.77"/><circle cx="321.1" cy="145.9" r="0.84" fill="#2a2a2a" fill-opacity="0.77"/><circle cx="298.6" cy="136.4" r="0.92" fill="#2a2a2a" fill-opacity="0.55"/><circle cx="335.8" cy="117.3" r="0.68" fill="#2a2a2a" fill-opacity="0.97"/><circle cx="335.9" cy="117.7" r="0.84" fill="#2a2a2a" fill-opacity="0.97"/><circle cx="336.1" cy="118.9" r="0.71" fill="#2a2a2a" fill-opacity="0.97"/><circle cx="355.0" cy="152.2" r="0.80" fill="#2a2a2a" fill-opacity="0.88"/><circle cx="355.1" cy="152.6" r="0.68" fill="#2a2a2a" fill-opacity="0.88"/><circle cx="363.3" cy="123.4" r="1.08" fill="#2a2a2a" fill-opacity="0.46"/><circle cx="402.3" cy="147.1" r="0.79" fill="#2a2a2a" fill-opacity="0.71"/><circle cx="311.5" cy="135.8" r="0.89" fill="#2a2a2a" fill-opacity="0.65"/><circle cx="311.1" cy="136.1" r="0.82" fill="#2a2a2a" fill-opacity="0.65"/><circle cx="311.2" cy="137.5" r="0.86" fill="#2a2a2a" fill-opacity="0.65"/><circle cx="310.6" cy="138.4" r="0.71" fill="#2a2a2a" fill-opacity="0.65"/><circle cx="343.7" cy="128.4" r="0.89" fill="#2a2a2a" fill-opacity="0.67"/><circle cx="315.9" cy="115.5" r="0.76" fill="#2a2a2a" fill-opacity="0.98"/><circle cx="315.3" cy="116.1" r="0.77" fill="#2a2a2a" fill-opacity="0.98"/><circle cx="398.8" cy="155.6" r="1.11" fill="#2a2a2a" fill-opacity="0.76"/><circle cx="400.4" cy="156.3" r="0.98" fill="#2a2a2a" fill-opacity="0.76"/><circle cx="297.8" cy="167.4" r="0.75" fill="#2a2a2a" fill-opacity="0.72"/><circle cx="297.7" cy="168.1" r="0.79" fill="#2a2a2a" fill-opacity="0.72"/><circle cx="341.8" cy="130.6" r="0.95" fill="#2a2a2a" fill-opacity="0.84"/><circle cx="341.7" cy="131.5" r="0.79" fill="#2a2a2a" fill-opacity="0.84"/><circle cx="367.9" cy="155.7" r="1.10" fill="#2a2a2a" fill-opacity="0.52"/><circle cx="367.6" cy="156.8" r="0.97" fill="#2a2a2a" fill-opacity="0.52"/><circle cx="405.6" cy="154.0" r="1.03" fill="#2a2a2a" fill-opacity="0.92"/><circle cx="365.8" cy="142.4" r="0.85" fill="#2a2a2a" fill-opacity="0.80"/><circle cx="365.7" cy="143.8" r="1.09" fill="#2a2a2a" fill-opacity="0.80"/><circle cx="366.7" cy="145.1" r="1.08" fill="#2a2a2a" fill-opacity="0.80"/><circle cx="338.4" cy="122.4" r="1.16" fill="#2a2a2a" fill-opacity="0.78"/><circle cx="296.5" cy="117.3" r="0.94" fill="#2a2a2a" fill-opacity="0.85"/><circle cx="385.7" cy="125.5" r="0.89" fill="#2a2a2a" fill-opacity="0.92"/><circle cx="352.6" cy="114.3" r="0.96" fill="#2a2a2a" fill-opacity="0.74"/><circle cx="353.5" cy="115.2" r="0.79" fill="#2a2a2a" fill-opacity="0.74"/><circle cx="336.3" cy="172.8" r="0.62" fill="#2a2a2a" fill-opacity="0.77"/><circle cx="336.0" cy="173.4" r="0.76" fill="#2a2a2a" fill-opacity="0.77"/><circle cx="335.9" cy="174.4" r="0.64" fill="#2a2a2a" fill-opacity="0.77"/><circle cx="316.2" cy="129.4" r="0.80" fill="#2a2a2a" fill-opacity="0.63"/><circle cx="315.8" cy="129.5" r="0.64" fill="#2a2a2a" fill-opacity="0.63"/><circle cx="315.0" cy="130.6" r="0.69" fill="#2a2a2a" fill-opacity="0.63"/><circle cx="353.4" cy="106.6" r="0.76" fill="#2a2a2a" fill-opacity="0.89"/><circle cx="352.9" cy="107.4" r="0.72" fill="#2a2a2a" fill-opacity="0.89"/><circle cx="352.1" cy="126.0" r="0.97" fill="#2a2a2a" fill-opacity="0.86"/><circle cx="351.5" cy="126.4" r="0.87" fill="#2a2a2a" fill-opacity="0.86"/><circle cx="350.0" cy="126.9" r="0.95" fill="#2a2a2a" fill-opacity="0.86"/><circle cx="349.2" cy="128.2" r="0.83" fill="#2a2a2a" fill-opacity="0.86"/><circle cx="352.0" cy="149.9" r="0.71" fill="#2a2a2a" fill-opacity="0.77"/><circle cx="352.4" cy="151.0" r="0.71" fill="#2a2a2a" fill-opacity="0.77"/><circle cx="353.1" cy="152.2" r="0.81" fill="#2a2a2a" fill-opacity="0.77"/><circle cx="367.0" cy="169.3" r="0.77" fill="#2a2a2a" fill-opacity="0.58"/><circle cx="358.3" cy="127.5" r="0.79" fill="#2a2a2a" fill-opacity="0.95"/><circle cx="361.1" cy="158.8" r="0.83" fill="#2a2a2a" fill-opacity="0.74"/><circle cx="308.0" cy="146.0" r="0.79" fill="#2a2a2a" fill-opacity="0.91"/><circle cx="371.4" cy="132.7" r="0.59" fill="#2a2a2a" fill-opacity="0.72"/><circle cx="372.4" cy="133.0" r="0.66" fill="#2a2a2a" fill-opacity="0.72"/><circle cx="372.8" cy="132.4" r="0.61" fill="#2a2a2a" fill-opacity="0.72"/><circle cx="344.7" cy="110.8" r="0.87" fill="#2a2a2a" fill-opacity="0.49"/><circle cx="328.5" cy="122.6" r="0.82" fill="#2a2a2a" fill-opacity="0.60"/><circle cx="328.3" cy="123.3" r="0.67" fill="#2a2a2a" fill-opacity="0.60"/><circle cx="327.8" cy="124.0" r="0.61" fill="#2a2a2a" fill-opacity="0.60"/><circle cx="368.3" cy="110.1" r="1.06" fill="#2a2a2a" fill-opacity="0.74"/><circle cx="367.0" cy="110.4" r="1.08" fill="#2a2a2a" fill-opacity="0.74"/><circle cx="366.1" cy="110.6" r="1.09" fill="#2a2a2a" fill-opacity="0.74"/><circle cx="328.4" cy="154.9" r="0.74" fill="#2a2a2a" fill-opacity="0.54"/><circle cx="328.9" cy="155.3" r="0.73" fill="#2a2a2a" fill-opacity="0.54"/><circle cx="329.7" cy="156.7" r="0.79" fill="#2a2a2a" fill-opacity="0.54"/><circle cx="329.5" cy="157.6" r="0.80" fill="#2a2a2a" fill-opacity="0.54"/><circle cx="313.8" cy="161.3" r="1.14" fill="#2a2a2a" fill-opacity="0.58"/><circle cx="312.4" cy="162.3" r="1.16" fill="#2a2a2a" fill-opacity="0.58"/><circle cx="311.5" cy="162.4" r="0.90" fill="#2a2a2a" fill-opacity="0.58"/><circle cx="309.5" cy="162.7" r="0.94" fill="#2a2a2a" fill-opacity="0.58"/><circle cx="335.4" cy="147.0" r="1.19" fill="#2a2a2a" fill-opacity="0.62"/><circle cx="369.4" cy="161.4" r="1.03" fill="#2a2a2a" fill-opacity="0.72"/><circle cx="316.2" cy="115.4" r="1.01" fill="#2a2a2a" fill-opacity="0.74"/><circle cx="314.4" cy="115.3" r="0.96" fill="#2a2a2a" fill-opacity="0.74"/><circle cx="313.1" cy="115.2" r="0.95" fill="#2a2a2a" fill-opacity="0.74"/><circle cx="316.1" cy="146.5" r="0.86" fill="#2a2a2a" fill-opacity="0.99"/><circle cx="356.9" cy="132.4" r="0.90" fill="#2a2a2a" fill-opacity="0.56"/><circle cx="404.9" cy="148.1" r="0.73" fill="#2a2a2a" fill-opacity="0.53"/><circle cx="404.1" cy="149.1" r="0.95" fill="#2a2a2a" fill-opacity="0.53"/><circle cx="311.8" cy="167.8" r="1.13" fill="#2a2a2a" fill-opacity="0.70"/><circle cx="362.3" cy="117.3" r="1.16" fill="#2a2a2a" fill-opacity="0.98"/><circle cx="355.8" cy="144.1" r="0.93" fill="#2a2a2a" fill-opacity="0.80"/><circle cx="357.0" cy="144.2" r="0.69" fill="#2a2a2a" fill-opacity="0.80"/><circle cx="358.1" cy="144.5" r="0.73" fill="#2a2a2a" fill-opacity="0.80"/></g>
<defs><linearGradient id="v4014" x1="0" y1="0" x2="0" y2="1"><stop offset="0" stop-color="#d05040"/><stop offset="0.2" stop-color="#c83028"/><stop offset="1" stop-color="#b82820"/></linearGradient></defs><path d="M391.2,104.5 Q391.2,102.3 393.4,102.3 L410.0,102.3 Q412.2,102.3 412.2,104.5 L412.2,139.4 Q412.2,142.4 409.2,142.4 L394.2,142.4 Q391.2,142.4 391.2,139.4 Z" fill="#d07058"/><path d="M391.2,104.5 Q391.2,102.3 393.4,102.3 L410.0,102.3 Q412.2,102.3 412.2,104.5 L412.2,112.8 L391.2,112.8 Z" fill="#d4cccc"/><rect x="391.2" y="116" width="21.0" height="1.5" fill="#e0b0a0" fill-opacity="0.5"/><path d="M391.2,123.3 L412.2,123.3 L412.2,139.4 Q412.2,142.4 409.2,142.4 L394.2,142.4 Q391.2,142.4 391.2,139.4 Z" fill="url(#v4014)"/><rect x="410.59999999999997" y="124.3" width="1.2" height="16.1" fill="#fff" fill-opacity="0.12"/>
<rect x="294" y="175.2" width="121.8" height="2.6" fill="#eeeeee"/>
<text x="294.8" y="177.6" font-size="2.8" fill="#555" font-family="Liberation Serif, Times New Roman, serif">JL.DTX.TEM</text>
<text x="297.40" y="112.30" font-size="13.4" fill="#111" font-family="Liberation Serif, Times New Roman, serif" stroke="#111" stroke-width="0.15">G</text>
<rect x="385.1" y="172.0" width="28.7" height="1.4" fill="#111"/>
<text transform="translate(400.00,170.90) scale(1,0.78)" font-size="6.7" font-weight="bold" text-anchor="middle" textLength="21.0" lengthAdjust="spacingAndGlyphs" fill="#111" font-family="Liberation Serif, Times New Roman, serif">500 nm</text>
<rect x="417.6" y="99.4" width="121.0" height="76.0" fill="#e0e0e0"/>
<g filter="url(#soft)"><circle cx="450.0" cy="150.7" r="0.79" fill="#2a2a2a" fill-opacity="0.92"/><circle cx="448.8" cy="151.9" r="0.96" fill="#2a2a2a" fill-opacity="0.92"/><circle cx="501.3" cy="173.9" r="1.12" fill="#2a2a2a" fill-opacity="0.91"/><circle cx="499.8" cy="174.5" r="1.01" fill="#2a2a2a" fill-opacity="0.91"/><circle cx="499.1" cy="175.0" r="0.99" fill="#2a2a2a" fill-opacity="0.91"/><circle cx="461.9" cy="132.2" r="0.86" fill="#2a2a2a" fill-opacity="0.51"/><circle cx="500.8" cy="141.4" r="1.07" fill="#2a2a2a" fill-opacity="0.52"/><circle cx="470.6" cy="113.1" r="0.70" fill="#2a2a2a" fill-opacity="0.74"/><circle cx="471.4" cy="113.5" r="0.77" fill="#2a2a2a" fill-opacity="0.74"/><circle cx="472.1" cy="113.8" r="0.66" fill="#2a2a2a" fill-opacity="0.74"/><circle cx="493.5" cy="134.7" r="0.70" fill="#2a2a2a" fill-opacity="0.68"/><circle cx="445.2" cy="135.9" r="0.99" fill="#2a2a2a" fill-opacity="0.69"/><circle cx="445.0" cy="137.0" r="0.85" fill="#2a2a2a" fill-opacity="0.69"/><circle cx="445.7" cy="137.5" r="1.04" fill="#2a2a2a" fill-opacity="0.69"/><circle cx="445.9" cy="139.1" r="0.80" fill="#2a2a2a" fill-opacity="0.69"/><circle cx="492.1" cy="143.4" r="1.00" fill="#2a2a2a" fill-opacity="0.65"/><circle cx="458.8" cy="122.1" r="0.74" fill="#2a2a2a" fill-opacity="0.83"/><circle cx="459.7" cy="122.8" r="0.74" fill="#2a2a2a" fill-opacity="0.83"/><circle cx="495.7" cy="138.9" r="0.65" fill="#2a2a2a" fill-opacity="0.62"/><circle cx="495.6" cy="139.0" r="0.61" fill="#2a2a2a" fill-opacity="0.62"/><circle cx="494.9" cy="140.2" r="0.66" fill="#2a2a2a" fill-opacity="0.62"/><circle cx="443.1" cy="159.4" r="0.69" fill="#2a2a2a" fill-opacity="0.84"/><circle cx="443.7" cy="159.8" r="0.69" fill="#2a2a2a" fill-opacity="0.84"/><circle cx="452.0" cy="115.7" r="0.78" fill="#2a2a2a" fill-opacity="0.47"/><circle cx="453.1" cy="115.5" r="0.87" fill="#2a2a2a" fill-opacity="0.47"/><circle cx="464.7" cy="104.5" r="0.76" fill="#2a2a2a" fill-opacity="0.97"/><circle cx="465.4" cy="104.7" r="0.71" fill="#2a2a2a" fill-opacity="0.97"/><circle cx="460.8" cy="131.2" r="0.85" fill="#2a2a2a" fill-opacity="0.99"/><circle cx="461.5" cy="132.8" r="1.10" fill="#2a2a2a" fill-opacity="0.99"/><circle cx="462.3" cy="133.9" r="1.03" fill="#2a2a2a" fill-opacity="0.99"/><circle cx="462.4" cy="134.9" r="0.82" fill="#2a2a2a" fill-opacity="0.99"/><circle cx="450.0" cy="161.2" r="0.72" fill="#2a2a2a" fill-opacity="0.58"/><circle cx="447.8" cy="158.0" r="0.80" fill="#2a2a2a" fill-opacity="0.56"/><circle cx="446.5" cy="159.1" r="0.93" fill="#2a2a2a" fill-opacity="0.56"/><circle cx="453.5" cy="171.4" r="0.66" fill="#2a2a2a" fill-opacity="0.50"/><circle cx="454.3" cy="171.7" r="0.75" fill="#2a2a2a" fill-opacity="0.50"/><circle cx="437.7" cy="172.9" r="1.04" fill="#2a2a2a" fill-opacity="0.84"/><circle cx="465.5" cy="128.9" r="0.72" fill="#2a2a2a" fill-opacity="0.53"/><circle cx="467.2" cy="128.9" r="0.85" fill="#2a2a2a" fill-opacity="0.53"/><circle cx="468.2" cy="129.0" r="0.89" fill="#2a2a2a" fill-opacity="0.53"/><circle cx="509.3" cy="136.2" r="0.83" fill="#2a2a2a" fill-opacity="0.70"/><circle cx="483.9" cy="114.3" r="0.65" fill="#2a2a2a" fill-opacity="0.71"/><circle cx="482.5" cy="114.3" r="0.64" fill="#2a2a2a" fill-opacity="0.71"/><circle cx="482.3" cy="114.9" r="0.81" fill="#2a2a2a" fill-opacity="0.71"/><circle cx="480.7" cy="115.3" r="0.86" fill="#2a2a2a" fill-opacity="0.71"/><circle cx="500.9" cy="102.4" r="0.97" fill="#2a2a2a" fill-opacity="0.88"/><circle cx="452.8" cy="145.2" r="0.81" fill="#2a2a2a" fill-opacity="0.85"/><circle cx="454.1" cy="146.3" r="0.99" fill="#2a2a2a" fill-opacity="0.85"/><circle cx="455.3" cy="147.1" r="0.90" fill="#2a2a2a" fill-opacity="0.85"/><circle cx="482.2" cy="173.9" r="0.78" fill="#2a2a2a" fill-opacity="0.73"/><circle cx="481.2" cy="174.0" r="0.74" fill="#2a2a2a" fill-opacity="0.73"/><circle cx="480.2" cy="173.9" r="0.61" fill="#2a2a2a" fill-opacity="0.73"/><circle cx="505.0" cy="144.5" r="0.73" fill="#2a2a2a" fill-opacity="0.80"/><circle cx="479.5" cy="157.8" r="1.14" fill="#2a2a2a" fill-opacity="0.66"/><circle cx="477.7" cy="142.2" r="0.82" fill="#2a2a2a" fill-opacity="0.96"/><circle cx="477.9" cy="142.4" r="0.77" fill="#2a2a2a" fill-opacity="0.96"/><circle cx="478.4" cy="143.8" r="0.85" fill="#2a2a2a" fill-opacity="0.96"/><circle cx="467.9" cy="141.8" r="0.92" fill="#2a2a2a" fill-opacity="0.49"/><circle cx="467.3" cy="142.8" r="0.76" fill="#2a2a2a" fill-opacity="0.49"/><circle cx="493.4" cy="165.2" r="1.07" fill="#2a2a2a" fill-opacity="0.81"/><circle cx="483.9" cy="146.8" r="0.83" fill="#2a2a2a" fill-opacity="1.00"/><circle cx="485.2" cy="147.1" r="0.78" fill="#2a2a2a" fill-opacity="1.00"/><circle cx="435.8" cy="103.5" r="0.84" fill="#2a2a2a" fill-opacity="0.74"/><circle cx="436.4" cy="103.9" r="0.88" fill="#2a2a2a" fill-opacity="0.74"/><circle cx="437.6" cy="105.0" r="0.79" fill="#2a2a2a" fill-opacity="0.74"/><circle cx="438.6" cy="104.9" r="0.90" fill="#2a2a2a" fill-opacity="0.74"/><circle cx="437.7" cy="163.9" r="1.18" fill="#2a2a2a" fill-opacity="0.59"/><circle cx="445.9" cy="122.3" r="0.63" fill="#2a2a2a" fill-opacity="0.69"/><circle cx="445.1" cy="123.1" r="0.55" fill="#2a2a2a" fill-opacity="0.69"/><circle cx="444.5" cy="123.1" r="0.68" fill="#2a2a2a" fill-opacity="0.69"/><circle cx="443.8" cy="123.7" r="0.59" fill="#2a2a2a" fill-opacity="0.69"/><circle cx="419.7" cy="167.6" r="0.85" fill="#2a2a2a" fill-opacity="0.80"/><circle cx="420.6" cy="168.7" r="0.77" fill="#2a2a2a" fill-opacity="0.80"/><circle cx="421.6" cy="169.1" r="0.94" fill="#2a2a2a" fill-opacity="0.80"/><circle cx="529.3" cy="158.9" r="0.94" fill="#2a2a2a" fill-opacity="0.87"/><circle cx="530.3" cy="159.1" r="0.97" fill="#2a2a2a" fill-opacity="0.87"/><circle cx="531.2" cy="159.5" r="0.77" fill="#2a2a2a" fill-opacity="0.87"/><circle cx="531.9" cy="160.9" r="0.92" fill="#2a2a2a" fill-opacity="0.87"/><circle cx="425.3" cy="134.0" r="0.65" fill="#2a2a2a" fill-opacity="0.92"/><circle cx="424.2" cy="134.3" r="0.62" fill="#2a2a2a" fill-opacity="0.92"/><circle cx="423.9" cy="135.5" r="0.54" fill="#2a2a2a" fill-opacity="0.92"/><circle cx="460.2" cy="154.3" r="0.76" fill="#2a2a2a" fill-opacity="0.92"/><circle cx="460.6" cy="155.9" r="0.81" fill="#2a2a2a" fill-opacity="0.92"/><circle cx="468.9" cy="103.3" r="1.05" fill="#2a2a2a" fill-opacity="0.70"/><circle cx="491.4" cy="130.2" r="1.14" fill="#2a2a2a" fill-opacity="0.52"/><circle cx="428.8" cy="172.1" r="0.99" fill="#2a2a2a" fill-opacity="0.70"/><circle cx="479.6" cy="138.0" r="0.73" fill="#2a2a2a" fill-opacity="0.89"/><circle cx="447.1" cy="108.8" r="0.91" fill="#2a2a2a" fill-opacity="0.96"/><circle cx="474.0" cy="103.0" r="1.11" fill="#2a2a2a" fill-opacity="0.56"/><circle cx="478.0" cy="171.7" r="0.77" fill="#2a2a2a" fill-opacity="0.89"/><circle cx="420.7" cy="142.2" r="0.85" fill="#2a2a2a" fill-opacity="0.83"/><circle cx="497.4" cy="136.8" r="0.91" fill="#2a2a2a" fill-opacity="0.59"/><circle cx="498.2" cy="137.4" r="0.92" fill="#2a2a2a" fill-opacity="0.59"/><circle cx="464.0" cy="115.6" r="1.20" fill="#2a2a2a" fill-opacity="0.70"/><circle cx="457.7" cy="133.6" r="1.00" fill="#2a2a2a" fill-opacity="0.87"/><circle cx="530.0" cy="151.3" r="0.85" fill="#2a2a2a" fill-opacity="0.83"/><circle cx="530.0" cy="152.3" r="1.01" fill="#2a2a2a" fill-opacity="0.83"/><circle cx="529.8" cy="153.5" r="0.84" fill="#2a2a2a" fill-opacity="0.83"/><circle cx="498.6" cy="160.6" r="0.76" fill="#2a2a2a" fill-opacity="0.85"/><circle cx="498.7" cy="161.3" r="0.81" fill="#2a2a2a" fill-opacity="0.85"/><circle cx="433.5" cy="124.5" r="0.86" fill="#2a2a2a" fill-opacity="0.46"/><circle cx="434.7" cy="124.8" r="0.96" fill="#2a2a2a" fill-opacity="0.46"/><circle cx="492.3" cy="147.6" r="1.05" fill="#2a2a2a" fill-opacity="0.55"/><circle cx="492.6" cy="148.8" r="1.06" fill="#2a2a2a" fill-opacity="0.55"/><circle cx="492.2" cy="150.5" r="1.07" fill="#2a2a2a" fill-opacity="0.55"/><circle cx="492.8" cy="151.7" r="1.01" fill="#2a2a2a" fill-opacity="0.55"/></g>
<defs><linearGradient id="v5266" x1="0" y1="0" x2="0" y2="1"><stop offset="0" stop-color="#e84030"/><stop offset="0.2" stop-color="#e83026"/><stop offset="1" stop-color="#e02c22"/></linearGradient></defs><path d="M516.2,106.4 Q516.2,104.2 518.4000000000001,104.2 L534.4,104.2 Q536.6,104.2 536.6,106.4 L536.6,139.4 Q536.6,142.4 533.6,142.4 L519.2,142.4 Q516.2,142.4 516.2,139.4 Z" fill="#c0b0b0"/><path d="M516.2,106.4 Q516.2,104.2 518.4000000000001,104.2 L534.4,104.2 Q536.6,104.2 536.6,106.4 L536.6,114.1 L516.2,114.1 Z" fill="#dcdcdc"/><rect x="516.2" y="114.2" width="20.4" height="1.2" fill="#807070" fill-opacity="0.6"/><rect x="516.2" y="118.2" width="20.4" height="2.2" fill="#405070" fill-opacity="0.55"/><path d="M516.2,123.3 L536.6,123.3 L536.6,139.4 Q536.6,142.4 533.6,142.4 L519.2,142.4 Q516.2,142.4 516.2,139.4 Z" fill="url(#v5266)"/><rect x="535.0" y="124.3" width="1.2" height="16.1" fill="#fff" fill-opacity="0.12"/>
<rect x="417.6" y="175.4" width="121.0" height="2.6" fill="#eeeeee"/>
<text x="418.40000000000003" y="177.8" font-size="2.8" fill="#555" font-family="Liberation Serif, Times New Roman, serif">JL.DTX.TEM</text>
<text x="421.00" y="112.30" font-size="13.4" fill="#111" font-family="Liberation Serif, Times New Roman, serif" stroke="#111" stroke-width="0.15">H</text>
<rect x="509.7" y="172.2" width="29.1" height="1.4" fill="#111"/>
<text transform="translate(524.25,170.90) scale(1,0.78)" font-size="6.7" font-weight="bold" text-anchor="middle" textLength="21.1" lengthAdjust="spacingAndGlyphs" fill="#111" font-family="Liberation Serif, Times New Roman, serif">500nm</text>
<text transform="translate(108.40,10.60) scale(1.0,0.84)" font-size="9.8" font-weight="bold" text-anchor="middle" fill="#111" font-family="Liberation Serif, Times New Roman, serif">SeNPs</text>
<text transform="translate(231.20,10.60) scale(1.0,0.84)" font-size="9.8" font-weight="bold" text-anchor="middle" fill="#111" font-family="Liberation Serif, Times New Roman, serif">LBP1-SeNPs</text>
<text transform="translate(353.00,10.60) scale(1.0,0.84)" font-size="9.8" font-weight="bold" text-anchor="middle" fill="#111" font-family="Liberation Serif, Times New Roman, serif">LBP2-SeNPs</text>
<text transform="translate(472.50,10.60) scale(1.0,0.84)" font-size="9.8" font-weight="bold" text-anchor="middle" fill="#111" font-family="Liberation Serif, Times New Roman, serif">LBP3-SeNPs</text>
<text transform="translate(6.50,57.60) scale(1.0,0.84)" font-size="9.8" font-weight="bold" fill="#111" font-family="Liberation Serif, Times New Roman, serif">0 days</text>
<text transform="translate(4.10,141.80) scale(1.0,0.84)" font-size="9.8" font-weight="bold" fill="#111" font-family="Liberation Serif, Times New Roman, serif">30 days</text>
<text x="16.50" y="200.70" font-size="13" fill="#111" font-family="Liberation Serif, Times New Roman, serif" stroke="#111" stroke-width="0.25">I</text>
<line x1="88.4" y1="212.4" x2="88.4" y2="347.4" stroke="#2ad8a0" stroke-width="1.2" stroke-dasharray="2.3,1.7"/>
<line x1="131.4" y1="212.4" x2="131.4" y2="347.4" stroke="#2ad8a0" stroke-width="1.2" stroke-dasharray="2.3,1.7"/>
<line x1="174.4" y1="212.4" x2="174.4" y2="347.4" stroke="#2ad8a0" stroke-width="1.2" stroke-dasharray="2.3,1.7"/>
<line x1="217.5" y1="212.4" x2="217.5" y2="347.4" stroke="#2ad8a0" stroke-width="1.2" stroke-dasharray="2.3,1.7"/>
<line x1="260.6" y1="212.4" x2="260.6" y2="347.4" stroke="#2ad8a0" stroke-width="1.2" stroke-dasharray="2.3,1.7"/>
<rect x="53.90" y="264.03" width="6.6" height="15.57" fill="#0a5c37" stroke="#1e3028" stroke-width="0.35"/>
<rect x="53.90" y="279.60" width="6.6" height="31.74" fill="#0a5c37" stroke="#1e3028" stroke-width="0.35"/>
<line x1="57.20" y1="262.83" x2="57.20" y2="265.23" stroke="#333" stroke-width="0.4"/>
<text x="57.20" y="315.54" font-size="5.1" text-anchor="middle" fill="#222" font-family="Liberation Serif, Times New Roman, serif">b1</text>
<rect x="60.50" y="262.56" width="6.6" height="17.04" fill="#0b8a52" stroke="#1e3028" stroke-width="0.35"/>
<rect x="60.50" y="279.60" width="6.6" height="29.76" fill="#0b8a52" stroke="#1e3028" stroke-width="0.35"/>
<line x1="63.80" y1="261.36" x2="63.80" y2="263.76" stroke="#333" stroke-width="0.4"/>
<text x="63.80" y="313.56" font-size="5.1" text-anchor="middle" fill="#222" font-family="Liberation Serif, Times New Roman, serif">b1</text>
<rect x="67.10" y="264.17" width="6.6" height="15.43" fill="#22cb87" stroke="#1e3028" stroke-width="0.35"/>
<rect x="67.10" y="279.60" width="6.6" height="39.68" fill="#22cb87" stroke="#1e3028" stroke-width="0.35"/>
<line x1="70.40" y1="262.97" x2="70.40" y2="265.37" stroke="#333" stroke-width="0.4"/>
<text x="70.40" y="323.48" font-size="5.1" text-anchor="middle" fill="#222" font-family="Liberation Serif, Times New Roman, serif">a1</text>
<rect x="73.70" y="264.84" width="6.6" height="14.76" fill="#8ae57a" stroke="#1e3028" stroke-width="0.35"/>
<rect x="73.70" y="279.60" width="6.6" height="39.68" fill="#8ae57a" stroke="#1e3028" stroke-width="0.35"/>
<line x1="77.00" y1="263.64" x2="77.00" y2="266.04" stroke="#333" stroke-width="0.4"/>
<text x="77.00" y="323.48" font-size="5.1" text-anchor="middle" fill="#222" font-family="Liberation Serif, Times New Roman, serif">a1</text>
<rect x="96.95" y="251.55" width="6.6" height="28.05" fill="#0a5c37" stroke="#1e3028" stroke-width="0.35"/>
<rect x="96.95" y="279.60" width="6.6" height="34.22" fill="#0a5c37" stroke="#1e3028" stroke-width="0.35"/>
<line x1="100.25" y1="250.35" x2="100.25" y2="252.75" stroke="#333" stroke-width="0.4"/>
<text x="100.25" y="250.25" font-size="5.1" text-anchor="middle" fill="#222" font-family="Liberation Serif, Times New Roman, serif">A2</text>
<text x="100.25" y="318.02" font-size="5.1" text-anchor="middle" fill="#222" font-family="Liberation Serif, Times New Roman, serif">b2</text>
<rect x="103.55" y="267.39" width="6.6" height="12.21" fill="#0b8a52" stroke="#1e3028" stroke-width="0.35"/>
<rect x="103.55" y="279.60" width="6.6" height="21.95" fill="#0b8a52" stroke="#1e3028" stroke-width="0.35"/>
<line x1="106.85" y1="266.19" x2="106.85" y2="268.59" stroke="#333" stroke-width="0.4"/>
<text x="106.85" y="266.09" font-size="5.1" text-anchor="middle" fill="#222" font-family="Liberation Serif, Times New Roman, serif">B2</text>
<text x="106.85" y="305.75" font-size="5.1" text-anchor="middle" fill="#222" font-family="Liberation Serif, Times New Roman, serif">c2</text>
<rect x="110.15" y="267.52" width="6.6" height="12.08" fill="#22cb87" stroke="#1e3028" stroke-width="0.35"/>
<rect x="110.15" y="279.60" width="6.6" height="39.68" fill="#22cb87" stroke="#1e3028" stroke-width="0.35"/>
<line x1="113.45" y1="266.32" x2="113.45" y2="268.72" stroke="#333" stroke-width="0.4"/>
<text x="113.45" y="266.22" font-size="5.1" text-anchor="middle" fill="#222" font-family="Liberation Serif, Times New Roman, serif">B2</text>
<text x="113.45" y="323.48" font-size="5.1" text-anchor="middle" fill="#222" font-family="Liberation Serif, Times New Roman, serif">a2</text>
<rect x="116.75" y="266.85" width="6.6" height="12.75" fill="#8ae57a" stroke="#1e3028" stroke-width="0.35"/>
<rect x="116.75" y="279.60" width="6.6" height="35.09" fill="#8ae57a" stroke="#1e3028" stroke-width="0.35"/>
<line x1="120.05" y1="265.65" x2="120.05" y2="268.05" stroke="#333" stroke-width="0.4"/>
<text x="120.05" y="265.55" font-size="5.1" text-anchor="middle" fill="#222" font-family="Liberation Serif, Times New Roman, serif">B2</text>
<text x="120.05" y="318.89" font-size="5.1" text-anchor="middle" fill="#222" font-family="Liberation Serif, Times New Roman, serif">b2</text>
<rect x="140.00" y="239.88" width="6.6" height="39.72" fill="#0a5c37" stroke="#1e3028" stroke-width="0.35"/>
<rect x="140.00" y="279.60" width="6.6" height="41.79" fill="#0a5c37" stroke="#1e3028" stroke-width="0.35"/>
<line x1="143.30" y1="238.68" x2="143.30" y2="241.08" stroke="#333" stroke-width="0.4"/>
<text x="143.30" y="238.58" font-size="5.1" text-anchor="middle" fill="#222" font-family="Liberation Serif, Times New Roman, serif">A3</text>
<text x="143.30" y="325.59" font-size="5.1" text-anchor="middle" fill="#222" font-family="Liberation Serif, Times New Roman, serif">a3</text>
<rect x="146.60" y="267.12" width="6.6" height="12.48" fill="#0b8a52" stroke="#1e3028" stroke-width="0.35"/>
<rect x="146.60" y="279.60" width="6.6" height="22.94" fill="#0b8a52" stroke="#1e3028" stroke-width="0.35"/>
<line x1="149.90" y1="265.92" x2="149.90" y2="268.32" stroke="#333" stroke-width="0.4"/>
<text x="149.90" y="265.82" font-size="5.1" text-anchor="middle" fill="#222" font-family="Liberation Serif, Times New Roman, serif">B3</text>
<text x="149.90" y="306.74" font-size="5.1" text-anchor="middle" fill="#222" font-family="Liberation Serif, Times New Roman, serif">b3</text>
<rect x="153.20" y="264.84" width="6.6" height="14.76" fill="#22cb87" stroke="#1e3028" stroke-width="0.35"/>
<rect x="153.20" y="279.60" width="6.6" height="44.02" fill="#22cb87" stroke="#1e3028" stroke-width="0.35"/>
<line x1="156.50" y1="263.64" x2="156.50" y2="266.04" stroke="#333" stroke-width="0.4"/>
<text x="156.50" y="263.54" font-size="5.1" text-anchor="middle" fill="#222" font-family="Liberation Serif, Times New Roman, serif">B3</text>
<text x="156.50" y="327.82" font-size="5.1" text-anchor="middle" fill="#222" font-family="Liberation Serif, Times New Roman, serif">a3</text>
<rect x="159.80" y="266.85" width="6.6" height="12.75" fill="#8ae57a" stroke="#1e3028" stroke-width="0.35"/>
<rect x="159.80" y="279.60" width="6.6" height="40.05" fill="#8ae57a" stroke="#1e3028" stroke-width="0.35"/>
<line x1="163.10" y1="265.65" x2="163.10" y2="268.05" stroke="#333" stroke-width="0.4"/>
<text x="163.10" y="265.55" font-size="5.1" text-anchor="middle" fill="#222" font-family="Liberation Serif, Times New Roman, serif">B3</text>
<text x="163.10" y="323.85" font-size="5.1" text-anchor="middle" fill="#222" font-family="Liberation Serif, Times New Roman, serif">a3</text>
<rect x="183.05" y="231.96" width="6.6" height="47.64" fill="#0a5c37" stroke="#1e3028" stroke-width="0.35"/>
<rect x="183.05" y="279.60" width="6.6" height="52.08" fill="#0a5c37" stroke="#1e3028" stroke-width="0.35"/>
<line x1="186.35" y1="230.76" x2="186.35" y2="233.16" stroke="#333" stroke-width="0.4"/>
<text x="186.35" y="230.66" font-size="5.1" text-anchor="middle" fill="#222" font-family="Liberation Serif, Times New Roman, serif">A4</text>
<text x="186.35" y="335.88" font-size="5.1" text-anchor="middle" fill="#222" font-family="Liberation Serif, Times New Roman, serif">a4</text>
<rect x="189.65" y="266.72" width="6.6" height="12.88" fill="#0b8a52" stroke="#1e3028" stroke-width="0.35"/>
<rect x="189.65" y="279.60" width="6.6" height="24.80" fill="#0b8a52" stroke="#1e3028" stroke-width="0.35"/>
<line x1="192.95" y1="265.52" x2="192.95" y2="267.92" stroke="#333" stroke-width="0.4"/>
<text x="192.95" y="265.42" font-size="5.1" text-anchor="middle" fill="#222" font-family="Liberation Serif, Times New Roman, serif">C4</text>
<text x="192.95" y="308.60" font-size="5.1" text-anchor="middle" fill="#222" font-family="Liberation Serif, Times New Roman, serif">c4</text>
<rect x="196.25" y="263.50" width="6.6" height="16.10" fill="#22cb87" stroke="#1e3028" stroke-width="0.35"/>
<rect x="196.25" y="279.60" width="6.6" height="45.88" fill="#22cb87" stroke="#1e3028" stroke-width="0.35"/>
<line x1="199.55" y1="262.30" x2="199.55" y2="264.70" stroke="#333" stroke-width="0.4"/>
<text x="199.55" y="262.20" font-size="5.1" text-anchor="middle" fill="#222" font-family="Liberation Serif, Times New Roman, serif">B4</text>
<text x="199.55" y="329.68" font-size="5.1" text-anchor="middle" fill="#222" font-family="Liberation Serif, Times New Roman, serif">b4</text>
<rect x="202.85" y="263.50" width="6.6" height="16.10" fill="#8ae57a" stroke="#1e3028" stroke-width="0.35"/>
<rect x="202.85" y="279.60" width="6.6" height="44.64" fill="#8ae57a" stroke="#1e3028" stroke-width="0.35"/>
<line x1="206.15" y1="262.30" x2="206.15" y2="264.70" stroke="#333" stroke-width="0.4"/>
<text x="206.15" y="262.20" font-size="5.1" text-anchor="middle" fill="#222" font-family="Liberation Serif, Times New Roman, serif">B4</text>
<text x="206.15" y="328.44" font-size="5.1" text-anchor="middle" fill="#222" font-family="Liberation Serif, Times New Roman, serif">b4</text>
<rect x="226.10" y="222.03" width="6.6" height="57.57" fill="#0a5c37" stroke="#1e3028" stroke-width="0.35"/>
<rect x="226.10" y="279.60" width="6.6" height="52.08" fill="#0a5c37" stroke="#1e3028" stroke-width="0.35"/>
<line x1="229.40" y1="220.83" x2="229.40" y2="223.23" stroke="#333" stroke-width="0.4"/>
<text x="229.40" y="220.73" font-size="5.1" text-anchor="middle" fill="#222" font-family="Liberation Serif, Times New Roman, serif">A5</text>
<text x="229.40" y="335.88" font-size="5.1" text-anchor="middle" fill="#222" font-family="Liberation Serif, Times New Roman, serif">a5</text>
<rect x="232.70" y="267.12" width="6.6" height="12.48" fill="#0b8a52" stroke="#1e3028" stroke-width="0.35"/>
<rect x="232.70" y="279.60" width="6.6" height="28.15" fill="#0b8a52" stroke="#1e3028" stroke-width="0.35"/>
<line x1="236.00" y1="265.92" x2="236.00" y2="268.32" stroke="#333" stroke-width="0.4"/>
<text x="236.00" y="265.82" font-size="5.1" text-anchor="middle" fill="#222" font-family="Liberation Serif, Times New Roman, serif">D5</text>
<text x="236.00" y="311.95" font-size="5.1" text-anchor="middle" fill="#222" font-family="Liberation Serif, Times New Roman, serif">c5</text>
<rect x="239.30" y="256.92" width="6.6" height="22.68" fill="#22cb87" stroke="#1e3028" stroke-width="0.35"/>
<rect x="239.30" y="279.60" width="6.6" height="46.50" fill="#22cb87" stroke="#1e3028" stroke-width="0.35"/>
<line x1="242.60" y1="255.72" x2="242.60" y2="258.12" stroke="#333" stroke-width="0.4"/>
<text x="242.60" y="255.62" font-size="5.1" text-anchor="middle" fill="#222" font-family="Liberation Serif, Times New Roman, serif">B5</text>
<text x="242.60" y="330.30" font-size="5.1" text-anchor="middle" fill="#222" font-family="Liberation Serif, Times New Roman, serif">b5</text>
<rect x="245.90" y="261.62" width="6.6" height="17.98" fill="#8ae57a" stroke="#1e3028" stroke-width="0.35"/>
<rect x="245.90" y="279.60" width="6.6" height="45.88" fill="#8ae57a" stroke="#1e3028" stroke-width="0.35"/>
<line x1="249.20" y1="260.42" x2="249.20" y2="262.82" stroke="#333" stroke-width="0.4"/>
<text x="249.20" y="260.32" font-size="5.1" text-anchor="middle" fill="#222" font-family="Liberation Serif, Times New Roman, serif">C5</text>
<text x="249.20" y="329.68" font-size="5.1" text-anchor="middle" fill="#222" font-family="Liberation Serif, Times New Roman, serif">b5</text>
<rect x="269.15" y="220.55" width="6.6" height="59.05" fill="#0a5c37" stroke="#1e3028" stroke-width="0.35"/>
<rect x="269.15" y="279.60" width="6.6" height="58.28" fill="#0a5c37" stroke="#1e3028" stroke-width="0.35"/>
<line x1="272.45" y1="219.35" x2="272.45" y2="221.75" stroke="#333" stroke-width="0.4"/>
<text x="272.45" y="219.25" font-size="5.1" text-anchor="middle" fill="#222" font-family="Liberation Serif, Times New Roman, serif">A6</text>
<text x="272.45" y="342.08" font-size="5.1" text-anchor="middle" fill="#222" font-family="Liberation Serif, Times New Roman, serif">a6</text>
<rect x="275.75" y="263.23" width="6.6" height="16.37" fill="#0b8a52" stroke="#1e3028" stroke-width="0.35"/>
<rect x="275.75" y="279.60" width="6.6" height="32.86" fill="#0b8a52" stroke="#1e3028" stroke-width="0.35"/>
<line x1="279.05" y1="262.03" x2="279.05" y2="264.43" stroke="#333" stroke-width="0.4"/>
<text x="279.05" y="261.93" font-size="5.1" text-anchor="middle" fill="#222" font-family="Liberation Serif, Times New Roman, serif">C6</text>
<text x="279.05" y="316.66" font-size="5.1" text-anchor="middle" fill="#222" font-family="Liberation Serif, Times New Roman, serif">c6</text>
<rect x="282.35" y="253.83" width="6.6" height="25.77" fill="#22cb87" stroke="#1e3028" stroke-width="0.35"/>
<rect x="282.35" y="279.60" width="6.6" height="47.12" fill="#22cb87" stroke="#1e3028" stroke-width="0.35"/>
<line x1="285.65" y1="252.63" x2="285.65" y2="255.03" stroke="#333" stroke-width="0.4"/>
<text x="285.65" y="252.53" font-size="5.1" text-anchor="middle" fill="#222" font-family="Liberation Serif, Times New Roman, serif">B6</text>
<text x="285.65" y="330.92" font-size="5.1" text-anchor="middle" fill="#222" font-family="Liberation Serif, Times New Roman, serif">b6</text>
<rect x="288.95" y="255.85" width="6.6" height="23.75" fill="#8ae57a" stroke="#1e3028" stroke-width="0.35"/>
<rect x="288.95" y="279.60" width="6.6" height="45.88" fill="#8ae57a" stroke="#1e3028" stroke-width="0.35"/>
<line x1="292.25" y1="254.65" x2="292.25" y2="257.05" stroke="#333" stroke-width="0.4"/>
<text x="292.25" y="254.55" font-size="5.1" text-anchor="middle" fill="#222" font-family="Liberation Serif, Times New Roman, serif">B6</text>
<text x="292.25" y="329.68" font-size="5.1" text-anchor="middle" fill="#222" font-family="Liberation Serif, Times New Roman, serif">b6</text>
<line x1="45.6" y1="279.6" x2="304.8" y2="279.6" stroke="#707070" stroke-width="1.3"/>
<rect x="45.6" y="212.4" width="259.2" height="135.0" fill="none" stroke="#5a5a5a" stroke-width="1.1"/>
<line x1="43.4" y1="279.60" x2="45.6" y2="279.60" stroke="#555" stroke-width="0.7"/>
<text transform="translate(41.00,282.20) scale(1.0,0.88)" font-size="8.4" text-anchor="end" fill="#1a1a1a" font-family="Liberation Serif, Times New Roman, serif" stroke="#1a1a1a" stroke-width="0.15">0.0</text>
<line x1="43.4" y1="266.18" x2="45.6" y2="266.18" stroke="#555" stroke-width="0.7"/>
<text transform="translate(41.00,268.78) scale(1.0,0.88)" font-size="8.4" text-anchor="end" fill="#1a1a1a" font-family="Liberation Serif, Times New Roman, serif" stroke="#1a1a1a" stroke-width="0.15">100</text>
<line x1="43.4" y1="252.76" x2="45.6" y2="252.76" stroke="#555" stroke-width="0.7"/>
<text transform="translate(41.00,255.36) scale(1.0,0.88)" font-size="8.4" text-anchor="end" fill="#1a1a1a" font-family="Liberation Serif, Times New Roman, serif" stroke="#1a1a1a" stroke-width="0.15">200</text>
<line x1="43.4" y1="239.34" x2="45.6" y2="239.34" stroke="#555" stroke-width="0.7"/>
<text transform="translate(41.00,241.94) scale(1.0,0.88)" font-size="8.4" text-anchor="end" fill="#1a1a1a" font-family="Liberation Serif, Times New Roman, serif" stroke="#1a1a1a" stroke-width="0.15">300</text>
<line x1="43.4" y1="225.92" x2="45.6" y2="225.92" stroke="#555" stroke-width="0.7"/>
<text transform="translate(41.00,228.52) scale(1.0,0.88)" font-size="8.4" text-anchor="end" fill="#1a1a1a" font-family="Liberation Serif, Times New Roman, serif" stroke="#1a1a1a" stroke-width="0.15">400</text>
<line x1="43.4" y1="212.50" x2="45.6" y2="212.50" stroke="#555" stroke-width="0.7"/>
<text transform="translate(41.00,215.10) scale(1.0,0.88)" font-size="8.4" text-anchor="end" fill="#1a1a1a" font-family="Liberation Serif, Times New Roman, serif" stroke="#1a1a1a" stroke-width="0.15">500</text>
<line x1="44.4" y1="272.89" x2="45.6" y2="272.89" stroke="#555" stroke-width="0.5"/>
<line x1="44.4" y1="259.47" x2="45.6" y2="259.47" stroke="#555" stroke-width="0.5"/>
<line x1="44.4" y1="246.05" x2="45.6" y2="246.05" stroke="#555" stroke-width="0.5"/>
<line x1="44.4" y1="232.63" x2="45.6" y2="232.63" stroke="#555" stroke-width="0.5"/>
<line x1="44.4" y1="219.21" x2="45.6" y2="219.21" stroke="#555" stroke-width="0.5"/>
<line x1="43.4" y1="292.00" x2="45.6" y2="292.00" stroke="#555" stroke-width="0.7"/>
<text transform="translate(41.00,294.60) scale(1.0,0.88)" font-size="8.4" text-anchor="end" fill="#1a1a1a" font-family="Liberation Serif, Times New Roman, serif" stroke="#1a1a1a" stroke-width="0.15">0.1</text>
<line x1="44.4" y1="285.80" x2="45.6" y2="285.80" stroke="#555" stroke-width="0.5"/>
<line x1="43.4" y1="304.40" x2="45.6" y2="304.40" stroke="#555" stroke-width="0.7"/>
<text transform="translate(41.00,307.00) scale(1.0,0.88)" font-size="8.4" text-anchor="end" fill="#1a1a1a" font-family="Liberation Serif, Times New Roman, serif" stroke="#1a1a1a" stroke-width="0.15">0.2</text>
<line x1="44.4" y1="298.20" x2="45.6" y2="298.20" stroke="#555" stroke-width="0.5"/>
<line x1="43.4" y1="316.80" x2="45.6" y2="316.80" stroke="#555" stroke-width="0.7"/>
<text transform="translate(41.00,319.40) scale(1.0,0.88)" font-size="8.4" text-anchor="end" fill="#1a1a1a" font-family="Liberation Serif, Times New Roman, serif" stroke="#1a1a1a" stroke-width="0.15">0.3</text>
<line x1="44.4" y1="310.60" x2="45.6" y2="310.60" stroke="#555" stroke-width="0.5"/>
<line x1="43.4" y1="329.20" x2="45.6" y2="329.20" stroke="#555" stroke-width="0.7"/>
<text transform="translate(41.00,331.80) scale(1.0,0.88)" font-size="8.4" text-anchor="end" fill="#1a1a1a" font-family="Liberation Serif, Times New Roman, serif" stroke="#1a1a1a" stroke-width="0.15">0.4</text>
<line x1="44.4" y1="323.00" x2="45.6" y2="323.00" stroke="#555" stroke-width="0.5"/>
<line x1="43.4" y1="341.60" x2="45.6" y2="341.60" stroke="#555" stroke-width="0.7"/>
<text transform="translate(41.00,344.20) scale(1.0,0.88)" font-size="8.4" text-anchor="end" fill="#1a1a1a" font-family="Liberation Serif, Times New Roman, serif" stroke="#1a1a1a" stroke-width="0.15">0.5</text>
<line x1="44.4" y1="335.40" x2="45.6" y2="335.40" stroke="#555" stroke-width="0.5"/>
<line x1="67.10" y1="347.4" x2="67.10" y2="349.59999999999997" stroke="#555" stroke-width="0.7"/>
<text transform="translate(67.10,359.80) scale(1.0,0.88)" font-size="8.4" text-anchor="middle" fill="#1a1a1a" font-family="Liberation Serif, Times New Roman, serif" stroke="#1a1a1a" stroke-width="0.15">0</text>
<line x1="110.15" y1="347.4" x2="110.15" y2="349.59999999999997" stroke="#555" stroke-width="0.7"/>
<text transform="translate(110.15,359.80) scale(1.0,0.88)" font-size="8.4" text-anchor="middle" fill="#1a1a1a" font-family="Liberation Serif, Times New Roman, serif" stroke="#1a1a1a" stroke-width="0.15">7</text>
<line x1="153.20" y1="347.4" x2="153.20" y2="349.59999999999997" stroke="#555" stroke-width="0.7"/>
<text transform="translate(153.20,359.80) scale(1.0,0.88)" font-size="8.4" text-anchor="middle" fill="#1a1a1a" font-family="Liberation Serif, Times New Roman, serif" stroke="#1a1a1a" stroke-width="0.15">14</text>
<line x1="196.25" y1="347.4" x2="196.25" y2="349.59999999999997" stroke="#555" stroke-width="0.7"/>
<text transform="translate(196.25,359.80) scale(1.0,0.88)" font-size="8.4" text-anchor="middle" fill="#1a1a1a" font-family="Liberation Serif, Times New Roman, serif" stroke="#1a1a1a" stroke-width="0.15">21</text>
<line x1="239.30" y1="347.4" x2="239.30" y2="349.59999999999997" stroke="#555" stroke-width="0.7"/>
<text transform="translate(239.30,359.80) scale(1.0,0.88)" font-size="8.4" text-anchor="middle" fill="#1a1a1a" font-family="Liberation Serif, Times New Roman, serif" stroke="#1a1a1a" stroke-width="0.15">28</text>
<line x1="282.35" y1="347.4" x2="282.35" y2="349.59999999999997" stroke="#555" stroke-width="0.7"/>
<text transform="translate(282.35,359.80) scale(1.0,0.88)" font-size="8.4" text-anchor="middle" fill="#1a1a1a" font-family="Liberation Serif, Times New Roman, serif" stroke="#1a1a1a" stroke-width="0.15">35</text>
<text transform="translate(175.00,372.70) scale(1.04,0.92)" font-size="12" text-anchor="middle" fill="#1a1a1a" font-family="Liberation Serif, Times New Roman, serif" stroke="#1a1a1a" stroke-width="0.15">Time (day)</text>
<text transform="translate(23.3,246.5) rotate(-90) scale(0.855,1)" font-size="12.2" text-anchor="middle" fill="#1a1a1a" font-family="Liberation Serif, Times New Roman, serif" stroke="#1a1a1a" stroke-width="0.12">Particle size (nm)</text>
<text transform="translate(26.3,314.2) rotate(-90) scale(0.84,1)" font-size="12.4" text-anchor="middle" fill="#1a1a1a" font-family="Liberation Serif, Times New Roman, serif" stroke="#1a1a1a" stroke-width="0.12">PDI</text>
<rect x="47.2" y="213.30" width="13.6" height="4.8" fill="#0a5c37" stroke="#444" stroke-width="0.3"/>
<text x="62.60" y="217.60" font-size="6.0" fill="#2a2a2a" font-family="Liberation Serif, Times New Roman, serif" stroke="#2a2a2a" stroke-width="0.08">SeNPs</text>
<rect x="47.2" y="219.92" width="13.6" height="4.8" fill="#0b8a52" stroke="#444" stroke-width="0.3"/>
<text x="62.60" y="224.22" font-size="6.0" fill="#2a2a2a" font-family="Liberation Serif, Times New Roman, serif" stroke="#2a2a2a" stroke-width="0.08">LBP1-SeNPs</text>
<rect x="47.2" y="226.54" width="13.6" height="4.8" fill="#22cb87" stroke="#444" stroke-width="0.3"/>
<text x="62.60" y="230.84" font-size="6.0" fill="#2a2a2a" font-family="Liberation Serif, Times New Roman, serif" stroke="#2a2a2a" stroke-width="0.08">LBP2-SeNPs</text>
<rect x="47.2" y="233.16" width="13.6" height="4.8" fill="#8ae57a" stroke="#444" stroke-width="0.3"/>
<text x="62.60" y="237.46" font-size="6.0" fill="#2a2a2a" font-family="Liberation Serif, Times New Roman, serif" stroke="#2a2a2a" stroke-width="0.08">LBP3-SeNPs</text>
<text x="334.8" y="200.8" font-size="12.5" font-weight="bold" fill="#111" font-family="Liberation Serif, Times New Roman, serif">J</text>
<polyline points="371.60,285.73 401.18,283.45 430.75,262.96 460.33,237.92 489.90,235.64 519.48,219.71" fill="none" stroke="#ff4646" stroke-width="1.1"/>
<circle cx="371.60" cy="285.73" r="1.9" fill="#ff4646"/>
<circle cx="401.18" cy="283.45" r="1.9" fill="#ff4646"/>
<circle cx="430.75" cy="262.96" r="1.9" fill="#ff4646"/>
<circle cx="460.33" cy="237.92" r="1.9" fill="#ff4646"/>
<circle cx="489.90" cy="235.64" r="1.9" fill="#ff4646"/>
<circle cx="519.48" cy="219.71" r="1.9" fill="#ff4646"/>
<polyline points="371.60,326.71 401.18,331.26 430.75,322.16 460.33,326.71 489.90,278.90 519.48,283.45" fill="none" stroke="#f6b72c" stroke-width="1.1"/>
<circle cx="371.60" cy="326.71" r="1.9" fill="#f6b72c"/>
<circle cx="401.18" cy="331.26" r="1.9" fill="#f6b72c"/>
<circle cx="430.75" cy="322.16" r="1.9" fill="#f6b72c"/>
<circle cx="460.33" cy="326.71" r="1.9" fill="#f6b72c"/>
<circle cx="489.90" cy="278.90" r="1.9" fill="#f6b72c"/>
<circle cx="519.48" cy="283.45" r="1.9" fill="#f6b72c"/>
<polyline points="371.60,297.11 401.18,292.56 430.75,285.73 460.33,269.79 489.90,258.41 519.48,262.96" fill="none" stroke="#2b7a56" stroke-width="1.1"/>
<path d="M371.60,295.02 L373.50,298.63 L369.70,298.63 Z" fill="#2b7a56"/>
<path d="M401.18,290.47 L403.07,294.08 L399.28,294.08 Z" fill="#2b7a56"/>
<path d="M430.75,283.64 L432.65,287.25 L428.85,287.25 Z" fill="#2b7a56"/>
<path d="M460.33,267.70 L462.23,271.31 L458.43,271.31 Z" fill="#2b7a56"/>
<path d="M489.90,256.32 L491.80,259.93 L488.00,259.93 Z" fill="#2b7a56"/>
<path d="M519.48,260.87 L521.38,264.48 L517.58,264.48 Z" fill="#2b7a56"/>
<polyline points="371.60,301.67 401.18,310.77 430.75,288.01 460.33,262.96 489.90,251.58 519.48,247.03" fill="none" stroke="#9c64aa" stroke-width="1.1"/>
<path d="M371.60,303.76 L373.50,300.15 L369.70,300.15 Z" fill="#9c64aa"/>
<path d="M401.18,312.86 L403.07,309.25 L399.28,309.25 Z" fill="#9c64aa"/>
<path d="M430.75,290.10 L432.65,286.49 L428.85,286.49 Z" fill="#9c64aa"/>
<path d="M460.33,265.05 L462.23,261.44 L458.43,261.44 Z" fill="#9c64aa"/>
<path d="M489.90,253.67 L491.80,250.06 L488.00,250.06 Z" fill="#9c64aa"/>
<path d="M519.48,249.12 L521.38,245.51 L517.58,245.51 Z" fill="#9c64aa"/>
<rect x="371.6" y="210.6" width="169.0" height="136.6" fill="none" stroke="#858585" stroke-width="1.0"/>
<line x1="371.6" y1="347.2" x2="540.6" y2="347.2" stroke="#505050" stroke-width="1.1"/>
<line x1="371.6" y1="210.6" x2="371.6" y2="347.2" stroke="#8a8a8a" stroke-width="1.4"/>
<line x1="369.40000000000003" y1="335.82" x2="371.6" y2="335.82" stroke="#555" stroke-width="0.7"/>
<text transform="translate(367.30,338.52) scale(1.0,0.87)" font-size="9.1" text-anchor="end" fill="#1a1a1a" font-family="Liberation Serif, Times New Roman, serif" stroke="#1a1a1a" stroke-width="0.18">-60</text>
<line x1="369.40000000000003" y1="313.05" x2="371.6" y2="313.05" stroke="#555" stroke-width="0.7"/>
<text transform="translate(367.30,315.75) scale(1.0,0.87)" font-size="9.1" text-anchor="end" fill="#1a1a1a" font-family="Liberation Serif, Times New Roman, serif" stroke="#1a1a1a" stroke-width="0.18">-50</text>
<line x1="369.40000000000003" y1="290.28" x2="371.6" y2="290.28" stroke="#555" stroke-width="0.7"/>
<text transform="translate(367.30,292.98) scale(1.0,0.87)" font-size="9.1" text-anchor="end" fill="#1a1a1a" font-family="Liberation Serif, Times New Roman, serif" stroke="#1a1a1a" stroke-width="0.18">-40</text>
<line x1="369.40000000000003" y1="267.52" x2="371.6" y2="267.52" stroke="#555" stroke-width="0.7"/>
<text transform="translate(367.30,270.22) scale(1.0,0.87)" font-size="9.1" text-anchor="end" fill="#1a1a1a" font-family="Liberation Serif, Times New Roman, serif" stroke="#1a1a1a" stroke-width="0.18">-30</text>
<line x1="369.40000000000003" y1="244.75" x2="371.6" y2="244.75" stroke="#555" stroke-width="0.7"/>
<text transform="translate(367.30,247.45) scale(1.0,0.87)" font-size="9.1" text-anchor="end" fill="#1a1a1a" font-family="Liberation Serif, Times New Roman, serif" stroke="#1a1a1a" stroke-width="0.18">-20</text>
<line x1="369.40000000000003" y1="221.98" x2="371.6" y2="221.98" stroke="#555" stroke-width="0.7"/>
<text transform="translate(367.30,224.68) scale(1.0,0.87)" font-size="9.1" text-anchor="end" fill="#1a1a1a" font-family="Liberation Serif, Times New Roman, serif" stroke="#1a1a1a" stroke-width="0.18">-10</text>
<line x1="370.40000000000003" y1="347.20" x2="371.6" y2="347.20" stroke="#555" stroke-width="0.5"/>
<line x1="370.40000000000003" y1="324.43" x2="371.6" y2="324.43" stroke="#555" stroke-width="0.5"/>
<line x1="370.40000000000003" y1="301.67" x2="371.6" y2="301.67" stroke="#555" stroke-width="0.5"/>
<line x1="370.40000000000003" y1="278.90" x2="371.6" y2="278.90" stroke="#555" stroke-width="0.5"/>
<line x1="370.40000000000003" y1="256.13" x2="371.6" y2="256.13" stroke="#555" stroke-width="0.5"/>
<line x1="370.40000000000003" y1="233.37" x2="371.6" y2="233.37" stroke="#555" stroke-width="0.5"/>
<line x1="371.60" y1="347.2" x2="371.60" y2="349.4" stroke="#555" stroke-width="0.7"/>
<text transform="translate(371.90,357.60) scale(1.05,0.87)" font-size="9.1" text-anchor="middle" fill="#1a1a1a" font-family="Liberation Serif, Times New Roman, serif" stroke="#1a1a1a" stroke-width="0.18">0</text>
<line x1="382.16" y1="347.2" x2="382.16" y2="348.4" stroke="#555" stroke-width="0.5"/>
<line x1="392.73" y1="347.2" x2="392.73" y2="349.4" stroke="#555" stroke-width="0.7"/>
<text transform="translate(393.03,357.60) scale(1.05,0.87)" font-size="9.1" text-anchor="middle" fill="#1a1a1a" font-family="Liberation Serif, Times New Roman, serif" stroke="#1a1a1a" stroke-width="0.18">5</text>
<line x1="403.29" y1="347.2" x2="403.29" y2="348.4" stroke="#555" stroke-width="0.5"/>
<line x1="413.85" y1="347.2" x2="413.85" y2="349.4" stroke="#555" stroke-width="0.7"/>
<text transform="translate(414.15,357.60) scale(1.05,0.87)" font-size="9.1" text-anchor="middle" fill="#1a1a1a" font-family="Liberation Serif, Times New Roman, serif" stroke="#1a1a1a" stroke-width="0.18">10</text>
<line x1="424.41" y1="347.2" x2="424.41" y2="348.4" stroke="#555" stroke-width="0.5"/>
<line x1="434.98" y1="347.2" x2="434.98" y2="349.4" stroke="#555" stroke-width="0.7"/>
<text transform="translate(435.28,357.60) scale(1.05,0.87)" font-size="9.1" text-anchor="middle" fill="#1a1a1a" font-family="Liberation Serif, Times New Roman, serif" stroke="#1a1a1a" stroke-width="0.18">15</text>
<line x1="445.54" y1="347.2" x2="445.54" y2="348.4" stroke="#555" stroke-width="0.5"/>
<line x1="456.10" y1="347.2" x2="456.10" y2="349.4" stroke="#555" stroke-width="0.7"/>
<text transform="translate(456.40,357.60) scale(1.05,0.87)" font-size="9.1" text-anchor="middle" fill="#1a1a1a" font-family="Liberation Serif, Times New Roman, serif" stroke="#1a1a1a" stroke-width="0.18">20</text>
<line x1="466.66" y1="347.2" x2="466.66" y2="348.4" stroke="#555" stroke-width="0.5"/>
<line x1="477.23" y1="347.2" x2="477.23" y2="349.4" stroke="#555" stroke-width="0.7"/>
<text transform="translate(477.53,357.60) scale(1.05,0.87)" font-size="9.1" text-anchor="middle" fill="#1a1a1a" font-family="Liberation Serif, Times New Roman, serif" stroke="#1a1a1a" stroke-width="0.18">25</text>
<line x1="487.79" y1="347.2" x2="487.79" y2="348.4" stroke="#555" stroke-width="0.5"/>
<line x1="498.35" y1="347.2" x2="498.35" y2="349.4" stroke="#555" stroke-width="0.7"/>
<text transform="translate(498.65,357.60) scale(1.05,0.87)" font-size="9.1" text-anchor="middle" fill="#1a1a1a" font-family="Liberation Serif, Times New Roman, serif" stroke="#1a1a1a" stroke-width="0.18">30</text>
<line x1="508.91" y1="347.2" x2="508.91" y2="348.4" stroke="#555" stroke-width="0.5"/>
<line x1="519.48" y1="347.2" x2="519.48" y2="349.4" stroke="#555" stroke-width="0.7"/>
<text transform="translate(519.77,357.60) scale(1.05,0.87)" font-size="9.1" text-anchor="middle" fill="#1a1a1a" font-family="Liberation Serif, Times New Roman, serif" stroke="#1a1a1a" stroke-width="0.18">35</text>
<line x1="530.04" y1="347.2" x2="530.04" y2="348.4" stroke="#555" stroke-width="0.5"/>
<line x1="540.60" y1="347.2" x2="540.60" y2="349.4" stroke="#555" stroke-width="0.7"/>
<text transform="translate(540.90,357.60) scale(1.05,0.87)" font-size="9.1" text-anchor="middle" fill="#1a1a1a" font-family="Liberation Serif, Times New Roman, serif" stroke="#1a1a1a" stroke-width="0.18">40</text>
<text transform="translate(456.40,372.70) scale(1.04,0.92)" font-size="12" text-anchor="middle" fill="#1a1a1a" font-family="Liberation Serif, Times New Roman, serif" stroke="#1a1a1a" stroke-width="0.15">Time (day)</text>
<text transform="translate(352.6,277.9) rotate(-90) scale(0.86,1)" font-size="12.4" text-anchor="middle" fill="#1a1a1a" font-family="Liberation Serif, Times New Roman, serif" stroke="#1a1a1a" stroke-width="0.12">Zeta potential (mV)</text>
<line x1="375.7" y1="216.40" x2="392.7" y2="216.40" stroke="#ff4646" stroke-width="1.1"/>
<circle cx="384.30" cy="216.40" r="1.5" fill="#ff4646"/>
<text x="394.20" y="218.70" font-size="6.9" fill="#2a2a2a" font-family="Liberation Serif, Times New Roman, serif">SeNPs</text>
<line x1="375.7" y1="224.45" x2="392.7" y2="224.45" stroke="#f6b72c" stroke-width="1.1"/>
<circle cx="384.30" cy="224.45" r="1.5" fill="#f6b72c"/>
<text x="394.20" y="226.75" font-size="6.9" fill="#2a2a2a" font-family="Liberation Serif, Times New Roman, serif">LBP1-SeNPs</text>
<line x1="375.7" y1="232.50" x2="392.7" y2="232.50" stroke="#2b7a56" stroke-width="1.1"/>
<path d="M384.30,230.85 L385.80,233.70 L382.80,233.70 Z" fill="#2b7a56"/>
<text x="394.20" y="234.80" font-size="6.9" fill="#2a2a2a" font-family="Liberation Serif, Times New Roman, serif">LBP2-SeNPs</text>
<line x1="375.7" y1="240.55" x2="392.7" y2="240.55" stroke="#9c64aa" stroke-width="1.1"/>
<path d="M384.30,242.20 L385.80,239.35 L382.80,239.35 Z" fill="#9c64aa"/>
<text x="394.20" y="242.85" font-size="6.9" fill="#2a2a2a" font-family="Liberation Serif, Times New Roman, serif">LBP3-SeNPs</text>
</svg></body></html>
